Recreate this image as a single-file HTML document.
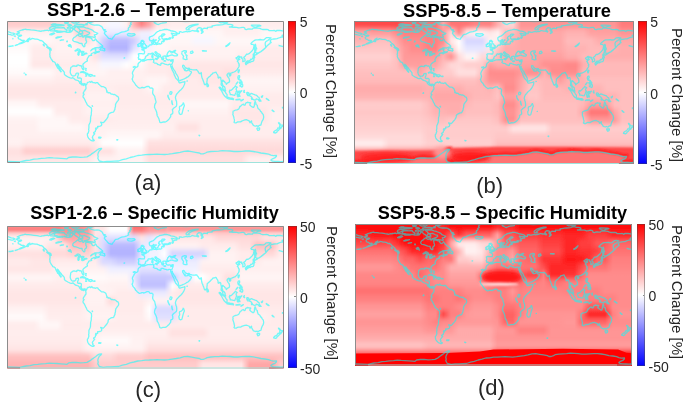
<!DOCTYPE html>
<html><head><meta charset="utf-8"><style>
html,body{margin:0;padding:0;background:#fff;width:685px;height:403px;overflow:hidden;position:relative}
.t{position:absolute;font-family:"Liberation Sans",sans-serif;white-space:nowrap;line-height:1}
.title{font-weight:bold;color:#000}
.lab{font-size:22px;color:#262626}
.tick{font-size:14px;color:#262626}
.ylab{font-size:15px;color:#262626;transform-origin:0 0;transform:rotate(90deg)}
.cb{position:absolute;box-sizing:border-box;border:1px solid rgba(70,70,70,0.45);background:linear-gradient(to bottom,#ff0000,#ffffff 50%,#0000ff);background-origin:border-box;background-repeat:no-repeat}
.cbt{position:absolute;width:1.5px;height:1px;background:rgba(60,60,60,0.6)}
svg.map{position:absolute;overflow:hidden}
</style></head><body>

<svg class="map" style="left:7px;top:21px" width="277" height="142" viewBox="0 0 277 142"><rect x="0" y="0" width="277" height="142" fill="#fde8e8"/><defs><filter id="bla" x="-5%" y="-5%" width="110%" height="110%"><feGaussianBlur stdDeviation="0.6 2.8"/></filter><linearGradient id="ga0" gradientUnits="userSpaceOnUse" x1="0" y1="0" x2="277.0" y2="0"><stop offset="0.014" stop-color="#ffcccc"/><stop offset="0.153" stop-color="#ffcccc"/><stop offset="0.181" stop-color="#ffd9d9"/><stop offset="0.292" stop-color="#ffd9d9"/><stop offset="0.319" stop-color="#fff2f2"/><stop offset="0.347" stop-color="#fff2f2"/><stop offset="0.375" stop-color="#f7f7ff"/><stop offset="0.403" stop-color="#f7f7ff"/><stop offset="0.431" stop-color="#fff2f2"/><stop offset="0.458" stop-color="#ffb2b2"/><stop offset="0.486" stop-color="#ff8080"/><stop offset="0.514" stop-color="#ffa6a6"/><stop offset="0.542" stop-color="#ffe6e6"/><stop offset="0.569" stop-color="#ffe6e6"/><stop offset="0.597" stop-color="#ffeded"/><stop offset="0.986" stop-color="#ffeded"/></linearGradient><linearGradient id="ga1" gradientUnits="userSpaceOnUse" x1="0" y1="0" x2="277.0" y2="0"><stop offset="0.014" stop-color="#fff2f2"/><stop offset="0.153" stop-color="#fff2f2"/><stop offset="0.181" stop-color="#ffebeb"/><stop offset="0.236" stop-color="#ffebeb"/><stop offset="0.264" stop-color="#ffcccc"/><stop offset="0.292" stop-color="#ffcccc"/><stop offset="0.319" stop-color="#fff2f2"/><stop offset="0.347" stop-color="#ebebff"/><stop offset="0.431" stop-color="#ebebff"/><stop offset="0.458" stop-color="#ffe6e6"/><stop offset="0.486" stop-color="#f0f0ff"/><stop offset="0.514" stop-color="#f0f0ff"/><stop offset="0.542" stop-color="#fffafa"/><stop offset="0.569" stop-color="#fffafa"/><stop offset="0.597" stop-color="#fff7f7"/><stop offset="0.764" stop-color="#fff7f7"/><stop offset="0.792" stop-color="#fff0f0"/><stop offset="0.903" stop-color="#fff0f0"/><stop offset="0.931" stop-color="#fff7f7"/><stop offset="0.986" stop-color="#fff7f7"/></linearGradient><linearGradient id="ga2" gradientUnits="userSpaceOnUse" x1="0" y1="0" x2="277.0" y2="0"><stop offset="0.014" stop-color="#fff7f7"/><stop offset="0.153" stop-color="#fff7f7"/><stop offset="0.181" stop-color="#fff2f2"/><stop offset="0.236" stop-color="#fff2f2"/><stop offset="0.264" stop-color="#ffe0e0"/><stop offset="0.292" stop-color="#ffe0e0"/><stop offset="0.319" stop-color="#fff2f2"/><stop offset="0.347" stop-color="#d1d1ff"/><stop offset="0.375" stop-color="#babaff"/><stop offset="0.431" stop-color="#babaff"/><stop offset="0.458" stop-color="#ccccff"/><stop offset="0.486" stop-color="#ebebff"/><stop offset="0.514" stop-color="#ebebff"/><stop offset="0.542" stop-color="#fff7f7"/><stop offset="0.653" stop-color="#fff7f7"/><stop offset="0.681" stop-color="#f7f7ff"/><stop offset="0.736" stop-color="#f7f7ff"/><stop offset="0.764" stop-color="#fff7f7"/><stop offset="0.986" stop-color="#fff7f7"/></linearGradient><linearGradient id="ga3" gradientUnits="userSpaceOnUse" x1="0" y1="0" x2="277.0" y2="0"><stop offset="0.014" stop-color="#fffafa"/><stop offset="0.069" stop-color="#fffafa"/><stop offset="0.097" stop-color="#ffebeb"/><stop offset="0.153" stop-color="#ffebeb"/><stop offset="0.181" stop-color="#fff2f2"/><stop offset="0.319" stop-color="#fff2f2"/><stop offset="0.347" stop-color="#ccccff"/><stop offset="0.375" stop-color="#b2b2ff"/><stop offset="0.431" stop-color="#b2b2ff"/><stop offset="0.458" stop-color="#e0e0ff"/><stop offset="0.486" stop-color="#f5f5ff"/><stop offset="0.514" stop-color="#f5f5ff"/><stop offset="0.542" stop-color="#fff7f7"/><stop offset="0.569" stop-color="#fff7f7"/><stop offset="0.597" stop-color="#fff2f2"/><stop offset="0.903" stop-color="#fff2f2"/><stop offset="0.931" stop-color="#ffebeb"/><stop offset="0.986" stop-color="#ffebeb"/></linearGradient><linearGradient id="ga4" gradientUnits="userSpaceOnUse" x1="0" y1="0" x2="277.0" y2="0"><stop offset="0.014" stop-color="#ffffff"/><stop offset="0.069" stop-color="#ffffff"/><stop offset="0.097" stop-color="#ffebeb"/><stop offset="0.153" stop-color="#ffebeb"/><stop offset="0.181" stop-color="#fff0f0"/><stop offset="0.292" stop-color="#fff0f0"/><stop offset="0.319" stop-color="#ffe0e0"/><stop offset="0.347" stop-color="#e0e0ff"/><stop offset="0.431" stop-color="#e0e0ff"/><stop offset="0.458" stop-color="#ffffff"/><stop offset="0.486" stop-color="#ffffff"/><stop offset="0.514" stop-color="#fff2f2"/><stop offset="0.819" stop-color="#fff2f2"/><stop offset="0.847" stop-color="#ffebeb"/><stop offset="0.986" stop-color="#ffebeb"/></linearGradient><linearGradient id="ga5" gradientUnits="userSpaceOnUse" x1="0" y1="0" x2="277.0" y2="0"><stop offset="0.014" stop-color="#ffffff"/><stop offset="0.069" stop-color="#ffffff"/><stop offset="0.097" stop-color="#ffe6e6"/><stop offset="0.153" stop-color="#ffe6e6"/><stop offset="0.181" stop-color="#ffebeb"/><stop offset="0.264" stop-color="#ffebeb"/><stop offset="0.292" stop-color="#fff2f2"/><stop offset="0.319" stop-color="#fff2f2"/><stop offset="0.347" stop-color="#f7f7ff"/><stop offset="0.403" stop-color="#f7f7ff"/><stop offset="0.431" stop-color="#ffffff"/><stop offset="0.458" stop-color="#fff7f7"/><stop offset="0.486" stop-color="#fff7f7"/><stop offset="0.514" stop-color="#ffebeb"/><stop offset="0.625" stop-color="#ffebeb"/><stop offset="0.653" stop-color="#ffe6e6"/><stop offset="0.986" stop-color="#ffe6e6"/></linearGradient><linearGradient id="ga6" gradientUnits="userSpaceOnUse" x1="0" y1="0" x2="277.0" y2="0"><stop offset="0.014" stop-color="#fffafa"/><stop offset="0.153" stop-color="#fffafa"/><stop offset="0.181" stop-color="#fff0f0"/><stop offset="0.264" stop-color="#fff0f0"/><stop offset="0.292" stop-color="#fff5f5"/><stop offset="0.347" stop-color="#fff5f5"/><stop offset="0.375" stop-color="#fff0f0"/><stop offset="0.486" stop-color="#fff0f0"/><stop offset="0.514" stop-color="#ffebeb"/><stop offset="0.569" stop-color="#ffebeb"/><stop offset="0.597" stop-color="#ffe6e6"/><stop offset="0.764" stop-color="#ffe6e6"/><stop offset="0.792" stop-color="#ffe0e0"/><stop offset="0.819" stop-color="#ffe0e0"/><stop offset="0.847" stop-color="#ffebeb"/><stop offset="0.986" stop-color="#ffebeb"/></linearGradient><linearGradient id="ga7" gradientUnits="userSpaceOnUse" x1="0" y1="0" x2="277.0" y2="0"><stop offset="0.014" stop-color="#fff0f0"/><stop offset="0.153" stop-color="#fff0f0"/><stop offset="0.181" stop-color="#ffebeb"/><stop offset="0.264" stop-color="#ffebeb"/><stop offset="0.292" stop-color="#fff0f0"/><stop offset="0.486" stop-color="#fff0f0"/><stop offset="0.514" stop-color="#fff5f5"/><stop offset="0.569" stop-color="#fff5f5"/><stop offset="0.597" stop-color="#ffebeb"/><stop offset="0.681" stop-color="#ffebeb"/><stop offset="0.708" stop-color="#ffe6e6"/><stop offset="0.819" stop-color="#ffe6e6"/><stop offset="0.847" stop-color="#fff5f5"/><stop offset="0.986" stop-color="#fff5f5"/></linearGradient><linearGradient id="ga8" gradientUnits="userSpaceOnUse" x1="0" y1="0" x2="277.0" y2="0"><stop offset="0.014" stop-color="#ffe6e6"/><stop offset="0.264" stop-color="#ffe6e6"/><stop offset="0.292" stop-color="#ffeded"/><stop offset="0.375" stop-color="#ffeded"/><stop offset="0.403" stop-color="#ffebeb"/><stop offset="0.486" stop-color="#ffebeb"/><stop offset="0.514" stop-color="#fff5f5"/><stop offset="0.542" stop-color="#fff5f5"/><stop offset="0.569" stop-color="#ffebeb"/><stop offset="0.819" stop-color="#ffebeb"/><stop offset="0.847" stop-color="#fff2f2"/><stop offset="0.986" stop-color="#fff2f2"/></linearGradient><linearGradient id="ga9" gradientUnits="userSpaceOnUse" x1="0" y1="0" x2="277.0" y2="0"><stop offset="0.014" stop-color="#ffe6e6"/><stop offset="0.264" stop-color="#ffe6e6"/><stop offset="0.292" stop-color="#fff2f2"/><stop offset="0.375" stop-color="#fff2f2"/><stop offset="0.403" stop-color="#ffebeb"/><stop offset="0.986" stop-color="#ffebeb"/></linearGradient><linearGradient id="ga10" gradientUnits="userSpaceOnUse" x1="0" y1="0" x2="277.0" y2="0"><stop offset="0.014" stop-color="#fff7f7"/><stop offset="0.097" stop-color="#fff7f7"/><stop offset="0.125" stop-color="#ffebeb"/><stop offset="0.264" stop-color="#ffebeb"/><stop offset="0.292" stop-color="#fff0f0"/><stop offset="0.375" stop-color="#fff0f0"/><stop offset="0.403" stop-color="#ffebeb"/><stop offset="0.597" stop-color="#ffebeb"/><stop offset="0.625" stop-color="#fff7f7"/><stop offset="0.792" stop-color="#fff7f7"/><stop offset="0.819" stop-color="#ffebeb"/><stop offset="0.986" stop-color="#ffebeb"/></linearGradient><linearGradient id="ga11" gradientUnits="userSpaceOnUse" x1="0" y1="0" x2="277.0" y2="0"><stop offset="0.014" stop-color="#ffffff"/><stop offset="0.153" stop-color="#ffffff"/><stop offset="0.181" stop-color="#ffebeb"/><stop offset="0.264" stop-color="#ffebeb"/><stop offset="0.292" stop-color="#fff2f2"/><stop offset="0.375" stop-color="#fff2f2"/><stop offset="0.403" stop-color="#ffeded"/><stop offset="0.597" stop-color="#ffeded"/><stop offset="0.625" stop-color="#fff2f2"/><stop offset="0.792" stop-color="#fff2f2"/><stop offset="0.819" stop-color="#ffe6e6"/><stop offset="0.931" stop-color="#ffe6e6"/><stop offset="0.958" stop-color="#fff0f0"/><stop offset="0.986" stop-color="#fff0f0"/></linearGradient><linearGradient id="ga12" gradientUnits="userSpaceOnUse" x1="0" y1="0" x2="277.0" y2="0"><stop offset="0.014" stop-color="#fff2f2"/><stop offset="0.097" stop-color="#fff2f2"/><stop offset="0.125" stop-color="#fff7f7"/><stop offset="0.208" stop-color="#fff7f7"/><stop offset="0.236" stop-color="#ffebeb"/><stop offset="0.375" stop-color="#ffebeb"/><stop offset="0.403" stop-color="#ffeded"/><stop offset="0.819" stop-color="#ffeded"/><stop offset="0.847" stop-color="#ffe6e6"/><stop offset="0.931" stop-color="#ffe6e6"/><stop offset="0.958" stop-color="#fff0f0"/><stop offset="0.986" stop-color="#fff0f0"/></linearGradient><linearGradient id="ga13" gradientUnits="userSpaceOnUse" x1="0" y1="0" x2="277.0" y2="0"><stop offset="0.014" stop-color="#fff0f0"/><stop offset="0.097" stop-color="#fff0f0"/><stop offset="0.125" stop-color="#fff7f7"/><stop offset="0.264" stop-color="#fff7f7"/><stop offset="0.292" stop-color="#fff0f0"/><stop offset="0.597" stop-color="#fff0f0"/><stop offset="0.625" stop-color="#ffe0e0"/><stop offset="0.681" stop-color="#ffe0e0"/><stop offset="0.708" stop-color="#ffeded"/><stop offset="0.986" stop-color="#ffeded"/></linearGradient><linearGradient id="ga14" gradientUnits="userSpaceOnUse" x1="0" y1="0" x2="277.0" y2="0"><stop offset="0.014" stop-color="#fff0f0"/><stop offset="0.264" stop-color="#fff0f0"/><stop offset="0.292" stop-color="#fff2f2"/><stop offset="0.347" stop-color="#fff2f2"/><stop offset="0.375" stop-color="#fff7f7"/><stop offset="0.542" stop-color="#fff7f7"/><stop offset="0.569" stop-color="#ffeded"/><stop offset="0.986" stop-color="#ffeded"/></linearGradient><linearGradient id="ga15" gradientUnits="userSpaceOnUse" x1="0" y1="0" x2="277.0" y2="0"><stop offset="0.014" stop-color="#fff2f2"/><stop offset="0.042" stop-color="#fff2f2"/><stop offset="0.069" stop-color="#ffebeb"/><stop offset="0.319" stop-color="#ffebeb"/><stop offset="0.347" stop-color="#ffffff"/><stop offset="0.486" stop-color="#ffffff"/><stop offset="0.514" stop-color="#ffe0e0"/><stop offset="0.986" stop-color="#ffe0e0"/></linearGradient><linearGradient id="ga16" gradientUnits="userSpaceOnUse" x1="0" y1="0" x2="277.0" y2="0"><stop offset="0.014" stop-color="#ffe0e0"/><stop offset="0.042" stop-color="#ffe0e0"/><stop offset="0.069" stop-color="#ffcccc"/><stop offset="0.292" stop-color="#ffcccc"/><stop offset="0.319" stop-color="#ffe0e0"/><stop offset="0.375" stop-color="#ffe0e0"/><stop offset="0.403" stop-color="#fff2f2"/><stop offset="0.486" stop-color="#fff2f2"/><stop offset="0.514" stop-color="#ffd9d9"/><stop offset="0.986" stop-color="#ffd9d9"/></linearGradient><linearGradient id="ga17" gradientUnits="userSpaceOnUse" x1="0" y1="0" x2="277.0" y2="0"><stop offset="0.014" stop-color="#ffe6e6"/><stop offset="0.292" stop-color="#ffe6e6"/><stop offset="0.319" stop-color="#fff2f2"/><stop offset="0.486" stop-color="#fff2f2"/><stop offset="0.514" stop-color="#ffe0e0"/><stop offset="0.847" stop-color="#ffe0e0"/><stop offset="0.875" stop-color="#fff0f0"/><stop offset="0.986" stop-color="#fff0f0"/></linearGradient></defs><g filter="url(#bla)"><rect x="-4" y="-7.89" width="285.0" height="8.39" fill="url(#ga0)"/><rect x="-4" y="0.00" width="285.0" height="8.39" fill="url(#ga0)"/><rect x="-4" y="7.89" width="285.0" height="8.39" fill="url(#ga1)"/><rect x="-4" y="15.78" width="285.0" height="8.39" fill="url(#ga2)"/><rect x="-4" y="23.67" width="285.0" height="8.39" fill="url(#ga3)"/><rect x="-4" y="31.56" width="285.0" height="8.39" fill="url(#ga4)"/><rect x="-4" y="39.44" width="285.0" height="8.39" fill="url(#ga5)"/><rect x="-4" y="47.33" width="285.0" height="8.39" fill="url(#ga6)"/><rect x="-4" y="55.22" width="285.0" height="8.39" fill="url(#ga7)"/><rect x="-4" y="63.11" width="285.0" height="8.39" fill="url(#ga8)"/><rect x="-4" y="71.00" width="285.0" height="8.39" fill="url(#ga9)"/><rect x="-4" y="78.89" width="285.0" height="8.39" fill="url(#ga10)"/><rect x="-4" y="86.78" width="285.0" height="8.39" fill="url(#ga11)"/><rect x="-4" y="94.67" width="285.0" height="8.39" fill="url(#ga12)"/><rect x="-4" y="102.56" width="285.0" height="8.39" fill="url(#ga13)"/><rect x="-4" y="110.44" width="285.0" height="8.39" fill="url(#ga14)"/><rect x="-4" y="118.33" width="285.0" height="8.39" fill="url(#ga15)"/><rect x="-4" y="126.22" width="285.0" height="8.39" fill="url(#ga16)"/><rect x="-4" y="134.11" width="285.0" height="8.39" fill="url(#ga17)"/><rect x="-4" y="142.00" width="285.0" height="8.39" fill="url(#ga17)"/></g><path d="M17.9,8.2 19.6,8.5 21.5,8.6 23.9,8.9 26.9,9.2 30.0,9.7 32.3,10.0 33.9,10.3 35.0,9.8 36.2,9.9 37.7,9.5 38.9,9.3 40.4,9.1 41.5,9.8 42.6,9.2 43.9,9.8 45.4,9.8 47.3,10.0 49.2,10.3 50.0,11.3 52.3,11.3 54.6,11.1 55.8,10.9 56.9,10.4 60.0,11.3 62.7,11.3 64.2,10.8 65.0,10.0 65.8,8.9 65.6,7.8 67.3,8.5 68.1,9.3 69.6,10.4 70.8,11.1 71.9,11.7 72.9,10.4 73.1,9.5 74.6,9.7 75.4,11.1 75.9,12.2 73.9,12.6 72.1,12.4 71.2,13.5 69.6,14.6 68.5,15.7 66.9,16.6 65.8,18.1 65.7,19.2 66.9,20.4 68.9,20.8 70.8,21.4 72.7,22.3 75.0,22.5 75.3,23.9 75.9,24.8 76.9,25.8 77.7,25.5 77.9,24.8 77.7,23.3 79.3,21.8 79.6,20.3 78.9,19.2 78.9,18.0 78.6,16.8 79.3,16.0 81.2,16.2 83.1,16.8 84.6,17.3 85.0,18.6 85.8,19.5 86.9,19.6 87.7,19.1 88.5,17.9 89.1,18.6 90.0,20.1 91.2,21.1 92.3,22.0 93.9,23.2 94.6,23.9 95.6,24.8 95.0,25.6 93.5,25.9 91.9,26.8 90.0,26.7 88.1,26.7 86.9,27.4 85.8,27.9 84.8,28.5 83.7,29.8 85.0,28.8 86.6,27.8 88.5,27.7 89.0,28.0 88.6,28.7 88.3,29.2 88.6,29.6 88.9,30.2 90.0,30.7 91.2,30.7 92.3,30.3 92.3,30.8 91.4,31.2 89.6,31.7 87.9,32.7 87.6,31.8 88.9,31.1 88.1,31.2 86.9,31.5 85.8,32.0 84.6,32.5 84.0,33.5 84.6,34.0 84.6,34.3 83.9,34.4 82.7,34.7 81.6,35.2 81.5,35.9 80.9,36.7 80.7,37.0 80.3,37.7 80.0,38.4 80.3,39.1 80.4,39.9 79.6,40.4 78.9,40.7 78.1,41.2 77.5,41.8 76.7,42.5 76.0,43.3 75.9,44.3 76.2,45.2 76.6,46.1 76.9,47.2 76.9,48.2 76.6,48.8 76.0,48.7 75.6,47.9 74.9,46.8 74.8,45.9 74.3,44.9 73.7,44.6 72.9,44.8 71.9,44.2 70.8,44.0 69.8,44.3 69.9,45.2 69.1,45.4 68.1,45.0 66.9,44.8 65.8,45.0 65.0,45.7 64.0,46.3 63.6,47.2 63.6,48.3 63.3,49.9 63.2,51.2 63.6,52.5 64.2,53.8 65.0,54.5 65.8,55.0 66.9,54.8 67.9,54.6 68.7,53.9 68.9,52.7 69.6,52.2 71.2,52.1 71.6,52.5 71.3,53.8 70.9,54.9 70.6,55.6 70.6,56.7 71.2,57.1 72.3,57.0 73.5,57.1 74.4,57.8 74.3,59.1 74.2,60.9 74.6,62.2 75.4,63.0 76.6,63.0 77.3,62.6 78.1,62.8 78.9,63.4 79.4,63.9 79.9,62.8 80.3,61.8 80.9,61.3 81.9,61.0 82.9,60.5 83.6,61.4 84.5,60.8 84.8,60.3 85.3,60.9 86.0,61.7 87.3,61.7 88.5,62.1 89.4,61.6 90.8,61.6 90.9,62.2 91.6,63.1 92.2,63.5 93.1,64.4 93.9,65.0 94.6,65.7 96.2,65.7 97.1,66.0 98.1,66.6 98.9,67.3 99.3,68.4 99.6,69.4 100.0,70.1 99.6,71.0 100.8,71.2 101.2,71.9 102.0,71.6 103.1,71.9 104.3,73.2 105.4,73.2 106.6,73.6 107.7,73.5 108.9,74.3 109.9,75.2 111.0,75.6 111.5,76.7 111.7,77.6 111.5,78.9 111.0,79.6 110.2,80.5 109.5,81.6 108.9,82.5 108.5,83.8 108.5,85.5 108.0,86.9 107.9,88.3 107.3,89.3 107.0,90.4 106.2,91.2 105.0,91.3 104.1,91.6 103.1,92.1 102.0,92.8 101.2,93.8 101.1,95.2 100.8,96.2 99.9,97.6 99.3,98.5 98.3,99.5 97.3,100.8 96.3,101.7 95.4,101.7 94.6,101.4 93.6,101.1 94.3,102.1 94.6,103.0 94.8,103.6 94.2,104.7 93.1,105.1 91.6,105.4 90.6,105.4 90.8,106.7 90.0,107.2 88.9,106.9 88.5,108.0 89.3,108.4 88.5,109.3 88.3,110.6 86.9,111.3 86.6,112.0 87.7,112.8 86.6,114.2 85.8,115.2 85.3,116.4 85.9,117.1 85.7,118.0 86.2,118.6 87.3,119.3 86.6,119.9 85.4,119.9 83.9,119.3 82.7,118.4 81.6,117.2 80.8,115.9 80.4,114.2 80.4,112.8 81.2,112.0 81.6,110.6 81.9,109.6 81.6,108.4 81.9,107.1 81.9,105.8 81.9,104.0 82.5,102.7 83.1,101.4 83.5,100.1 83.5,98.7 83.6,97.4 83.6,96.1 84.0,94.8 84.3,93.5 84.3,91.7 84.6,89.9 84.5,88.2 84.4,87.1 83.6,86.5 82.7,85.8 81.6,84.9 80.4,84.0 79.8,82.9 79.4,81.8 78.9,81.1 78.3,79.8 77.7,78.5 77.1,77.3 76.3,76.5 76.0,75.4 76.2,74.5 76.7,74.0 77.1,73.2 76.3,72.9 76.3,71.9 76.9,70.7 77.1,70.1 77.9,69.6 78.1,68.8 78.9,67.9 79.0,67.0 78.9,65.7 78.6,64.7 78.1,63.7 77.3,63.2 76.6,63.7 76.8,64.5 76.2,64.2 75.6,63.9 74.7,63.8 74.2,63.2 73.5,62.6 72.9,62.3 72.5,61.7 72.6,61.1 71.9,60.5 71.2,59.6 70.4,59.4 69.4,59.1 68.3,58.8 67.5,58.1 66.6,57.2 65.8,56.7 65.0,57.1 64.2,57.2 63.2,56.9 61.9,56.3 60.8,55.8 59.6,55.1 58.5,54.4 57.5,53.6 57.3,52.7 57.5,51.8 57.1,51.0 56.3,50.0 55.4,49.0 54.5,48.3 54.2,47.4 53.4,46.5 52.6,45.8 52.1,45.0 51.6,44.1 50.8,43.4 50.2,43.0 50.3,43.9 51.2,45.0 51.7,45.9 52.3,47.0 52.7,47.8 53.2,49.2 53.7,49.9 54.2,50.6 53.9,50.8 53.5,50.3 52.6,49.4 52.2,48.5 51.6,47.7 50.6,47.0 50.4,46.3 49.6,45.0 48.9,43.7 48.4,42.4 48.2,41.7 47.4,41.0 46.6,40.7 45.7,40.5 45.5,39.7 44.7,38.8 44.2,38.0 43.9,37.3 43.2,36.2 42.9,35.5 43.0,34.4 42.7,33.3 43.0,31.8 43.1,30.3 42.9,29.6 42.6,28.4 43.9,28.6 44.2,29.3 44.0,27.9 43.5,27.3 42.3,26.7 41.2,26.1 40.2,25.4 39.8,24.3 38.7,23.2 38.2,22.7 37.3,22.1 36.5,21.2 35.8,20.3 34.2,19.5 33.2,19.6 32.3,19.0 30.9,18.4 29.6,18.1 28.1,18.1 26.5,17.7 25.0,17.4 24.2,18.1 23.1,18.6 21.7,18.9 21.9,17.7 22.9,17.1 21.2,17.9 20.4,18.8 19.9,19.6 18.5,20.5 17.3,21.2 15.8,21.8 14.6,22.3 13.5,22.7 11.7,23.1 12.7,22.4 14.0,21.8 15.4,21.2 16.5,20.3 17.3,19.6 16.9,19.3 15.8,19.4 14.2,19.4 13.7,18.4 12.5,18.1 11.4,17.6 11.1,16.6 11.5,15.9 12.2,15.3 13.9,15.1 14.6,14.4 13.9,14.1 12.3,14.2 10.6,14.1 10.3,13.6 9.2,13.2 10.4,12.7 11.9,12.3 12.5,11.9 11.2,11.2 10.2,10.8 11.5,10.3 13.1,9.6 15.0,9.0 16.9,8.5 17.9,8.2M104.7,18.3 103.5,17.7 101.6,17.3 100.4,15.9 99.6,14.9 98.9,14.2 98.1,13.3 97.3,12.2 97.7,11.1 99.3,10.4 97.3,9.8 96.9,9.3 98.5,8.9 96.6,8.5 95.8,7.6 95.4,6.3 94.3,5.4 92.3,4.2 90.0,3.9 87.3,4.1 85.4,3.6 83.5,2.8 82.3,1.9 84.3,1.4 86.9,0.5 90.0,-0.4 93.9,-1.2 100.0,-1.7 104.6,-2.1 111.6,-2.6 117.7,-2.4 122.3,-1.8 125.4,-1.1 128.9,-0.8 126.2,0.1 124.3,1.0 123.5,2.3 124.3,3.3 122.7,4.5 123.1,5.4 121.6,6.7 121.2,8.0 121.7,8.9 120.0,9.8 117.7,10.7 114.6,11.1 112.7,12.0 110.8,13.0 108.9,13.3 107.7,14.2 107.0,15.5 105.8,16.8 105.4,17.7 104.7,18.3M88.6,16.4 87.3,13.9 89.6,13.3 90.8,12.3 88.9,11.5 86.9,10.7 85.8,9.3 84.3,8.6 82.7,8.0 81.2,7.4 78.9,6.9 76.9,6.2 73.9,6.2 70.4,6.4 71.6,7.1 72.7,8.5 73.5,9.3 75.8,9.8 77.7,9.4 78.9,10.0 80.4,10.8 82.3,11.3 82.7,12.2 81.9,13.0 80.8,13.7 78.9,14.3 80.0,15.1 81.6,15.3 83.5,15.7 85.4,15.9 87.7,16.5 88.6,16.4M71.9,15.0 73.1,15.5 75.4,14.8 75.8,14.2 74.3,13.6 72.3,12.9 71.2,14.2 71.9,15.0M60.4,10.0 58.1,10.3 55.4,10.4 51.2,10.0 48.1,9.5 47.3,8.5 48.1,7.1 50.8,6.5 53.9,6.9 56.9,6.5 58.1,8.0 59.6,8.9 60.4,10.0M41.9,7.7 43.1,6.3 45.4,5.4 48.1,5.6 49.6,6.3 47.3,7.1 44.6,8.3 41.9,7.7M60.4,7.8 63.5,8.0 64.2,6.9 62.7,6.0 60.4,6.7 60.4,7.8M65.4,7.6 66.9,7.6 68.9,6.3 65.8,5.7 65.0,6.7 65.4,7.6M76.9,5.3 73.9,5.4 69.2,5.3 67.3,4.9 67.7,3.9 70.8,3.7 75.0,3.6 76.9,4.2 76.9,5.3M80.8,3.6 77.3,3.9 74.6,3.3 69.6,3.5 70.0,2.1 72.3,1.0 70.4,0.1 68.5,-0.4 73.1,-1.2 78.5,-2.0 84.6,-2.1 90.8,-1.7 88.9,-1.0 85.4,0.0 83.5,0.7 80.8,1.4 80.4,2.3 78.5,3.2 80.8,3.6M69.2,1.8 66.2,2.0 64.6,1.0 65.4,0.0 68.1,0.1 69.2,1.0 69.2,1.8M57.7,4.2 53.9,4.8 50.4,4.9 48.1,4.2 50.0,3.5 53.9,3.7 56.9,4.1 57.7,4.2M63.9,4.9 61.2,4.8 60.8,3.8 63.1,3.5 64.6,4.4 63.9,4.9M49.6,3.6 46.9,4.2 44.2,3.8 46.2,2.9 48.9,3.0 49.6,3.6M61.6,2.3 58.1,2.6 57.7,1.4 61.2,1.4 61.6,2.3M64.2,10.4 62.7,10.6 61.9,9.7 63.5,9.4 64.2,10.4M92.9,29.1 95.4,29.1 96.2,29.5 97.3,29.9 98.0,29.1 97.3,28.3 97.7,27.6 95.8,27.1 95.4,26.1 95.8,25.5 94.6,26.1 93.9,27.4 92.9,28.3 92.9,29.1M43.6,28.4 42.3,28.0 40.8,27.0 39.7,26.3 40.4,26.2 41.9,26.7 43.1,27.6 43.6,28.4M73.1,51.7 73.9,51.0 75.4,50.6 76.9,50.7 78.9,51.8 80.3,52.4 81.4,53.2 80.3,53.5 78.7,53.5 79.1,52.8 78.1,52.0 76.2,51.6 74.8,51.1 73.9,51.7 73.1,51.7M81.3,54.8 82.5,53.5 84.6,53.6 85.9,54.6 84.6,55.0 83.5,55.5 82.7,55.0 81.3,54.8M78.3,54.8 79.8,55.0 79.4,55.2 78.6,55.2 78.3,54.8M86.8,54.7 88.0,54.8 88.0,55.1 86.8,55.1 86.8,54.7M120.0,13.3 121.6,12.5 124.3,12.8 127.0,12.6 128.1,13.6 127.0,14.4 124.7,15.2 122.3,14.8 121.2,14.6 120.0,13.3M20.4,20.8 21.4,20.3 21.1,19.9 19.9,20.3 20.4,20.8M36.2,24.3 37.3,25.0 36.9,23.4 36.2,23.4 36.2,24.3M134.2,39.3 133.9,38.9 133.6,38.6 133.1,38.2 132.4,38.4 131.7,38.4 131.7,37.2 131.2,36.9 131.6,36.1 131.8,35.2 131.7,34.1 131.3,33.1 132.2,32.6 133.1,32.6 134.7,32.7 135.8,32.8 137.1,32.8 137.5,31.8 137.6,30.5 136.8,29.4 135.8,29.0 135.0,28.8 134.9,28.4 135.8,28.0 137.0,28.2 137.3,28.1 137.0,27.2 137.7,27.5 138.7,27.4 139.6,26.9 139.7,26.2 140.4,26.0 141.3,25.7 141.8,25.2 142.2,24.4 142.8,24.0 143.9,23.8 144.7,23.8 145.2,23.5 145.1,22.6 144.7,22.0 144.8,21.0 145.8,20.7 146.7,20.2 146.5,20.8 146.4,21.3 146.9,21.4 146.2,22.1 146.0,22.6 146.2,22.9 146.9,23.1 147.0,23.4 147.7,23.3 148.5,23.0 149.4,23.5 151.2,23.0 152.6,22.7 152.8,23.1 153.6,23.0 154.8,22.4 154.7,21.7 154.7,21.0 155.1,20.4 155.8,20.2 156.4,20.8 157.0,20.7 157.3,19.6 156.6,19.4 156.6,18.9 157.6,18.6 158.9,18.6 160.0,18.6 161.7,18.2 160.8,18.0 159.3,17.7 157.7,17.9 156.1,18.2 155.4,17.8 155.0,17.3 155.0,16.4 154.7,15.7 155.6,15.1 156.6,14.5 157.4,13.8 158.0,13.5 157.4,13.0 156.6,13.0 155.7,13.0 155.0,13.4 154.9,13.9 154.4,14.6 153.4,15.0 152.7,15.6 152.0,16.0 151.8,16.8 151.7,17.5 152.5,17.9 153.0,18.3 152.7,18.8 151.8,19.3 151.3,20.0 151.1,21.1 150.5,21.6 149.5,22.0 148.5,22.2 148.4,21.8 148.2,21.3 148.0,20.9 147.7,20.3 147.2,19.4 146.7,18.3 146.3,18.9 145.8,19.1 144.8,19.7 143.9,19.9 143.1,19.6 142.8,19.2 142.5,18.6 142.3,17.7 142.3,17.1 142.4,16.4 143.1,15.9 143.9,15.5 145.0,15.1 145.8,14.8 146.6,14.2 147.3,13.7 148.1,12.9 148.9,12.0 149.7,11.3 150.3,10.7 151.2,10.4 152.0,10.0 152.7,9.5 153.9,9.3 155.0,9.1 156.2,8.8 157.4,8.5 158.4,8.4 159.3,8.5 160.4,8.5 161.6,9.0 162.4,9.1 163.9,9.9 165.4,10.0 167.0,10.3 168.1,10.7 169.3,11.3 170.1,11.8 170.0,12.4 168.5,12.8 167.0,12.7 165.4,12.3 164.3,12.2 165.0,13.0 165.3,14.1 166.0,14.4 167.0,14.7 167.6,14.3 168.9,14.1 169.7,14.1 169.3,13.3 170.4,12.8 172.0,12.5 172.4,12.4 172.3,10.9 173.9,10.7 175.0,11.3 176.2,11.2 177.4,10.8 179.3,10.4 180.4,10.8 181.4,10.7 182.7,10.6 183.9,10.2 185.1,9.5 185.8,9.6 187.7,10.0 189.3,10.0 190.1,10.4 191.2,10.9 191.6,10.4 190.8,9.5 189.9,8.9 190.2,8.0 191.2,7.0 192.0,6.6 193.5,6.8 194.5,7.3 194.3,8.2 193.9,8.9 194.4,9.8 195.1,10.7 194.8,12.0 194.3,12.4 195.8,11.5 196.2,10.8 195.8,10.2 195.3,9.3 195.4,8.5 196.6,7.3 197.7,7.1 198.9,7.3 200.4,7.6 200.4,6.3 202.4,6.2 204.3,6.0 205.4,5.8 205.1,4.9 207.0,4.6 209.3,4.2 211.6,4.0 213.9,3.8 215.8,3.6 217.0,3.0 218.8,2.6 220.1,2.8 221.2,3.3 223.1,3.4 224.7,3.7 225.8,4.1 225.8,4.9 223.9,5.8 222.4,6.0 224.3,6.1 225.8,6.3 227.4,6.1 229.7,6.3 231.6,6.8 233.5,6.6 235.4,6.3 236.6,6.3 237.8,7.1 238.1,8.3 239.7,8.6 240.8,8.0 242.4,7.9 243.9,8.1 245.5,8.0 246.1,7.1 247.0,7.0 248.9,7.0 250.8,7.2 252.8,7.4 253.9,7.9 255.5,8.5 257.4,8.5 259.7,8.5 261.2,8.7 262.0,9.5 263.5,9.7 265.5,9.6 267.4,9.5 268.9,10.4 269.7,9.5 271.2,9.4 273.2,9.5 275.5,9.9 277.0,10.3M277.0,13.7 275.8,14.1 275.1,14.4 276.1,15.2 276.5,16.1 274.7,15.9 272.8,16.6 271.6,17.0 270.1,17.7 268.9,17.8 267.0,18.0 265.5,18.2 264.3,18.3 263.8,19.0 263.1,19.9 264.2,21.5 263.1,21.8 262.8,22.7 261.6,23.4 260.5,24.4 259.7,25.4 259.1,26.2 258.7,25.6 258.3,23.9 258.2,22.1 258.8,20.8 259.7,20.1 260.8,19.5 262.0,18.6 262.8,17.8 263.9,16.8 261.6,16.6 259.3,16.7 257.8,18.1 257.0,18.8 255.1,18.9 253.1,18.5 250.8,18.8 248.9,18.8 247.4,19.4 246.6,20.1 245.1,21.2 243.9,22.6 244.3,23.3 245.8,23.3 247.1,24.4 247.1,25.0 246.7,26.1 246.5,27.7 245.8,28.9 244.9,30.0 243.5,31.4 242.5,32.4 240.8,33.3 239.9,33.0 239.1,33.7 238.3,35.1 237.4,35.8 236.7,36.2 237.3,37.0 237.9,38.0 238.1,39.3 238.0,39.9 237.4,40.2 236.6,40.4 235.8,40.7 235.8,40.0 235.9,39.3 235.8,38.4 235.9,37.8 235.1,37.7 234.5,37.1 234.9,36.3 234.2,35.9 232.8,36.2 232.1,36.7 231.8,36.2 232.5,35.3 231.6,35.1 230.8,35.6 230.3,36.3 229.3,36.6 229.0,37.0 229.7,37.8 230.1,38.2 230.8,38.0 231.4,37.7 232.8,38.1 232.0,38.6 231.1,39.2 230.3,40.2 231.1,40.9 231.5,42.3 232.3,43.1 231.8,44.0 232.3,44.6 232.0,45.5 231.4,46.6 230.6,47.7 230.2,48.7 229.3,49.4 228.4,50.4 227.0,51.0 225.9,51.4 224.7,51.9 223.5,52.3 223.3,53.1 222.9,52.5 222.0,52.0 221.1,52.4 220.4,53.1 220.0,54.1 220.5,55.1 221.2,56.4 222.0,57.3 222.5,59.1 222.5,60.8 221.8,61.4 220.7,61.9 219.3,63.3 219.1,62.4 218.9,61.8 218.1,61.7 217.7,60.8 217.2,60.3 216.2,59.8 216.1,59.2 215.5,59.2 215.4,60.3 214.8,61.9 215.4,62.9 215.8,64.4 216.2,64.9 217.1,65.5 217.8,66.3 218.1,67.5 218.1,68.5 218.7,69.7 218.1,69.9 217.4,69.3 216.4,68.4 215.9,67.5 215.7,66.3 215.6,65.3 215.1,64.8 214.2,64.0 214.1,62.9 214.4,61.8 214.3,60.2 213.9,58.2 213.7,56.7 213.1,56.2 212.5,56.2 211.8,57.1 211.1,56.7 211.1,55.5 210.7,54.0 210.0,53.0 209.4,52.1 209.1,51.2 208.2,51.4 207.4,51.7 206.7,51.8 205.7,52.1 205.3,52.9 204.1,53.8 203.3,54.9 201.9,56.0 201.0,56.9 200.2,57.6 200.2,59.0 199.9,60.6 199.9,61.9 199.3,62.8 198.7,63.2 198.1,63.9 197.4,63.2 197.1,62.2 196.7,60.9 196.1,59.6 195.7,58.2 195.1,57.0 194.7,55.6 194.5,54.3 194.4,52.9 194.4,52.1 194.1,51.4 193.9,52.3 193.0,52.8 192.0,52.1 191.6,51.3 191.4,51.2 191.1,50.3 190.4,49.7 189.9,49.1 189.7,48.6 188.1,48.8 186.2,48.9 185.1,48.7 183.7,48.4 182.7,48.3 182.4,47.4 181.8,47.1 180.8,47.5 179.7,47.4 178.9,46.9 178.0,46.2 177.4,45.3 177.0,44.5 176.1,44.2 175.6,44.7 175.7,45.9 176.2,46.8 176.7,47.4 177.0,47.9 177.6,49.2 178.0,48.0 178.2,49.0 178.2,49.7 179.3,49.8 180.4,49.5 181.2,48.6 181.7,47.9 181.9,48.1 181.8,49.1 182.2,49.6 182.9,50.0 183.7,50.3 184.5,51.2 184.1,52.1 183.6,52.9 183.0,53.4 182.9,54.3 182.2,54.6 181.6,55.2 181.0,55.8 180.1,56.1 178.7,57.1 177.4,57.8 176.2,58.2 175.4,58.7 173.9,59.2 173.1,59.6 172.0,59.8 171.8,59.1 171.4,57.8 171.3,56.5 170.7,55.3 169.9,53.8 169.0,52.7 168.6,51.6 168.1,50.3 167.4,49.4 166.6,48.3 165.9,47.0 165.2,46.2 165.4,45.0 165.1,45.6 164.9,46.3 164.4,45.8 163.8,44.9 163.6,44.7 163.7,45.3 164.3,46.8 164.8,47.9 165.4,49.4 165.9,50.3 166.6,51.6 167.1,52.5 167.2,53.8 167.9,55.1 168.5,56.5 169.0,57.4 169.8,58.1 170.6,59.1 171.4,59.9 171.8,60.5 171.7,60.9 172.4,61.8 173.1,61.8 174.3,61.5 175.4,61.1 176.6,61.0 177.9,60.5 177.8,61.8 177.7,62.6 177.4,63.5 176.8,64.8 176.2,66.0 175.3,67.3 174.3,68.4 173.3,69.3 172.4,70.1 171.6,71.0 170.8,71.9 170.0,72.8 169.4,73.5 168.9,74.7 168.6,75.7 168.4,76.7 168.7,77.9 169.0,79.4 169.5,80.2 169.7,82.0 169.7,83.8 169.3,85.3 168.0,86.3 167.0,86.9 166.0,88.0 165.3,88.8 165.7,89.9 165.8,90.8 165.8,92.1 165.2,92.9 164.3,93.4 163.7,93.8 163.8,94.6 163.6,95.9 163.0,96.7 162.2,97.9 161.4,98.7 160.3,99.7 159.3,100.5 158.3,101.0 157.4,101.0 156.2,101.0 155.0,101.3 153.9,101.7 153.1,101.4 152.7,101.1 152.7,100.5 152.4,99.6 152.0,98.1 151.4,96.8 151.1,96.2 150.3,95.0 150.0,93.5 149.7,91.3 149.3,90.2 148.7,88.8 147.9,87.3 147.5,86.2 147.6,84.9 147.9,83.5 148.3,82.5 149.0,81.6 149.0,80.4 148.6,79.2 148.3,78.0 147.9,76.4 147.7,75.4 147.0,74.4 146.2,73.4 145.6,72.1 145.7,70.7 145.9,69.7 146.0,68.8 146.0,67.8 145.4,67.5 145.0,66.9 144.0,67.1 143.1,67.2 142.6,66.4 142.0,65.5 141.2,65.4 140.0,65.5 139.4,65.6 138.5,66.1 137.3,66.6 136.9,66.9 136.0,66.5 135.0,66.4 133.9,66.8 132.7,67.1 132.0,66.9 131.0,66.2 130.2,65.5 129.4,64.6 128.6,64.0 128.3,63.1 127.7,62.3 127.2,61.5 126.6,60.9 125.9,60.1 125.6,59.1 125.3,58.2 125.0,58.0 125.6,57.1 125.9,56.0 126.1,54.7 125.9,53.7 125.4,52.6 125.5,51.6 126.0,50.3 126.6,49.4 127.2,48.3 127.7,47.6 128.6,46.4 129.7,46.2 130.7,45.5 131.0,44.6 131.0,43.7 131.3,42.5 132.0,41.7 133.1,41.0 133.6,40.2 134.0,39.5 134.4,39.4 135.0,40.0 136.2,39.9 137.0,40.1 137.7,39.6 138.5,39.4 139.7,38.8 140.8,38.6 142.3,38.6 143.5,38.4 144.7,38.5 145.8,38.1 146.3,38.2 147.0,38.4 146.6,38.9 146.7,39.6 147.0,40.0 146.6,40.6 146.3,41.1 146.8,41.5 147.3,41.8 148.1,42.1 148.9,42.1 150.2,42.5 150.4,43.3 151.2,43.5 152.4,43.9 153.1,44.3 153.7,44.0 154.0,43.3 153.9,42.6 154.7,42.1 155.8,42.1 156.4,42.5 157.4,42.8 157.9,43.2 158.9,43.3 160.0,43.6 161.0,43.8 162.0,43.3 162.7,43.2 163.4,43.5 164.3,43.6 164.9,43.3 165.2,42.6 165.4,41.9 165.8,41.0 166.1,40.2 166.0,39.5 166.4,38.8 165.9,38.8 165.1,38.6 164.5,39.1 163.5,39.2 162.7,38.7 162.0,38.8 161.2,39.1 160.3,38.7 159.5,38.4 159.4,37.7 158.8,37.3 159.1,36.8 159.0,36.2 158.7,35.8 159.0,35.4 159.7,35.4 160.8,35.4 161.5,35.1 160.9,34.8 162.0,34.7 162.7,34.6 163.9,34.1 165.0,34.0 165.6,34.0 166.2,34.4 167.4,34.8 168.5,34.9 169.7,34.9 170.4,34.4 170.5,33.6 169.3,32.8 168.1,31.9 167.2,31.4 167.4,31.1 168.1,30.0 168.7,29.4 167.7,29.5 166.6,30.0 165.4,30.7 165.7,31.2 166.6,31.0 165.6,31.5 164.7,31.9 164.2,31.7 163.9,31.0 163.5,30.8 164.4,30.5 163.1,30.1 162.4,30.0 162.0,30.3 161.4,31.1 160.7,31.7 160.5,32.7 160.0,33.3 160.0,34.0 160.7,34.6 160.4,34.9 159.7,34.9 158.8,35.2 158.7,35.6 158.5,35.1 157.7,35.0 157.0,35.1 155.9,35.3 155.9,36.2 156.2,36.7 156.9,37.3 156.2,37.7 156.4,38.4 155.9,38.8 155.4,38.5 155.0,38.4 154.7,37.7 155.0,37.3 154.5,36.8 154.0,36.1 153.5,35.3 153.4,34.2 152.7,33.6 151.9,32.9 150.8,32.6 150.2,32.0 149.5,31.2 149.0,30.8 148.6,30.7 148.0,31.1 148.0,31.8 149.0,32.7 149.5,33.7 150.5,34.1 151.0,34.2 152.0,35.1 152.7,35.7 152.2,35.5 151.7,35.3 151.2,35.9 151.7,36.6 151.2,37.2 150.6,37.6 150.7,36.9 150.8,36.2 150.4,35.7 150.0,35.5 149.3,35.0 148.5,34.6 147.7,34.1 147.0,33.5 146.6,32.9 146.3,32.3 145.6,32.0 144.8,32.3 144.3,32.4 143.5,33.0 142.3,32.8 141.6,32.7 141.0,33.1 140.9,33.8 141.0,34.2 140.0,34.7 139.1,35.1 138.3,36.2 138.7,36.8 138.1,37.3 137.9,37.9 137.1,38.4 136.8,38.7 135.8,38.7 135.0,38.8 134.7,38.9 134.2,39.3M0.0,10.3 2.3,11.1 4.2,11.9 6.2,12.1 7.9,12.8 6.9,13.3 5.8,14.2 4.6,14.1 3.5,13.7 1.9,13.4 1.2,13.2 0.0,13.7M174.7,31.8 175.0,30.8 176.2,30.0 177.7,29.6 179.3,29.8 179.4,31.1 178.0,31.4 177.7,31.9 179.0,33.4 179.1,34.4 180.1,34.4 179.5,35.9 179.9,37.5 180.0,38.4 178.5,38.6 177.2,38.1 176.2,37.9 176.1,36.8 176.6,35.6 176.0,34.4 175.1,33.3 174.8,32.4 174.7,31.8M148.0,37.7 148.7,37.3 150.5,37.3 150.1,38.1 150.0,38.7 149.5,38.4 148.3,37.9 148.0,37.7M145.0,36.6 144.8,35.0 145.6,34.7 146.0,35.0 145.9,36.5 145.4,36.6 145.0,36.6M145.1,34.5 145.1,33.7 145.7,33.1 145.8,33.7 145.6,34.5 145.1,34.5M156.6,39.9 157.4,39.7 158.7,39.9 158.4,40.2 157.0,40.2 156.6,39.9M163.4,40.2 163.9,39.8 165.1,39.6 164.7,40.2 163.6,40.4 163.4,40.2M134.1,26.9 135.3,26.6 136.2,26.3 137.3,26.3 138.7,26.3 139.6,25.9 139.3,25.4 139.8,24.7 138.7,24.3 138.6,23.9 138.1,23.1 137.5,22.7 137.3,22.0 136.6,21.7 136.5,21.4 137.1,20.3 136.0,20.2 135.4,20.3 136.1,19.4 134.7,19.4 134.1,20.1 134.2,21.2 133.7,21.4 134.3,21.9 134.8,22.7 135.9,22.6 136.0,23.3 136.3,23.7 136.1,24.0 135.0,24.0 134.9,24.5 135.4,24.9 134.6,25.4 135.4,25.5 136.0,25.7 135.3,25.9 134.3,26.7 134.1,26.9M133.9,25.0 133.6,25.0 132.7,25.2 131.2,25.5 130.8,25.1 131.2,24.3 130.7,23.9 131.0,23.3 132.0,23.2 132.1,22.4 133.1,22.3 134.0,22.7 134.3,23.1 133.8,23.6 133.9,24.4 133.9,25.0M146.8,1.0 147.7,2.0 148.9,2.6 150.4,3.3 151.6,3.5 153.1,2.7 155.4,2.0 159.3,1.6 159.3,0.5 155.4,0.1 152.4,0.4 149.3,0.6 146.8,1.0M174.7,0.4 178.5,0.5 183.1,0.3 187.0,-0.4 183.1,-1.0 178.5,-0.6 174.7,0.4M178.9,8.2 179.3,7.1 180.4,6.3 181.6,5.4 183.1,4.6 185.4,3.9 188.5,3.3 191.2,3.2 190.8,3.7 187.7,4.4 185.4,5.1 183.5,6.2 182.4,7.0 181.2,8.3 182.7,8.8 180.8,8.8 179.3,8.6 178.9,8.2M211.6,1.0 213.9,1.8 217.8,1.4 219.7,1.8 220.8,1.0 218.5,0.1 215.4,-0.4 212.4,-0.2 211.6,1.0M243.9,4.5 246.2,5.5 248.5,6.4 250.8,5.4 253.9,4.8 252.4,4.2 247.8,4.1 244.7,4.1 243.9,4.5M247.8,30.5 248.9,30.1 248.8,27.6 249.7,27.8 248.7,25.6 248.7,24.0 248.2,23.2 247.9,23.9 247.5,25.2 247.8,27.0 247.7,28.3 247.8,30.5M246.2,34.4 247.1,34.2 247.5,33.5 248.7,34.0 249.7,33.2 250.5,32.9 250.3,32.0 249.5,32.2 248.1,31.0 247.5,31.2 247.3,32.7 246.5,32.9 246.1,33.7 246.2,34.4M239.2,41.0 240.5,39.8 242.0,39.6 243.1,39.4 243.8,38.1 244.1,38.6 245.1,38.0 245.9,37.0 246.2,35.8 246.5,34.7 247.3,34.5 247.4,35.8 247.8,36.2 247.0,37.3 246.9,38.4 246.8,39.3 246.2,40.2 245.5,40.4 244.7,40.5 243.8,40.8 243.0,41.5 242.5,40.7 241.2,40.7 240.1,41.1 239.2,41.0M238.4,41.5 239.2,41.1 240.0,41.7 239.6,43.3 239.0,43.7 238.7,43.3 238.4,42.2 238.4,41.5M240.5,41.9 240.8,42.2 242.1,41.2 242.0,40.9 240.8,41.0 240.5,41.9M230.9,50.7 231.5,51.6 232.0,50.7 232.4,49.0 231.6,48.9 230.9,50.7M222.1,54.1 222.8,55.0 223.5,54.7 223.9,53.6 223.1,53.3 222.1,53.6 222.1,54.1M231.3,54.7 232.5,54.7 232.7,56.0 232.1,57.1 232.1,58.5 233.9,59.1 234.0,59.9 233.3,59.5 232.4,58.8 231.3,58.4 230.8,56.6 231.3,54.7M232.4,64.8 233.5,64.1 234.1,63.8 235.1,62.5 235.8,64.0 235.6,65.5 234.9,66.1 233.9,65.4 232.4,64.8M234.1,60.0 235.2,61.1 234.7,62.2 234.1,61.3 234.1,60.0M232.4,60.6 233.1,61.3 233.3,62.6 232.7,62.4 232.4,61.5 232.4,60.6M228.7,63.6 230.4,61.8 230.7,61.0 229.9,61.9 228.7,63.6M222.4,69.7 222.8,69.2 223.9,69.6 225.4,68.3 226.4,67.0 227.4,66.3 228.4,64.8 229.1,65.7 230.2,66.2 229.3,67.1 229.1,68.4 230.0,70.1 229.1,70.6 228.9,71.7 228.1,73.2 227.8,74.3 226.7,74.2 225.4,73.8 224.4,73.6 223.3,73.6 223.1,72.3 222.4,71.0 222.4,69.7M211.8,66.1 213.5,66.4 214.4,67.7 215.8,69.1 216.6,69.5 218.4,71.0 218.9,72.3 220.1,73.6 219.9,76.1 218.9,76.2 217.2,74.5 216.1,72.8 215.4,71.4 214.4,69.5 213.5,68.4 212.4,67.0 211.8,66.1M219.4,77.0 220.4,76.3 221.8,76.5 223.4,77.1 225.1,77.1 226.5,77.9 226.5,78.7 225.1,78.4 223.1,78.1 221.6,77.9 220.4,77.5 219.4,77.0M233.5,80.1 234.7,79.1 236.4,78.4 235.4,79.1 234.2,79.9 233.5,80.1M228.4,78.9 230.1,78.3 233.0,78.2 233.1,78.7 230.4,78.8 228.4,78.9M230.4,75.8 231.1,75.8 231.1,73.5 231.8,73.3 231.8,75.1 233.0,75.4 232.4,73.8 231.9,72.7 233.4,71.8 232.0,71.8 231.2,70.6 231.7,70.1 233.1,70.2 234.3,70.1 234.8,69.6 234.1,70.6 232.8,70.6 231.4,70.6 230.8,71.0 230.5,71.7 229.9,73.4 230.4,74.1 230.4,75.8M236.6,69.7 237.4,69.4 237.0,70.6 237.6,71.4 236.9,71.3 236.6,69.7M239.3,72.1 240.5,71.4 241.7,71.8 242.4,73.9 244.3,72.3 246.2,73.1 248.1,73.8 249.7,74.3 250.7,75.7 252.0,76.4 252.4,78.0 254.1,80.1 252.4,80.0 251.2,78.5 249.3,77.8 248.8,78.9 247.0,79.0 245.8,78.1 244.7,78.4 244.4,77.5 245.2,77.0 243.9,75.4 242.0,74.5 240.7,74.5 240.0,73.5 240.8,73.0 240.1,72.8 239.3,72.1M253.9,75.8 255.1,75.2 255.7,74.7 255.1,76.3 253.9,75.8M225.8,90.4 226.3,90.2 228.1,89.2 229.9,88.9 231.6,88.2 232.6,86.4 232.8,85.5 233.6,85.3 234.3,84.4 235.4,83.5 236.4,83.2 237.0,84.2 238.1,84.1 238.5,82.5 239.3,81.7 240.5,81.6 240.5,81.1 241.6,81.6 243.1,81.6 243.8,81.8 243.1,82.7 242.8,83.9 243.9,84.9 245.5,86.2 246.6,86.4 247.4,84.7 247.5,82.5 248.1,80.4 248.9,82.0 249.0,83.5 250.3,84.2 250.4,85.5 251.1,87.6 252.9,89.0 253.7,90.7 254.5,90.9 254.9,92.0 256.3,93.7 256.7,96.2 256.2,98.3 255.1,100.1 254.5,101.7 253.9,104.0 252.4,104.3 251.1,105.4 249.9,104.7 248.9,105.2 247.4,104.8 246.2,104.2 245.9,103.5 245.1,102.4 244.7,101.4 244.5,99.9 243.1,101.7 242.8,101.4 242.4,100.1 241.6,99.6 240.5,99.2 239.3,98.7 237.8,98.9 236.2,99.5 234.7,100.1 233.5,100.9 231.6,100.8 230.4,101.0 229.3,101.8 227.8,101.8 227.0,101.2 227.4,100.3 227.5,99.2 227.0,97.4 226.9,96.5 226.2,94.3 225.8,93.5 226.1,92.1 225.8,90.4M249.8,106.9 251.2,107.2 252.6,107.0 252.6,108.2 252.0,109.1 250.8,109.4 250.2,108.2 249.8,106.9M271.4,101.3 272.8,102.5 273.5,103.6 273.9,104.1 275.8,104.2 275.4,105.5 274.7,105.6 273.9,107.3 273.3,107.6 272.8,107.3 273.2,106.2 272.4,105.8 272.8,105.2 272.8,103.6 271.6,102.1 271.4,101.3M271.4,106.7 272.5,107.6 272.2,108.4 271.5,109.4 270.2,110.2 269.7,111.4 268.5,112.0 266.6,111.5 266.8,110.8 268.0,109.8 269.7,108.9 270.5,107.8 271.0,106.9 271.4,106.7M176.4,81.6 177.4,84.7 176.8,86.0 176.0,88.6 175.0,92.6 174.7,93.1 173.3,93.5 172.4,92.8 172.0,91.5 171.8,90.2 172.7,88.6 172.4,86.4 172.7,85.3 174.3,84.8 175.3,83.8 176.0,82.5 176.4,81.6M200.0,65.3 199.9,64.0 200.2,62.4 201.0,63.5 201.5,64.8 201.0,65.5 200.2,65.7 200.0,65.3M91.3,116.2 92.7,116.2 94.0,116.5 93.5,117.0 91.9,117.0 91.3,116.2M67.6,29.9 68.9,30.0 70.5,29.2 71.9,30.0 73.4,30.0 73.3,29.2 71.9,28.1 70.4,28.0 69.6,28.7 67.6,29.9M70.9,34.3 71.7,34.2 72.2,33.1 72.0,31.8 72.7,30.9 73.3,30.6 71.9,30.6 71.2,31.1 71.1,31.8 70.9,33.1 70.9,34.3M73.4,30.5 74.3,31.1 75.0,33.1 75.6,32.9 75.6,31.8 76.6,31.6 76.9,30.6 75.8,30.4 73.4,30.5M74.3,34.3 75.8,34.4 77.7,33.5 77.3,33.2 75.8,33.4 74.6,33.9 74.3,34.3M77.1,32.9 78.5,32.9 79.9,32.7 79.7,32.2 78.9,32.2 77.5,32.5 77.1,32.9M63.9,26.5 64.4,26.1 63.5,24.8 62.5,23.6 63.2,23.6 64.0,24.8 63.9,26.5M48.5,17.3 50.4,16.8 52.3,16.4 54.6,15.7 53.1,15.9 50.8,15.9 49.2,16.6 48.5,17.3M42.3,13.7 43.9,12.9 46.2,12.0 47.7,12.4 45.8,13.3 44.6,13.9 42.3,13.7M52.7,19.5 54.6,18.9 56.6,18.8 54.6,19.2 52.7,19.5M59.6,21.2 60.0,19.9 60.4,20.3 59.6,21.2M61.9,25.6 62.7,25.2 61.7,24.1 61.2,24.5 61.9,25.6M72.6,61.2 73.1,60.6 73.3,60.9 72.7,61.4 72.6,61.2M84.8,84.4 85.4,84.9 85.6,85.4 85.3,85.1 84.8,84.4M162.9,71.4 163.5,70.7 164.7,70.9 165.0,71.4 164.3,73.2 163.1,73.3 162.8,72.3 162.9,71.4M161.0,73.9 161.2,75.8 162.0,77.6 162.5,78.7 162.1,78.0 161.3,76.5 160.8,75.0 161.0,73.9M164.7,79.4 165.0,80.7 165.3,82.5 165.7,83.6 165.1,82.9 164.9,81.6 164.7,79.4M218.4,25.5 219.7,25.3 221.2,24.3 222.4,23.0 223.0,21.8 222.2,22.6 220.4,24.1 218.9,25.0 218.4,25.5M195.1,30.0 196.6,30.0 198.1,30.2 199.4,30.0 198.5,29.8 196.6,29.7 195.4,29.7 195.1,30.0M183.4,31.4 183.9,30.5 185.4,30.0 186.1,31.4 184.7,32.4 183.5,32.2 183.4,31.4M161.6,17.9 162.7,18.1 163.7,17.4 163.1,16.6 162.0,17.0 161.6,17.9M165.0,17.3 166.0,17.0 166.4,16.1 165.4,15.7 165.0,16.4 165.0,17.3M148.1,19.2 149.1,19.4 149.3,18.8 148.5,18.9 148.1,19.2M78.6,49.9 78.9,48.5 79.1,49.6 78.6,49.9M78.1,47.6 79.3,47.6 78.6,47.3 78.1,47.6M18.5,54.3 19.2,53.8 18.6,53.2 18.5,54.3M16.8,52.2 17.2,52.0 17.0,52.3 16.8,52.2M68.1,71.3 68.6,71.1 68.9,71.7 68.2,71.9 68.1,71.3M264.7,88.8 265.8,89.5 267.0,90.6 266.2,90.4 264.7,88.8M191.6,114.2 192.7,114.3 192.4,114.8 191.6,114.2M109.3,118.6 110.8,118.7 110.4,119.1 109.3,118.6M274.9,86.4 275.9,86.3 275.8,87.0 274.9,86.4M258.9,77.2 260.8,78.3 262.0,79.4 261.2,79.1 259.3,77.7 258.9,77.2M116.6,37.1 117.7,36.9 117.0,37.2 116.6,37.1M125.8,46.1 126.6,46.3 128.1,45.5 125.8,46.1M181.1,89.5 181.4,89.8 181.1,89.9 181.1,89.5M179.5,59.9 180.4,59.9 180.1,60.2 179.5,59.9M7.7,24.6 9.2,24.0 10.8,23.6 8.8,24.3 7.7,24.6M1.5,25.5 3.8,25.2 6.2,24.9 3.5,25.4 1.5,25.5M271.6,24.5 273.2,24.8 275.1,25.3 276.6,25.7 274.7,25.2 272.4,24.6 271.6,24.5M250.8,32.4 252.4,31.4 253.9,30.5 255.5,29.2 257.0,28.0 258.5,26.8 257.8,27.4 255.8,29.2 253.9,30.7 252.0,31.8 250.8,32.4M275.9,8.3 276.9,7.9 276.9,8.5 275.9,8.3M76.9,15.1 78.5,15.2 79.3,14.8 77.7,14.6 76.9,15.1M75.0,15.8 76.6,16.2 76.9,15.9 75.4,15.5 75.0,15.8M8.8,15.5 7.3,15.2 8.1,15.0 8.8,15.5M5.4,17.7 6.0,17.9 5.8,17.5 5.4,17.7M0.0,140.4 7.7,140.7 13.1,140.9 16.9,140.0 19.2,139.5 23.1,139.1 26.9,138.2 30.8,137.8 34.6,137.3 38.5,137.2 42.3,136.6 46.2,136.9 50.0,137.1 53.9,137.3 57.7,137.6 60.0,137.8 61.6,136.5 65.4,136.0 69.2,135.8 73.1,136.3 76.9,136.2 80.0,135.8 83.1,134.2 84.6,132.9 86.6,131.6 88.5,130.3 90.0,129.0 92.3,127.6 94.6,127.5 93.9,128.5 92.3,129.8 91.2,132.0 90.8,133.8 91.2,135.6 90.8,137.3 91.6,138.7 92.3,140.0 96.2,140.9 100.0,140.4 103.9,140.4 107.7,140.2 111.6,140.0 115.4,138.7 119.3,137.8 123.1,136.5 127.0,135.6 130.8,134.5 134.7,134.2 138.5,133.6 142.3,133.5 146.2,133.4 150.0,133.2 153.9,133.4 157.7,133.5 161.6,133.2 165.4,132.7 169.3,132.0 173.1,131.3 177.0,130.3 180.8,130.0 184.7,130.7 188.5,131.3 192.4,132.0 193.9,132.9 196.2,132.9 198.5,132.0 200.1,131.2 203.9,130.5 207.8,130.3 211.6,130.1 215.4,129.7 219.3,129.8 223.1,130.0 227.0,130.5 230.8,130.5 234.7,130.3 238.5,130.0 242.4,130.0 246.2,130.5 250.1,131.2 253.9,132.0 257.8,132.5 261.6,133.2 263.9,134.1 266.2,134.7 269.5,134.5 269.3,135.6 267.8,136.9 265.5,137.8 263.9,139.1 265.5,140.2 267.8,140.4 270.8,140.5 273.9,140.7 277.0,140.4" fill="none" stroke="#00ffff" stroke-opacity="0.55" stroke-width="1.3" stroke-linejoin="round"/><path d="M13.1,141.5 L0.5,141.5 L0.5,0.5 L276.5,0.5 L276.5,141.5 L262.0,141.5" fill="none" stroke="#8c8c8c" stroke-width="1"/><rect x="13.1" y="141" width="248.9" height="1" fill="#9fe3dc"/></svg>
<div class="cb" style="left:288px;top:21px;width:8.300000000000011px;height:142px"></div>
<div class="cbt" style="left:293.8px;top:91.5px"></div>
<div class="t title" style="font-size:18.3px;left:151px;top:16px;transform:translate(-50%,-0.8465em)">SSP1-2.6 – Temperature</div>
<div class="t lab" style="left:148px;top:191px;transform:translate(-50%,-0.8465em)">(a)</div>
<div class="t tick" style="left:299.8px;top:21px;transform:translateY(-0.45em)">5</div>
<div class="t tick" style="left:299.8px;top:92.0px;transform:translateY(-0.45em)">0</div>
<div class="t tick" style="left:299.8px;top:163px;transform:translateY(-0.45em)">-5</div>
<div class="t ylab" style="left:338.7px;top:23.5px;">Percent Change [%]</div>
<svg class="map" style="left:354px;top:21px" width="280" height="143" viewBox="0 0 280 143"><rect x="0" y="0" width="280" height="143" fill="#f7b0b0"/><defs><filter id="blb" x="-5%" y="-5%" width="110%" height="110%"><feGaussianBlur stdDeviation="0.6 2.8"/></filter><linearGradient id="gb0" gradientUnits="userSpaceOnUse" x1="0" y1="0" x2="280.0" y2="0"><stop offset="0.014" stop-color="#ff4747"/><stop offset="0.153" stop-color="#ff4747"/><stop offset="0.181" stop-color="#ff6666"/><stop offset="0.236" stop-color="#ff6666"/><stop offset="0.264" stop-color="#ff7373"/><stop offset="0.292" stop-color="#ff7373"/><stop offset="0.319" stop-color="#ffa6a6"/><stop offset="0.347" stop-color="#ff7373"/><stop offset="0.403" stop-color="#ff7373"/><stop offset="0.431" stop-color="#ff8080"/><stop offset="0.486" stop-color="#ff8080"/><stop offset="0.514" stop-color="#ffadad"/><stop offset="0.542" stop-color="#ffd4d4"/><stop offset="0.569" stop-color="#ffd4d4"/><stop offset="0.597" stop-color="#ff9494"/><stop offset="0.931" stop-color="#ff9494"/><stop offset="0.958" stop-color="#ff7a7a"/><stop offset="0.986" stop-color="#ff7a7a"/></linearGradient><linearGradient id="gb1" gradientUnits="userSpaceOnUse" x1="0" y1="0" x2="280.0" y2="0"><stop offset="0.014" stop-color="#ffa6a6"/><stop offset="0.042" stop-color="#ffa6a6"/><stop offset="0.069" stop-color="#ff9e9e"/><stop offset="0.125" stop-color="#ff9e9e"/><stop offset="0.153" stop-color="#ff8c8c"/><stop offset="0.181" stop-color="#ff8080"/><stop offset="0.292" stop-color="#ff8080"/><stop offset="0.319" stop-color="#ff9999"/><stop offset="0.347" stop-color="#ffd9d9"/><stop offset="0.375" stop-color="#ff8c8c"/><stop offset="0.403" stop-color="#ffe6e6"/><stop offset="0.431" stop-color="#fff2f2"/><stop offset="0.458" stop-color="#fff2f2"/><stop offset="0.486" stop-color="#ffe6e6"/><stop offset="0.514" stop-color="#fff2f2"/><stop offset="0.542" stop-color="#ffbaba"/><stop offset="0.569" stop-color="#ffbaba"/><stop offset="0.597" stop-color="#ffa8a8"/><stop offset="0.736" stop-color="#ffa8a8"/><stop offset="0.764" stop-color="#ffb2b2"/><stop offset="0.819" stop-color="#ffb2b2"/><stop offset="0.847" stop-color="#ffa1a1"/><stop offset="0.931" stop-color="#ffa1a1"/><stop offset="0.958" stop-color="#ff9494"/><stop offset="0.986" stop-color="#ff9494"/></linearGradient><linearGradient id="gb2" gradientUnits="userSpaceOnUse" x1="0" y1="0" x2="280.0" y2="0"><stop offset="0.014" stop-color="#ffb2b2"/><stop offset="0.042" stop-color="#ffb2b2"/><stop offset="0.069" stop-color="#ffbfbf"/><stop offset="0.125" stop-color="#ffbfbf"/><stop offset="0.153" stop-color="#ffa6a6"/><stop offset="0.181" stop-color="#ff8c8c"/><stop offset="0.236" stop-color="#ff8c8c"/><stop offset="0.264" stop-color="#ff8080"/><stop offset="0.292" stop-color="#ff8080"/><stop offset="0.319" stop-color="#ff8c8c"/><stop offset="0.347" stop-color="#ffe6e6"/><stop offset="0.375" stop-color="#ffffff"/><stop offset="0.403" stop-color="#d6d6ff"/><stop offset="0.458" stop-color="#d6d6ff"/><stop offset="0.486" stop-color="#fff2f2"/><stop offset="0.514" stop-color="#ffeded"/><stop offset="0.542" stop-color="#ffb2b2"/><stop offset="0.569" stop-color="#ffb2b2"/><stop offset="0.597" stop-color="#ffa8a8"/><stop offset="0.736" stop-color="#ffa8a8"/><stop offset="0.764" stop-color="#ffbaba"/><stop offset="0.847" stop-color="#ffbaba"/><stop offset="0.875" stop-color="#ffadad"/><stop offset="0.931" stop-color="#ffadad"/><stop offset="0.958" stop-color="#ffa8a8"/><stop offset="0.986" stop-color="#ffa8a8"/></linearGradient><linearGradient id="gb3" gradientUnits="userSpaceOnUse" x1="0" y1="0" x2="280.0" y2="0"><stop offset="0.014" stop-color="#ffc7c7"/><stop offset="0.125" stop-color="#ffc7c7"/><stop offset="0.153" stop-color="#ffb2b2"/><stop offset="0.181" stop-color="#ff9999"/><stop offset="0.208" stop-color="#ff8c8c"/><stop offset="0.236" stop-color="#ff8c8c"/><stop offset="0.264" stop-color="#ff8080"/><stop offset="0.292" stop-color="#ff8080"/><stop offset="0.319" stop-color="#ffa6a6"/><stop offset="0.347" stop-color="#ffcccc"/><stop offset="0.375" stop-color="#fff7f7"/><stop offset="0.403" stop-color="#e6e6ff"/><stop offset="0.458" stop-color="#e6e6ff"/><stop offset="0.486" stop-color="#ffe6e6"/><stop offset="0.514" stop-color="#ffc7c7"/><stop offset="0.542" stop-color="#ffadad"/><stop offset="0.569" stop-color="#ffadad"/><stop offset="0.597" stop-color="#ffa8a8"/><stop offset="0.736" stop-color="#ffa8a8"/><stop offset="0.764" stop-color="#ffb2b2"/><stop offset="0.819" stop-color="#ffb2b2"/><stop offset="0.847" stop-color="#ffbaba"/><stop offset="0.875" stop-color="#ffbaba"/><stop offset="0.903" stop-color="#ffb2b2"/><stop offset="0.931" stop-color="#ffb2b2"/><stop offset="0.958" stop-color="#ffadad"/><stop offset="0.986" stop-color="#ffadad"/></linearGradient><linearGradient id="gb4" gradientUnits="userSpaceOnUse" x1="0" y1="0" x2="280.0" y2="0"><stop offset="0.014" stop-color="#ffd1d1"/><stop offset="0.125" stop-color="#ffd1d1"/><stop offset="0.153" stop-color="#ffbfbf"/><stop offset="0.181" stop-color="#ff9999"/><stop offset="0.292" stop-color="#ff9999"/><stop offset="0.319" stop-color="#ffb2b2"/><stop offset="0.347" stop-color="#ff8c8c"/><stop offset="0.375" stop-color="#ffd9d9"/><stop offset="0.403" stop-color="#fff5f5"/><stop offset="0.431" stop-color="#fff5f5"/><stop offset="0.458" stop-color="#ffd9d9"/><stop offset="0.486" stop-color="#ffd9d9"/><stop offset="0.514" stop-color="#ffbaba"/><stop offset="0.542" stop-color="#ffadad"/><stop offset="0.569" stop-color="#ffadad"/><stop offset="0.597" stop-color="#ffa8a8"/><stop offset="0.625" stop-color="#ffa8a8"/><stop offset="0.653" stop-color="#ffa1a1"/><stop offset="0.736" stop-color="#ffa1a1"/><stop offset="0.764" stop-color="#ffadad"/><stop offset="0.792" stop-color="#ffadad"/><stop offset="0.819" stop-color="#ffbaba"/><stop offset="0.875" stop-color="#ffbaba"/><stop offset="0.903" stop-color="#ffadad"/><stop offset="0.986" stop-color="#ffadad"/></linearGradient><linearGradient id="gb5" gradientUnits="userSpaceOnUse" x1="0" y1="0" x2="280.0" y2="0"><stop offset="0.014" stop-color="#ffc7c7"/><stop offset="0.125" stop-color="#ffc7c7"/><stop offset="0.153" stop-color="#ffbfbf"/><stop offset="0.181" stop-color="#ff9e9e"/><stop offset="0.236" stop-color="#ff9e9e"/><stop offset="0.264" stop-color="#ffa6a6"/><stop offset="0.292" stop-color="#ffa6a6"/><stop offset="0.319" stop-color="#ffbfbf"/><stop offset="0.347" stop-color="#ffd9d9"/><stop offset="0.375" stop-color="#ffd9d9"/><stop offset="0.403" stop-color="#ffcccc"/><stop offset="0.458" stop-color="#ffcccc"/><stop offset="0.486" stop-color="#ff9e9e"/><stop offset="0.514" stop-color="#ffadad"/><stop offset="0.569" stop-color="#ffadad"/><stop offset="0.597" stop-color="#ffa1a1"/><stop offset="0.653" stop-color="#ffa1a1"/><stop offset="0.681" stop-color="#ff8f8f"/><stop offset="0.736" stop-color="#ff8f8f"/><stop offset="0.764" stop-color="#ff8787"/><stop offset="0.792" stop-color="#ff8787"/><stop offset="0.819" stop-color="#ffadad"/><stop offset="0.847" stop-color="#ffbaba"/><stop offset="0.986" stop-color="#ffbaba"/></linearGradient><linearGradient id="gb6" gradientUnits="userSpaceOnUse" x1="0" y1="0" x2="280.0" y2="0"><stop offset="0.014" stop-color="#ffbfbf"/><stop offset="0.208" stop-color="#ffbfbf"/><stop offset="0.236" stop-color="#ffa6a6"/><stop offset="0.264" stop-color="#ffbfbf"/><stop offset="0.292" stop-color="#ffbfbf"/><stop offset="0.319" stop-color="#ffcccc"/><stop offset="0.347" stop-color="#ffcccc"/><stop offset="0.375" stop-color="#ffe0e0"/><stop offset="0.431" stop-color="#ffe0e0"/><stop offset="0.458" stop-color="#ffbfbf"/><stop offset="0.486" stop-color="#ff8c8c"/><stop offset="0.569" stop-color="#ff8c8c"/><stop offset="0.597" stop-color="#ff9999"/><stop offset="0.625" stop-color="#ff8c8c"/><stop offset="0.653" stop-color="#ff8c8c"/><stop offset="0.681" stop-color="#ffb2b2"/><stop offset="0.708" stop-color="#ff8c8c"/><stop offset="0.792" stop-color="#ff8c8c"/><stop offset="0.819" stop-color="#ffb8b8"/><stop offset="0.986" stop-color="#ffb8b8"/></linearGradient><linearGradient id="gb7" gradientUnits="userSpaceOnUse" x1="0" y1="0" x2="280.0" y2="0"><stop offset="0.014" stop-color="#ffbaba"/><stop offset="0.236" stop-color="#ffbaba"/><stop offset="0.264" stop-color="#ffb8b8"/><stop offset="0.292" stop-color="#ffbfbf"/><stop offset="0.431" stop-color="#ffbfbf"/><stop offset="0.458" stop-color="#ffb2b2"/><stop offset="0.486" stop-color="#ff9494"/><stop offset="0.514" stop-color="#ff9191"/><stop offset="0.569" stop-color="#ff9191"/><stop offset="0.597" stop-color="#ffa6a6"/><stop offset="0.625" stop-color="#ffbfbf"/><stop offset="0.653" stop-color="#ffbfbf"/><stop offset="0.681" stop-color="#ffb8b8"/><stop offset="0.708" stop-color="#ffb8b8"/><stop offset="0.736" stop-color="#ff9e9e"/><stop offset="0.764" stop-color="#ffb2b2"/><stop offset="0.819" stop-color="#ffb2b2"/><stop offset="0.847" stop-color="#ffbfbf"/><stop offset="0.986" stop-color="#ffbfbf"/></linearGradient><linearGradient id="gb8" gradientUnits="userSpaceOnUse" x1="0" y1="0" x2="280.0" y2="0"><stop offset="0.014" stop-color="#ffabab"/><stop offset="0.236" stop-color="#ffabab"/><stop offset="0.264" stop-color="#ffb2b2"/><stop offset="0.292" stop-color="#ffadad"/><stop offset="0.375" stop-color="#ffadad"/><stop offset="0.403" stop-color="#ffb8b8"/><stop offset="0.458" stop-color="#ffb8b8"/><stop offset="0.486" stop-color="#ffb2b2"/><stop offset="0.514" stop-color="#ffbfbf"/><stop offset="0.542" stop-color="#ff8c8c"/><stop offset="0.569" stop-color="#ff8c8c"/><stop offset="0.597" stop-color="#ffabab"/><stop offset="0.625" stop-color="#ffc4c4"/><stop offset="0.653" stop-color="#ffc4c4"/><stop offset="0.681" stop-color="#ffb8b8"/><stop offset="0.736" stop-color="#ffb8b8"/><stop offset="0.764" stop-color="#ffb2b2"/><stop offset="0.875" stop-color="#ffb2b2"/><stop offset="0.903" stop-color="#ffbfbf"/><stop offset="0.986" stop-color="#ffbfbf"/></linearGradient><linearGradient id="gb9" gradientUnits="userSpaceOnUse" x1="0" y1="0" x2="280.0" y2="0"><stop offset="0.014" stop-color="#ffb2b2"/><stop offset="0.264" stop-color="#ffb2b2"/><stop offset="0.292" stop-color="#ffa6a6"/><stop offset="0.375" stop-color="#ffa6a6"/><stop offset="0.403" stop-color="#ffadad"/><stop offset="0.431" stop-color="#ffb8b8"/><stop offset="0.486" stop-color="#ffb8b8"/><stop offset="0.514" stop-color="#ffc4c4"/><stop offset="0.542" stop-color="#ffa1a1"/><stop offset="0.569" stop-color="#ffa1a1"/><stop offset="0.597" stop-color="#ffb2b2"/><stop offset="0.625" stop-color="#ffc7c7"/><stop offset="0.653" stop-color="#ffc7c7"/><stop offset="0.681" stop-color="#ffbaba"/><stop offset="0.819" stop-color="#ffbaba"/><stop offset="0.847" stop-color="#ffb2b2"/><stop offset="0.931" stop-color="#ffb2b2"/><stop offset="0.958" stop-color="#ffbfbf"/><stop offset="0.986" stop-color="#ffbfbf"/></linearGradient><linearGradient id="gb10" gradientUnits="userSpaceOnUse" x1="0" y1="0" x2="280.0" y2="0"><stop offset="0.014" stop-color="#ffcccc"/><stop offset="0.236" stop-color="#ffcccc"/><stop offset="0.264" stop-color="#ffbfbf"/><stop offset="0.292" stop-color="#ffadad"/><stop offset="0.375" stop-color="#ffadad"/><stop offset="0.403" stop-color="#ffb8b8"/><stop offset="0.431" stop-color="#ffbfbf"/><stop offset="0.486" stop-color="#ffbfbf"/><stop offset="0.514" stop-color="#ffb8b8"/><stop offset="0.542" stop-color="#ff8c8c"/><stop offset="0.569" stop-color="#ff8c8c"/><stop offset="0.597" stop-color="#ffadad"/><stop offset="0.625" stop-color="#ffb8b8"/><stop offset="0.653" stop-color="#ffbfbf"/><stop offset="0.792" stop-color="#ffbfbf"/><stop offset="0.819" stop-color="#ffb8b8"/><stop offset="0.847" stop-color="#ff9e9e"/><stop offset="0.903" stop-color="#ff9e9e"/><stop offset="0.931" stop-color="#ffbfbf"/><stop offset="0.986" stop-color="#ffbfbf"/></linearGradient><linearGradient id="gb11" gradientUnits="userSpaceOnUse" x1="0" y1="0" x2="280.0" y2="0"><stop offset="0.014" stop-color="#ffc7c7"/><stop offset="0.236" stop-color="#ffc7c7"/><stop offset="0.264" stop-color="#ffbfbf"/><stop offset="0.292" stop-color="#ffb2b2"/><stop offset="0.319" stop-color="#ffb2b2"/><stop offset="0.347" stop-color="#ffadad"/><stop offset="0.375" stop-color="#ffadad"/><stop offset="0.403" stop-color="#ffbfbf"/><stop offset="0.486" stop-color="#ffbfbf"/><stop offset="0.514" stop-color="#ffb8b8"/><stop offset="0.542" stop-color="#ff9494"/><stop offset="0.569" stop-color="#ff9494"/><stop offset="0.597" stop-color="#ffb2b2"/><stop offset="0.625" stop-color="#ffbfbf"/><stop offset="0.792" stop-color="#ffbfbf"/><stop offset="0.819" stop-color="#ffa6a6"/><stop offset="0.847" stop-color="#ff7373"/><stop offset="0.903" stop-color="#ff7373"/><stop offset="0.931" stop-color="#ffa6a6"/><stop offset="0.958" stop-color="#ffbfbf"/><stop offset="0.986" stop-color="#ffbfbf"/></linearGradient><linearGradient id="gb12" gradientUnits="userSpaceOnUse" x1="0" y1="0" x2="280.0" y2="0"><stop offset="0.014" stop-color="#ffcccc"/><stop offset="0.236" stop-color="#ffcccc"/><stop offset="0.264" stop-color="#ffc7c7"/><stop offset="0.292" stop-color="#ffbfbf"/><stop offset="0.319" stop-color="#ffbfbf"/><stop offset="0.347" stop-color="#ffc7c7"/><stop offset="0.486" stop-color="#ffc7c7"/><stop offset="0.514" stop-color="#ffbfbf"/><stop offset="0.542" stop-color="#ff8c8c"/><stop offset="0.569" stop-color="#ff8c8c"/><stop offset="0.597" stop-color="#ffbfbf"/><stop offset="0.819" stop-color="#ffbfbf"/><stop offset="0.847" stop-color="#ff9999"/><stop offset="0.931" stop-color="#ff9999"/><stop offset="0.958" stop-color="#ffbfbf"/><stop offset="0.986" stop-color="#ffbfbf"/></linearGradient><linearGradient id="gb13" gradientUnits="userSpaceOnUse" x1="0" y1="0" x2="280.0" y2="0"><stop offset="0.014" stop-color="#ffd1d1"/><stop offset="0.236" stop-color="#ffd1d1"/><stop offset="0.264" stop-color="#ffcccc"/><stop offset="0.542" stop-color="#ffcccc"/><stop offset="0.569" stop-color="#ffe6e6"/><stop offset="0.681" stop-color="#ffe6e6"/><stop offset="0.708" stop-color="#ffcccc"/><stop offset="0.986" stop-color="#ffcccc"/></linearGradient><linearGradient id="gb14" gradientUnits="userSpaceOnUse" x1="0" y1="0" x2="280.0" y2="0"><stop offset="0.014" stop-color="#ffd9d9"/><stop offset="0.236" stop-color="#ffd9d9"/><stop offset="0.264" stop-color="#ffcccc"/><stop offset="0.486" stop-color="#ffcccc"/><stop offset="0.514" stop-color="#ffc7c7"/><stop offset="0.986" stop-color="#ffc7c7"/></linearGradient><linearGradient id="gb15" gradientUnits="userSpaceOnUse" x1="0" y1="0" x2="280.0" y2="0"><stop offset="0.014" stop-color="#fff0f0"/><stop offset="0.097" stop-color="#fff0f0"/><stop offset="0.125" stop-color="#ffdbdb"/><stop offset="0.236" stop-color="#ffdbdb"/><stop offset="0.264" stop-color="#ffd1d1"/><stop offset="0.486" stop-color="#ffd1d1"/><stop offset="0.514" stop-color="#ffbfbf"/><stop offset="0.986" stop-color="#ffbfbf"/></linearGradient><linearGradient id="gb16" gradientUnits="userSpaceOnUse" x1="0" y1="0" x2="280.0" y2="0"><stop offset="0.014" stop-color="#ff8c8c"/><stop offset="0.486" stop-color="#ff8c8c"/><stop offset="0.514" stop-color="#ff4040"/><stop offset="0.986" stop-color="#ff4040"/></linearGradient><linearGradient id="gb17" gradientUnits="userSpaceOnUse" x1="0" y1="0" x2="280.0" y2="0"><stop offset="0.014" stop-color="#ff4d4d"/><stop offset="0.486" stop-color="#ff4d4d"/><stop offset="0.514" stop-color="#ff7373"/><stop offset="0.986" stop-color="#ff7373"/></linearGradient></defs><g filter="url(#blb)"><rect x="-4" y="-7.94" width="288.0" height="8.44" fill="url(#gb0)"/><rect x="-4" y="0.00" width="288.0" height="8.44" fill="url(#gb0)"/><rect x="-4" y="7.94" width="288.0" height="8.44" fill="url(#gb1)"/><rect x="-4" y="15.89" width="288.0" height="8.44" fill="url(#gb2)"/><rect x="-4" y="23.83" width="288.0" height="8.44" fill="url(#gb3)"/><rect x="-4" y="31.78" width="288.0" height="8.44" fill="url(#gb4)"/><rect x="-4" y="39.72" width="288.0" height="8.44" fill="url(#gb5)"/><rect x="-4" y="47.67" width="288.0" height="8.44" fill="url(#gb6)"/><rect x="-4" y="55.61" width="288.0" height="8.44" fill="url(#gb7)"/><rect x="-4" y="63.56" width="288.0" height="8.44" fill="url(#gb8)"/><rect x="-4" y="71.50" width="288.0" height="8.44" fill="url(#gb9)"/><rect x="-4" y="79.44" width="288.0" height="8.44" fill="url(#gb10)"/><rect x="-4" y="87.39" width="288.0" height="8.44" fill="url(#gb11)"/><rect x="-4" y="95.33" width="288.0" height="8.44" fill="url(#gb12)"/><rect x="-4" y="103.28" width="288.0" height="8.44" fill="url(#gb13)"/><rect x="-4" y="111.22" width="288.0" height="8.44" fill="url(#gb14)"/><rect x="-4" y="119.17" width="288.0" height="8.44" fill="url(#gb15)"/><rect x="-4" y="127.11" width="288.0" height="8.44" fill="url(#gb16)"/><rect x="-4" y="135.06" width="288.0" height="8.44" fill="url(#gb17)"/><rect x="-4" y="143.00" width="288.0" height="8.44" fill="url(#gb17)"/></g><filter id="bb1"><feGaussianBlur stdDeviation="0.9"/></filter><filter id="bb2" x="-30%" y="-60%" width="160%" height="220%"><feGaussianBlur stdDeviation="2"/></filter><path d="M-2.0,130.0 91.0,129.6 94.9,127.3 140.0,126.1 210.0,126.1 282.0,126.8 282.0,145.0 -2.0,145.0Z" fill="#ff4747" filter="url(#bb1)"/><path d="M0.0,141.4 7.8,141.7 13.2,141.8 17.1,141.0 19.4,140.5 23.3,140.1 27.2,139.2 31.1,138.7 35.0,138.3 38.9,138.1 42.8,137.6 46.7,137.9 50.6,138.0 54.4,138.3 58.3,138.6 60.7,138.7 62.2,137.4 66.1,137.0 70.0,136.8 73.9,137.2 77.8,137.1 80.9,136.8 84.0,135.2 85.6,133.9 87.5,132.5 89.4,131.2 91.0,129.9 93.3,128.5 95.7,128.4 94.9,129.4 93.3,130.8 92.2,133.0 91.8,134.7 92.2,136.5 91.8,138.3 92.6,139.6 93.3,141.0 97.2,141.8 101.1,141.4 105.0,141.4 108.9,141.2 112.8,141.0 116.7,139.6 120.6,138.7 124.4,137.4 128.3,136.5 132.2,135.5 136.1,135.2 140.0,134.6 143.9,134.5 147.8,134.3 151.7,134.1 155.6,134.3 159.4,134.5 163.3,134.1 167.2,133.6 171.1,133.0 175.0,132.3 178.9,131.2 182.8,130.9 186.7,131.6 190.6,132.3 194.4,133.0 196.0,133.9 198.3,133.9 200.7,133.0 202.2,132.1 206.1,131.5 210.0,131.2 213.9,131.0 217.8,130.6 221.7,130.8 225.6,130.9 229.4,131.5 233.3,131.5 237.2,131.2 241.1,130.9 245.0,130.9 248.9,131.4 252.8,132.1 256.7,133.0 260.6,133.4 264.4,134.1 266.8,135.0 269.1,135.6 272.5,135.5 272.2,136.5 270.7,137.9 268.3,138.7 266.8,140.1 268.3,141.2 270.7,141.4 273.8,141.5 276.9,141.7 280.0,141.4 280.0,151.3 0.0,151.3 0.0,141.4Z" fill="none" stroke="#ff1414" stroke-width="2.6" filter="url(#bb1)" transform="translate(0,-1.2)"/><path d="M0.0,141.4 7.8,141.7 13.2,141.8 17.1,141.0 19.4,140.5 23.3,140.1 27.2,139.2 31.1,138.7 35.0,138.3 38.9,138.1 42.8,137.6 46.7,137.9 50.6,138.0 54.4,138.3 58.3,138.6 60.7,138.7 62.2,137.4 66.1,137.0 70.0,136.8 73.9,137.2 77.8,137.1 80.9,136.8 84.0,135.2 85.6,133.9 87.5,132.5 89.4,131.2 91.0,129.9 93.3,128.5 95.7,128.4 94.9,129.4 93.3,130.8 92.2,133.0 91.8,134.7 92.2,136.5 91.8,138.3 92.6,139.6 93.3,141.0 97.2,141.8 101.1,141.4 105.0,141.4 108.9,141.2 112.8,141.0 116.7,139.6 120.6,138.7 124.4,137.4 128.3,136.5 132.2,135.5 136.1,135.2 140.0,134.6 143.9,134.5 147.8,134.3 151.7,134.1 155.6,134.3 159.4,134.5 163.3,134.1 167.2,133.6 171.1,133.0 175.0,132.3 178.9,131.2 182.8,130.9 186.7,131.6 190.6,132.3 194.4,133.0 196.0,133.9 198.3,133.9 200.7,133.0 202.2,132.1 206.1,131.5 210.0,131.2 213.9,131.0 217.8,130.6 221.7,130.8 225.6,130.9 229.4,131.5 233.3,131.5 237.2,131.2 241.1,130.9 245.0,130.9 248.9,131.4 252.8,132.1 256.7,133.0 260.6,133.4 264.4,134.1 266.8,135.0 269.1,135.6 272.5,135.5 272.2,136.5 270.7,137.9 268.3,138.7 266.8,140.1 268.3,141.2 270.7,141.4 273.8,141.5 276.9,141.7 280.0,141.4 280.0,151.3 0.0,151.3 0.0,141.4Z" fill="#ff7373" filter="url(#bb1)"/><ellipse cx="116.7" cy="136.3" rx="19.4" ry="5.3" fill="#ff1919" filter="url(#bb2)" opacity="0.9"/><ellipse cx="32.3" cy="137.1" rx="26.1" ry="5.3" fill="#ff1f1f" filter="url(#bb2)" opacity="0.85"/><ellipse cx="87.9" cy="131.8" rx="8.6" ry="6.2" fill="#ff9e9e" filter="url(#bb2)" opacity="0.9"/><path d="M18.0,8.2 19.8,8.6 21.8,8.7 24.1,9.0 27.2,9.3 30.3,9.8 32.7,10.1 34.2,10.4 35.4,9.8 36.6,9.9 38.1,9.6 39.3,9.4 40.8,9.1 42.0,9.8 43.1,9.2 44.3,9.8 45.9,9.8 47.8,10.1 49.8,10.4 50.6,11.4 52.9,11.4 55.2,11.2 56.4,11.0 57.6,10.5 60.7,11.4 63.4,11.4 64.9,10.9 65.7,10.0 66.5,9.0 66.3,7.8 68.1,8.5 68.8,9.4 70.4,10.5 71.6,11.2 72.7,11.8 73.7,10.5 73.9,9.6 75.4,9.8 76.2,11.2 76.8,12.2 74.7,12.7 72.9,12.5 71.9,13.6 70.4,14.7 69.2,15.8 67.7,16.8 66.5,18.3 66.4,19.3 67.7,20.6 69.6,20.9 71.6,21.6 73.5,22.4 75.8,22.6 76.1,24.0 76.8,25.0 77.8,26.0 78.6,25.7 78.8,24.9 78.6,23.4 80.1,22.0 80.4,20.5 79.7,19.3 79.7,18.1 79.5,16.9 80.1,16.1 82.1,16.3 84.0,16.9 85.6,17.4 85.9,18.7 86.7,19.6 87.9,19.7 88.7,19.2 89.4,18.0 90.1,18.7 91.0,20.2 92.2,21.2 93.3,22.2 94.9,23.3 95.7,24.0 96.6,24.9 96.1,25.8 94.5,26.1 92.9,27.0 91.0,26.9 89.1,26.9 87.9,27.6 86.7,28.1 85.7,28.7 84.6,30.0 85.9,29.0 87.5,28.0 89.4,27.9 90.0,28.2 89.6,28.9 89.3,29.5 89.6,29.8 89.8,30.4 91.0,30.9 92.2,31.0 93.3,30.5 93.3,31.0 92.4,31.4 90.6,31.9 88.9,32.9 88.5,32.0 89.8,31.3 89.1,31.4 87.9,31.8 86.7,32.2 85.6,32.7 84.9,33.7 85.6,34.2 85.6,34.5 84.8,34.7 83.6,35.0 82.4,35.5 82.4,36.2 81.7,37.0 81.6,37.3 81.2,38.0 80.9,38.7 81.1,39.4 81.3,40.2 80.5,40.7 79.7,41.0 78.9,41.5 78.3,42.0 77.5,42.8 76.8,43.6 76.7,44.6 77.0,45.5 77.4,46.4 77.7,47.5 77.7,48.5 77.4,49.1 76.8,49.1 76.4,48.3 75.8,47.1 75.6,46.2 75.1,45.2 74.5,44.9 73.7,45.2 72.7,44.5 71.6,44.4 70.5,44.6 70.6,45.5 69.8,45.7 68.8,45.3 67.7,45.2 66.5,45.3 65.7,46.0 64.7,46.7 64.3,47.5 64.2,48.6 64.0,50.2 63.9,51.5 64.3,52.9 64.9,54.2 65.7,54.9 66.5,55.4 67.7,55.2 68.6,55.0 69.5,54.3 69.7,53.0 70.4,52.6 71.9,52.4 72.3,52.9 72.0,54.2 71.7,55.3 71.3,56.0 71.3,57.1 71.9,57.5 73.1,57.4 74.3,57.5 75.2,58.2 75.1,59.5 75.0,61.3 75.4,62.6 76.2,63.4 77.4,63.4 78.2,63.1 78.9,63.3 79.8,63.9 80.3,64.3 80.7,63.3 81.2,62.3 81.8,61.7 82.8,61.5 83.8,60.9 84.5,61.8 85.4,61.2 85.7,60.7 86.2,61.3 87.0,62.1 88.3,62.1 89.4,62.5 90.4,62.0 91.8,62.0 91.9,62.6 92.6,63.5 93.2,64.0 94.1,64.8 94.9,65.5 95.7,66.2 97.2,66.2 98.2,66.4 99.2,67.1 99.9,67.8 100.3,68.8 100.7,69.9 101.1,70.6 100.7,71.5 101.9,71.7 102.3,72.4 103.1,72.1 104.2,72.4 105.4,73.7 106.6,73.7 107.7,74.1 108.9,74.0 110.1,74.8 111.1,75.8 112.2,76.1 112.7,77.3 112.9,78.2 112.7,79.5 112.2,80.2 111.4,81.1 110.7,82.1 110.1,83.0 109.7,84.4 109.7,86.1 109.2,87.5 109.0,88.9 108.5,90.0 108.1,91.0 107.3,91.8 106.2,91.9 105.2,92.3 104.2,92.8 103.1,93.5 102.3,94.5 102.2,95.9 101.9,96.9 101.0,98.3 100.3,99.2 99.4,100.2 98.4,101.5 97.3,102.5 96.4,102.5 95.6,102.1 94.6,101.8 95.3,102.8 95.7,103.7 95.8,104.3 95.2,105.4 94.1,105.8 92.6,106.1 91.6,106.1 91.8,107.4 91.0,108.0 89.8,107.7 89.4,108.8 90.2,109.2 89.4,110.1 89.2,111.4 87.9,112.1 87.5,112.8 88.7,113.6 87.5,115.0 86.7,116.0 86.2,117.2 86.8,117.9 86.6,118.8 87.1,119.4 88.3,120.1 87.5,120.7 86.3,120.7 84.8,120.1 83.6,119.2 82.4,118.1 81.7,116.7 81.3,115.0 81.3,113.6 82.1,112.8 82.4,111.4 82.8,110.4 82.4,109.2 82.8,107.9 82.8,106.5 82.8,104.8 83.4,103.4 84.0,102.1 84.4,100.8 84.4,99.4 84.5,98.1 84.5,96.8 84.9,95.5 85.2,94.1 85.2,92.3 85.5,90.6 85.4,88.8 85.3,87.7 84.5,87.1 83.6,86.4 82.4,85.5 81.3,84.6 80.7,83.5 80.3,82.4 79.7,81.7 79.2,80.4 78.6,79.0 77.9,77.9 77.2,77.0 76.8,75.9 77.0,75.0 77.5,74.5 77.9,73.7 77.2,73.5 77.1,72.4 77.7,71.2 77.9,70.6 78.7,70.1 78.9,69.3 79.7,68.4 79.9,67.5 79.8,66.2 79.5,65.1 78.9,64.1 78.2,63.6 77.5,64.1 77.6,64.9 77.0,64.7 76.5,64.3 75.5,64.2 75.0,63.7 74.3,63.1 73.7,62.7 73.3,62.1 73.3,61.6 72.7,60.9 71.9,60.1 71.2,59.8 70.2,59.5 69.1,59.2 68.2,58.5 67.3,57.6 66.5,57.1 65.7,57.5 64.9,57.6 63.9,57.3 62.6,56.7 61.4,56.2 60.3,55.5 59.1,54.8 58.1,53.9 57.9,53.0 58.1,52.2 57.7,51.4 56.9,50.4 56.0,49.3 55.1,48.6 54.8,47.7 54.0,46.8 53.2,46.1 52.7,45.3 52.1,44.4 51.3,43.7 50.7,43.3 50.9,44.2 51.7,45.3 52.3,46.2 52.9,47.3 53.3,48.2 53.8,49.5 54.3,50.2 54.8,50.9 54.4,51.2 54.1,50.7 53.2,49.8 52.7,48.9 52.1,48.0 51.2,47.4 50.9,46.7 50.2,45.3 49.4,44.0 48.9,42.7 48.7,42.0 47.9,41.3 47.1,41.0 46.2,40.8 46.0,40.0 45.2,39.0 44.7,38.2 44.3,37.6 43.7,36.5 43.3,35.8 43.5,34.7 43.2,33.5 43.5,32.0 43.6,30.5 43.4,29.8 43.0,28.6 44.3,28.8 44.7,29.5 44.5,28.1 43.9,27.5 42.8,26.9 41.6,26.3 40.6,25.5 40.2,24.5 39.1,23.3 38.6,22.9 37.7,22.3 36.9,21.4 36.2,20.5 34.6,19.6 33.6,19.8 32.7,19.2 31.3,18.5 29.9,18.3 28.4,18.3 26.8,17.8 25.3,17.6 24.5,18.3 23.3,18.7 21.9,19.0 22.2,17.8 23.1,17.2 21.4,18.0 20.6,18.9 20.1,19.8 18.7,20.7 17.5,21.4 15.9,22.0 14.8,22.4 13.6,22.9 11.8,23.2 12.8,22.5 14.2,21.9 15.6,21.4 16.7,20.5 17.5,19.8 17.1,19.4 15.9,19.5 14.4,19.5 13.8,18.5 12.6,18.3 11.5,17.7 11.2,16.8 11.7,16.0 12.3,15.4 14.0,15.2 14.8,14.5 14.0,14.2 12.4,14.3 10.7,14.2 10.4,13.7 9.3,13.3 10.5,12.8 12.1,12.4 12.7,12.0 11.3,11.3 10.3,10.9 11.7,10.4 13.2,9.7 15.2,9.0 17.1,8.6 18.0,8.2M105.9,18.5 104.6,17.8 102.7,17.4 101.5,16.1 100.7,15.0 99.9,14.3 99.2,13.4 98.4,12.2 98.8,11.2 100.3,10.5 98.4,9.8 98.0,9.4 99.6,9.0 97.6,8.5 96.8,7.6 96.4,6.3 95.3,5.4 93.3,4.3 91.0,3.9 88.3,4.1 86.3,3.6 84.4,2.8 83.2,2.0 85.2,1.4 87.9,0.5 91.0,-0.4 94.9,-1.2 101.1,-1.7 105.8,-2.1 112.8,-2.7 119.0,-2.4 123.7,-1.8 126.8,-1.1 130.3,-0.8 127.6,0.1 125.6,1.0 124.8,2.3 125.6,3.4 124.1,4.5 124.4,5.4 122.9,6.7 122.5,8.1 123.0,9.0 121.3,9.8 119.0,10.7 115.9,11.2 113.9,12.1 112.0,13.1 110.1,13.4 108.9,14.3 108.1,15.6 106.9,16.9 106.6,17.8 105.9,18.5M89.6,16.5 88.3,14.0 90.6,13.4 91.8,12.4 89.8,11.6 87.9,10.7 86.7,9.4 85.2,8.7 83.6,8.1 82.1,7.5 79.7,6.9 77.8,6.2 74.7,6.2 71.2,6.5 72.3,7.2 73.5,8.5 74.3,9.4 76.6,9.8 78.6,9.5 79.7,10.1 81.3,10.9 83.2,11.4 83.6,12.3 82.8,13.1 81.7,13.8 79.7,14.4 80.9,15.2 82.4,15.4 84.4,15.8 86.3,16.1 88.7,16.6 89.6,16.5M72.7,15.1 73.9,15.6 76.2,14.9 76.6,14.3 75.1,13.7 73.1,13.0 71.9,14.3 72.7,15.1M61.1,10.1 58.7,10.4 56.0,10.5 51.7,10.1 48.6,9.6 47.8,8.5 48.6,7.2 51.3,6.6 54.4,6.9 57.6,6.6 58.7,8.1 60.3,9.0 61.1,10.1M42.4,7.7 43.6,6.3 45.9,5.4 48.6,5.7 50.2,6.3 47.8,7.2 45.1,8.3 42.4,7.7M61.1,7.8 64.2,8.1 64.9,6.9 63.4,6.0 61.1,6.7 61.1,7.8M66.1,7.6 67.7,7.6 69.6,6.3 66.5,5.8 65.7,6.7 66.1,7.6M77.8,5.3 74.7,5.4 70.0,5.3 68.1,5.0 68.4,3.9 71.6,3.7 75.8,3.6 77.8,4.3 77.8,5.3M81.7,3.6 78.2,3.9 75.4,3.4 70.4,3.5 70.8,2.1 73.1,1.0 71.2,0.1 69.2,-0.4 73.9,-1.2 79.3,-2.0 85.6,-2.1 91.8,-1.7 89.8,-1.0 86.3,0.0 84.4,0.7 81.7,1.4 81.3,2.3 79.3,3.2 81.7,3.6M70.0,1.9 66.9,2.0 65.3,1.0 66.1,0.0 68.8,0.1 70.0,1.0 70.0,1.9M58.3,4.3 54.4,4.9 50.9,5.0 48.6,4.3 50.6,3.5 54.4,3.7 57.6,4.1 58.3,4.3M64.6,5.0 61.8,4.8 61.4,3.8 63.8,3.5 65.3,4.4 64.6,5.0M50.2,3.6 47.4,4.3 44.7,3.8 46.7,2.9 49.4,3.0 50.2,3.6M62.2,2.3 58.7,2.7 58.3,1.4 61.8,1.4 62.2,2.3M64.9,10.5 63.4,10.6 62.6,9.8 64.2,9.5 64.9,10.5M93.9,29.3 96.4,29.3 97.2,29.7 98.4,30.1 99.0,29.3 98.4,28.5 98.8,27.8 96.8,27.3 96.4,26.3 96.8,25.7 95.7,26.3 94.9,27.6 93.9,28.5 93.9,29.3M44.0,28.6 42.8,28.2 41.2,27.1 40.1,26.4 40.8,26.3 42.4,26.9 43.6,27.8 44.0,28.6M73.9,52.1 74.7,51.4 76.2,50.9 77.8,51.0 79.7,52.2 81.1,52.8 82.3,53.6 81.1,53.8 79.6,53.8 80.0,53.1 78.9,52.3 77.0,52.0 75.6,51.5 74.7,52.1 73.9,52.1M82.1,55.2 83.4,53.8 85.6,53.9 86.8,55.0 85.6,55.4 84.4,55.9 83.6,55.4 82.1,55.2M79.1,55.2 80.7,55.4 80.3,55.6 79.5,55.6 79.1,55.2M87.7,55.1 89.0,55.2 89.0,55.5 87.7,55.5 87.7,55.1M121.3,13.4 122.9,12.6 125.6,12.9 128.3,12.7 129.5,13.7 128.3,14.5 126.0,15.3 123.7,14.9 122.5,14.7 121.3,13.4M20.6,20.9 21.6,20.4 21.3,20.0 20.1,20.4 20.6,20.9M36.6,24.5 37.7,25.2 37.3,23.6 36.6,23.6 36.6,24.5M135.6,39.6 135.3,39.2 135.0,38.9 134.6,38.5 133.9,38.7 133.1,38.7 133.2,37.4 132.6,37.2 133.0,36.4 133.2,35.5 133.2,34.3 132.8,33.4 133.6,32.8 134.6,32.8 136.1,32.9 137.3,33.0 138.6,33.0 139.0,32.0 139.1,30.7 138.3,29.6 137.3,29.2 136.5,29.0 136.3,28.6 137.3,28.2 138.4,28.4 138.8,28.3 138.5,27.4 139.2,27.7 140.2,27.6 141.1,27.1 141.2,26.3 141.9,26.2 142.8,25.9 143.3,25.4 143.7,24.6 144.4,24.1 145.4,24.0 146.2,24.0 146.8,23.7 146.7,22.7 146.3,22.2 146.4,21.1 147.4,20.8 148.2,20.3 148.1,20.9 148.0,21.5 148.5,21.6 147.8,22.3 147.6,22.8 147.8,23.1 148.5,23.2 148.6,23.6 149.3,23.4 150.1,23.2 151.0,23.7 152.8,23.2 154.2,22.9 154.5,23.2 155.2,23.2 156.5,22.5 156.3,21.8 156.3,21.1 156.8,20.6 157.5,20.3 158.1,20.9 158.7,20.8 159.0,19.8 158.3,19.5 158.3,19.0 159.3,18.7 160.6,18.7 161.8,18.7 163.5,18.4 162.6,18.1 161.0,17.8 159.4,18.0 157.8,18.4 157.1,17.9 156.6,17.4 156.7,16.5 156.4,15.8 157.3,15.2 158.3,14.6 159.1,13.9 159.8,13.6 159.1,13.1 158.3,13.1 157.4,13.1 156.7,13.5 156.6,14.0 156.0,14.7 155.1,15.1 154.3,15.7 153.6,16.1 153.5,16.9 153.4,17.7 154.2,18.0 154.7,18.5 154.3,18.9 153.5,19.4 152.9,20.1 152.8,21.3 152.1,21.7 151.1,22.2 150.1,22.4 150.0,21.9 149.8,21.5 149.6,21.0 149.3,20.4 148.8,19.5 148.2,18.5 147.9,19.1 147.4,19.2 146.4,19.9 145.4,20.0 144.7,19.8 144.4,19.3 144.0,18.7 143.9,17.8 143.8,17.2 144.0,16.5 144.7,16.1 145.4,15.6 146.6,15.2 147.4,14.9 148.2,14.3 148.9,13.8 149.7,13.0 150.5,12.1 151.3,11.4 152.0,10.8 152.8,10.5 153.6,10.0 154.4,9.6 155.6,9.4 156.7,9.1 157.9,8.9 159.1,8.5 160.1,8.4 161.0,8.5 162.2,8.6 163.3,9.0 164.1,9.1 165.7,9.9 167.2,10.1 168.8,10.4 169.9,10.8 171.1,11.4 172.0,11.9 171.9,12.5 170.3,12.9 168.8,12.8 167.2,12.4 166.1,12.3 166.8,13.1 167.1,14.2 167.8,14.5 168.8,14.8 169.4,14.4 170.7,14.2 171.5,14.2 171.1,13.4 172.3,12.9 173.8,12.6 174.2,12.5 174.1,11.0 175.8,10.8 176.9,11.4 178.1,11.3 179.3,10.9 181.2,10.5 182.4,10.9 183.4,10.7 184.7,10.6 185.9,10.3 187.1,9.6 187.8,9.7 189.8,10.1 191.3,10.1 192.1,10.5 193.3,11.0 193.7,10.5 192.9,9.6 192.0,9.0 192.3,8.1 193.3,7.1 194.1,6.7 195.6,6.8 196.6,7.4 196.4,8.2 196.0,9.0 196.5,9.8 197.2,10.7 196.9,12.1 196.4,12.5 197.9,11.6 198.3,10.9 197.9,10.3 197.4,9.4 197.6,8.5 198.7,7.4 199.9,7.2 201.1,7.4 202.6,7.6 202.6,6.3 204.6,6.2 206.5,6.0 207.7,5.9 207.3,5.0 209.2,4.6 211.6,4.3 213.9,4.0 216.2,3.8 218.2,3.6 219.3,3.0 221.1,2.6 222.4,2.8 223.6,3.4 225.6,3.5 227.1,3.7 228.3,4.2 228.3,5.0 226.3,5.9 224.8,6.0 226.7,6.1 228.3,6.3 229.8,6.1 232.2,6.3 234.1,6.8 236.1,6.7 238.0,6.3 239.2,6.4 240.3,7.2 240.7,8.3 242.3,8.7 243.4,8.1 245.0,8.0 246.6,8.2 248.1,8.1 248.7,7.2 249.7,7.0 251.6,7.1 253.6,7.3 255.5,7.5 256.7,8.0 258.2,8.6 260.2,8.6 262.5,8.5 264.1,8.8 264.8,9.6 266.4,9.8 268.3,9.7 270.3,9.6 271.8,10.5 272.6,9.6 274.2,9.5 276.1,9.6 278.4,9.9 280.0,10.4M280.0,13.8 278.8,14.2 278.1,14.5 279.1,15.3 279.5,16.2 277.7,16.1 275.7,16.7 274.6,17.1 273.0,17.8 271.8,17.9 269.9,18.1 268.3,18.4 267.2,18.5 266.6,19.2 266.0,20.0 267.0,21.6 266.0,22.0 265.6,22.9 264.4,23.6 263.4,24.6 262.5,25.5 261.9,26.3 261.5,25.8 261.1,24.0 261.0,22.3 261.6,20.9 262.5,20.2 263.7,19.6 264.8,18.7 265.6,17.9 266.8,16.9 264.4,16.7 262.1,16.9 260.6,18.3 259.8,18.9 257.8,19.0 255.9,18.6 253.6,18.9 251.6,18.9 250.1,19.5 249.3,20.2 247.7,21.4 246.6,22.7 246.9,23.4 248.5,23.4 249.8,24.6 249.8,25.2 249.4,26.3 249.1,27.9 248.5,29.1 247.6,30.2 246.2,31.6 245.2,32.6 243.4,33.5 242.5,33.3 241.7,34.0 240.9,35.3 239.9,36.0 239.2,36.5 239.9,37.3 240.5,38.2 240.7,39.6 240.6,40.2 239.9,40.5 239.2,40.7 238.4,41.0 238.3,40.3 238.5,39.6 238.4,38.7 238.5,38.1 237.6,38.0 237.1,37.3 237.5,36.5 236.8,36.1 235.3,36.5 234.6,37.0 234.3,36.5 235.0,35.6 234.1,35.3 233.3,35.8 232.8,36.5 231.8,36.8 231.5,37.3 232.2,38.1 232.6,38.5 233.3,38.2 234.0,38.0 235.3,38.3 234.5,38.9 233.6,39.5 232.8,40.5 233.6,41.2 234.0,42.6 234.8,43.4 234.3,44.3 234.8,44.9 234.5,45.8 233.9,46.9 233.1,48.0 232.7,49.1 231.8,49.8 230.8,50.7 229.4,51.4 228.4,51.8 227.1,52.2 225.9,52.7 225.7,53.5 225.3,52.9 224.4,52.3 223.5,52.8 222.8,53.5 222.4,54.5 222.9,55.5 223.6,56.8 224.4,57.8 224.9,59.5 224.9,61.2 224.2,61.8 223.1,62.4 221.7,63.8 221.5,62.8 221.3,62.2 220.5,62.1 220.0,61.2 219.6,60.7 218.6,60.2 218.5,59.6 217.9,59.6 217.7,60.7 217.2,62.4 217.7,63.3 218.1,64.8 218.6,65.4 219.4,66.0 220.2,66.8 220.4,68.0 220.4,69.0 221.0,70.2 220.5,70.3 219.7,69.8 218.8,68.9 218.2,68.0 218.0,66.8 217.9,65.7 217.5,65.3 216.5,64.4 216.5,63.3 216.7,62.2 216.6,60.6 216.2,58.6 216.0,57.1 215.4,56.6 214.8,56.6 214.1,57.5 213.4,57.1 213.3,55.9 213.0,54.4 212.3,53.4 211.6,52.4 211.4,51.5 210.5,51.7 209.6,52.1 208.9,52.2 207.9,52.4 207.5,53.3 206.3,54.2 205.5,55.3 204.1,56.4 203.2,57.3 202.4,58.0 202.4,59.4 202.1,61.0 202.1,62.4 201.4,63.3 200.8,63.6 200.3,64.3 199.6,63.6 199.3,62.6 198.8,61.3 198.2,60.1 197.9,58.6 197.2,57.4 196.9,56.0 196.6,54.6 196.5,53.3 196.5,52.4 196.2,51.8 196.0,52.7 195.1,53.1 194.1,52.4 193.7,51.6 193.5,51.5 193.2,50.7 192.5,50.0 192.0,49.4 191.7,49.0 190.2,49.1 188.2,49.2 187.1,49.1 185.7,48.8 184.7,48.6 184.3,47.7 183.8,47.5 182.8,47.8 181.7,47.7 180.8,47.2 179.9,46.5 179.3,45.6 178.9,44.8 178.0,44.5 177.5,45.0 177.6,46.2 178.1,47.1 178.6,47.7 179.0,48.3 179.5,49.5 179.9,48.3 180.1,49.3 180.1,50.0 181.2,50.1 182.4,49.9 183.2,49.0 183.6,48.3 183.9,48.4 183.8,49.4 184.2,49.9 184.9,50.4 185.7,50.7 186.5,51.5 186.1,52.4 185.6,53.3 185.0,53.8 184.9,54.6 184.2,55.0 183.6,55.6 182.9,56.2 182.0,56.5 180.6,57.5 179.3,58.2 178.1,58.6 177.3,59.1 175.8,59.6 175.0,60.1 173.8,60.2 173.7,59.5 173.3,58.2 173.1,56.9 172.5,55.7 171.7,54.2 170.8,53.0 170.4,52.0 169.9,50.7 169.2,49.8 168.4,48.6 167.7,47.4 167.0,46.5 167.2,45.3 166.9,46.0 166.7,46.7 166.1,46.1 165.6,45.2 165.4,45.0 165.4,45.6 166.1,47.1 166.6,48.3 167.2,49.8 167.7,50.7 168.4,52.0 168.9,52.9 169.0,54.2 169.7,55.5 170.3,56.9 170.9,57.8 171.7,58.5 172.4,59.5 173.2,60.3 173.7,60.9 173.6,61.3 174.2,62.2 175.0,62.2 176.2,61.9 177.3,61.6 178.5,61.4 179.8,60.9 179.7,62.2 179.7,63.1 179.3,64.0 178.7,65.3 178.1,66.4 177.2,67.8 176.2,68.9 175.2,69.8 174.2,70.6 173.4,71.5 172.7,72.4 171.9,73.3 171.3,74.0 170.7,75.2 170.4,76.2 170.2,77.3 170.6,78.4 170.8,79.9 171.3,80.8 171.5,82.6 171.6,84.4 171.1,85.9 169.8,86.9 168.8,87.5 167.8,88.6 167.1,89.4 167.5,90.6 167.6,91.5 167.6,92.8 167.0,93.6 166.1,94.0 165.5,94.5 165.6,95.3 165.4,96.6 164.7,97.4 164.0,98.6 163.2,99.4 162.0,100.4 161.0,101.2 160.0,101.7 159.1,101.8 157.9,101.7 156.7,102.0 155.6,102.4 154.8,102.1 154.3,101.8 154.3,101.2 154.0,100.3 153.6,98.8 153.1,97.5 152.8,96.9 152.0,95.6 151.6,94.1 151.3,91.9 150.9,90.8 150.3,89.4 149.5,87.9 149.1,86.8 149.2,85.5 149.5,84.1 150.0,83.0 150.6,82.1 150.7,81.0 150.2,79.8 150.0,78.6 149.5,76.9 149.3,75.9 148.6,75.0 147.8,73.9 147.2,72.6 147.3,71.2 147.5,70.2 147.6,69.3 147.5,68.3 147.0,68.0 146.6,67.4 145.5,67.6 144.7,67.7 144.1,66.9 143.6,66.0 142.7,65.8 141.6,65.9 140.9,66.1 140.0,66.5 138.8,67.1 138.4,67.3 137.5,67.0 136.5,66.9 135.3,67.2 134.2,67.6 133.4,67.3 132.5,66.6 131.6,65.9 130.8,65.0 130.0,64.5 129.7,63.5 129.1,62.7 128.6,61.9 127.9,61.3 127.2,60.5 126.9,59.5 126.7,58.6 126.4,58.4 126.9,57.5 127.2,56.4 127.5,55.1 127.2,54.1 126.8,53.0 126.9,52.0 127.4,50.7 127.9,49.8 128.6,48.6 129.1,47.9 130.0,46.8 131.1,46.5 132.1,45.8 132.4,44.9 132.5,44.0 132.8,42.8 133.4,42.0 134.6,41.2 135.0,40.5 135.4,39.7 135.9,39.7 136.5,40.3 137.7,40.2 138.4,40.4 139.2,39.8 140.0,39.7 141.2,39.1 142.3,38.9 143.9,38.9 145.1,38.7 146.2,38.8 147.4,38.4 147.9,38.5 148.6,38.7 148.2,39.2 148.2,39.8 148.6,40.3 148.2,40.9 147.9,41.4 148.4,41.8 148.9,42.1 149.7,42.4 150.5,42.4 151.8,42.8 152.1,43.6 152.8,43.8 154.0,44.2 154.8,44.6 155.3,44.4 155.6,43.6 155.6,42.9 156.3,42.4 157.5,42.4 158.1,42.8 159.1,43.1 159.6,43.5 160.6,43.6 161.8,43.9 162.8,44.1 163.7,43.6 164.5,43.5 165.1,43.8 166.1,43.9 166.7,43.6 167.0,42.9 167.2,42.2 167.6,41.3 167.9,40.5 167.8,39.7 168.2,39.0 167.7,39.0 166.9,38.9 166.3,39.4 165.3,39.5 164.5,38.9 163.7,39.1 162.9,39.4 162.0,38.9 161.2,38.7 161.2,38.0 160.5,37.5 160.8,37.1 160.7,36.5 160.4,36.0 160.8,35.7 161.4,35.7 162.6,35.7 163.3,35.4 162.6,35.0 163.7,35.0 164.5,34.9 165.7,34.3 166.8,34.2 167.4,34.2 168.0,34.6 169.2,35.0 170.3,35.1 171.5,35.1 172.3,34.7 172.4,33.8 171.1,33.0 169.9,32.1 169.0,31.6 169.2,31.3 169.9,30.2 170.5,29.6 169.6,29.7 168.4,30.2 167.2,31.0 167.5,31.4 168.4,31.2 167.4,31.8 166.4,32.1 166.0,31.9 165.7,31.2 165.3,31.0 166.1,30.7 164.9,30.3 164.1,30.2 163.7,30.5 163.1,31.3 162.4,31.9 162.2,32.9 161.7,33.5 161.8,34.2 162.5,34.9 162.2,35.1 161.4,35.1 160.5,35.5 160.4,35.8 160.2,35.3 159.4,35.2 158.7,35.3 157.6,35.6 157.6,36.5 157.9,37.0 158.6,37.6 157.9,38.0 158.0,38.7 157.6,39.1 157.1,38.8 156.7,38.7 156.4,38.0 156.7,37.5 156.2,37.1 155.7,36.4 155.2,35.6 155.1,34.4 154.4,33.8 153.5,33.2 152.4,32.8 151.8,32.2 151.1,31.4 150.7,31.0 150.2,31.0 149.6,31.3 149.6,32.0 150.6,32.9 151.1,33.9 152.1,34.3 152.6,34.4 153.6,35.3 154.4,35.9 153.8,35.8 153.3,35.6 152.8,36.2 153.3,36.9 152.8,37.4 152.2,37.9 152.3,37.2 152.4,36.5 152.1,35.9 151.6,35.8 150.9,35.2 150.1,34.9 149.3,34.3 148.6,33.7 148.2,33.2 147.9,32.6 147.2,32.2 146.4,32.6 145.8,32.6 145.1,33.3 143.9,33.0 143.1,32.9 142.5,33.4 142.4,34.1 142.5,34.4 141.6,35.0 140.6,35.3 139.8,36.5 140.2,37.1 139.6,37.6 139.4,38.1 138.6,38.7 138.3,38.9 137.3,38.9 136.5,39.0 136.1,39.2 135.6,39.6M0.0,10.4 2.3,11.2 4.3,12.0 6.2,12.2 8.0,12.9 7.0,13.4 5.8,14.3 4.7,14.2 3.5,13.8 1.9,13.5 1.2,13.3 0.0,13.8M176.6,32.0 176.9,31.0 178.1,30.2 179.7,29.8 181.2,30.0 181.4,31.3 179.9,31.6 179.7,32.1 180.9,33.6 181.1,34.7 182.0,34.7 181.5,36.2 181.8,37.8 181.9,38.7 180.4,38.9 179.1,38.4 178.1,38.1 178.0,37.1 178.5,35.8 177.9,34.7 177.0,33.5 176.7,32.6 176.6,32.0M149.6,38.0 150.3,37.6 152.1,37.5 151.7,38.4 151.7,38.9 151.1,38.7 149.9,38.1 149.6,38.0M146.5,36.9 146.4,35.2 147.2,35.0 147.6,35.2 147.5,36.7 147.0,36.9 146.5,36.9M146.7,34.8 146.7,33.9 147.2,33.4 147.4,34.0 147.2,34.8 146.7,34.8M158.3,40.2 159.1,40.0 160.5,40.2 160.1,40.5 158.7,40.5 158.3,40.2M165.1,40.5 165.7,40.1 166.9,39.8 166.4,40.5 165.4,40.7 165.1,40.5M135.6,27.1 136.7,26.8 137.7,26.5 138.8,26.5 140.2,26.4 141.1,26.1 140.8,25.5 141.3,24.8 140.2,24.5 140.1,24.0 139.6,23.2 139.0,22.9 138.8,22.2 138.1,21.8 138.0,21.6 138.6,20.5 137.5,20.3 136.9,20.4 137.6,19.5 136.1,19.5 135.6,20.2 135.6,21.4 135.2,21.6 135.7,22.1 136.3,22.9 137.4,22.8 137.5,23.5 137.7,23.9 137.6,24.2 136.5,24.1 136.3,24.7 136.9,25.1 136.0,25.5 136.9,25.7 137.5,25.9 136.7,26.1 135.7,26.9 135.6,27.1M135.3,25.2 135.0,25.2 134.2,25.4 132.6,25.7 132.2,25.3 132.6,24.5 132.1,24.0 132.4,23.4 133.4,23.3 133.5,22.5 134.6,22.4 135.4,22.9 135.7,23.2 135.3,23.8 135.3,24.6 135.3,25.2M148.4,1.0 149.3,2.0 150.5,2.6 152.1,3.4 153.2,3.5 154.8,2.7 157.1,2.0 161.0,1.6 161.0,0.5 157.1,0.1 154.0,0.4 150.9,0.6 148.4,1.0M176.6,0.4 180.4,0.5 185.1,0.3 189.0,-0.4 185.1,-1.0 180.4,-0.6 176.6,0.4M180.8,8.2 181.2,7.2 182.4,6.3 183.6,5.4 185.1,4.6 187.4,3.9 190.6,3.3 193.3,3.2 192.9,3.7 189.8,4.4 187.4,5.1 185.5,6.2 184.3,7.1 183.2,8.3 184.7,8.9 182.8,8.9 181.2,8.7 180.8,8.2M213.9,1.0 216.2,1.9 220.1,1.4 222.1,1.9 223.2,1.0 220.9,0.1 217.8,-0.4 214.7,-0.2 213.9,1.0M246.6,4.5 248.9,5.6 251.2,6.5 253.6,5.4 256.7,4.8 255.1,4.3 250.4,4.1 247.3,4.1 246.6,4.5M250.4,30.7 251.6,30.3 251.5,27.8 252.4,28.0 251.4,25.8 251.4,24.2 250.9,23.3 250.6,24.0 250.2,25.4 250.5,27.1 250.4,28.5 250.4,30.7M248.9,34.7 249.8,34.4 250.2,33.7 251.4,34.2 252.4,33.4 253.2,33.1 253.0,32.2 252.2,32.4 250.8,31.2 250.1,31.4 250.0,32.9 249.1,33.2 248.8,34.0 248.9,34.7M241.8,41.3 243.1,40.1 244.6,39.9 245.8,39.7 246.4,38.4 246.8,38.9 247.8,38.2 248.6,37.3 248.9,36.0 249.1,35.0 250.0,34.8 250.1,36.0 250.4,36.5 249.7,37.5 249.6,38.7 249.4,39.6 248.9,40.5 248.1,40.7 247.3,40.8 246.4,41.1 245.6,41.8 245.1,41.0 243.8,41.0 242.7,41.4 241.8,41.3M241.0,41.8 241.8,41.4 242.6,42.0 242.2,43.6 241.6,44.0 241.3,43.6 241.0,42.5 241.0,41.8M243.1,42.2 243.4,42.5 244.8,41.5 244.6,41.2 243.4,41.2 243.1,42.2M233.4,51.1 234.0,52.0 234.5,51.1 234.9,49.3 234.1,49.2 233.4,51.1M224.5,54.5 225.2,55.4 225.9,55.1 226.3,54.0 225.6,53.7 224.5,53.9 224.5,54.5M233.8,55.1 235.0,55.1 235.2,56.4 234.6,57.5 234.6,58.9 236.4,59.5 236.5,60.3 235.8,60.0 234.9,59.3 233.8,58.8 233.3,57.0 233.8,55.1M234.9,65.3 236.1,64.6 236.6,64.2 237.6,62.9 238.4,64.4 238.2,65.9 237.5,66.5 236.4,65.8 234.9,65.3M236.7,60.4 237.8,61.6 237.2,62.6 236.7,61.7 236.7,60.4M234.9,61.0 235.7,61.7 235.8,63.1 235.2,62.8 234.9,61.9 234.9,61.0M231.2,64.0 232.9,62.2 233.2,61.5 232.4,62.4 231.2,64.0M224.8,70.2 225.2,69.7 226.3,70.1 227.9,68.8 228.8,67.5 229.8,66.8 230.8,65.3 231.5,66.2 232.7,66.7 231.8,67.6 231.5,68.8 232.5,70.6 231.6,71.1 231.4,72.2 230.6,73.7 230.2,74.9 229.1,74.7 227.9,74.3 226.9,74.2 225.7,74.1 225.6,72.8 224.8,71.5 224.8,70.2M214.1,66.5 215.8,66.9 216.8,68.2 218.1,69.5 218.9,70.0 220.7,71.5 221.3,72.8 222.4,74.2 222.3,76.6 221.3,76.7 219.6,75.0 218.5,73.3 217.8,71.9 216.7,70.0 215.8,68.9 214.7,67.5 214.1,66.5M221.8,77.5 222.8,76.8 224.2,77.1 225.9,77.6 227.6,77.6 229.0,78.4 229.0,79.2 227.5,79.0 225.6,78.7 224.0,78.4 222.8,78.1 221.8,77.5M236.1,80.6 237.2,79.7 238.9,79.0 238.0,79.7 236.8,80.5 236.1,80.6M230.8,79.5 232.6,78.9 235.5,78.8 235.6,79.2 232.9,79.3 230.8,79.5M232.9,76.4 233.6,76.4 233.6,74.0 234.3,73.8 234.3,75.7 235.5,75.9 234.9,74.3 234.4,73.2 236.0,72.3 234.5,72.3 233.7,71.1 234.2,70.6 235.7,70.7 236.8,70.6 237.4,70.1 236.7,71.1 235.3,71.1 234.0,71.1 233.3,71.5 233.0,72.2 232.4,73.9 232.9,74.6 232.9,76.4M239.2,70.2 239.9,69.9 239.6,71.1 240.2,71.9 239.5,71.8 239.2,70.2M241.9,72.7 243.1,71.9 244.3,72.3 245.0,74.4 246.9,72.8 248.9,73.6 250.8,74.3 252.4,74.9 253.4,76.2 254.7,76.9 255.1,78.6 256.8,80.6 255.1,80.5 253.9,79.0 252.0,78.3 251.5,79.5 249.7,79.6 248.5,78.7 247.3,79.0 247.0,78.1 247.9,77.5 246.6,75.9 244.6,75.0 243.3,75.0 242.6,74.0 243.4,73.5 242.7,73.3 241.9,72.7M256.7,76.4 257.8,75.8 258.5,75.2 257.8,76.8 256.7,76.4M228.3,91.0 228.7,90.8 230.6,89.9 232.4,89.5 234.1,88.8 235.1,87.0 235.3,86.1 236.1,85.9 236.8,85.0 238.0,84.1 238.9,83.8 239.6,84.8 240.7,84.7 241.1,83.0 241.9,82.3 243.1,82.1 243.1,81.7 244.2,82.1 245.8,82.1 246.4,82.4 245.8,83.3 245.4,84.5 246.6,85.5 248.1,86.8 249.3,87.0 250.1,85.2 250.1,83.0 250.8,81.0 251.6,82.6 251.7,84.1 253.0,84.8 253.1,86.1 253.8,88.3 255.7,89.6 256.4,91.4 257.3,91.5 257.7,92.6 259.1,94.4 259.5,96.9 259.0,99.0 257.8,100.8 257.3,102.4 256.7,104.8 255.1,105.0 253.8,106.2 252.6,105.5 251.6,105.9 250.1,105.6 248.9,104.9 248.6,104.2 247.7,103.1 247.3,102.1 247.2,100.6 245.8,102.4 245.4,102.1 245.0,100.8 244.2,100.3 243.1,99.9 241.9,99.4 240.3,99.6 238.8,100.2 237.2,100.8 236.1,101.6 234.1,101.5 232.9,101.7 231.8,102.5 230.2,102.5 229.4,101.9 229.9,101.0 230.0,99.9 229.4,98.1 229.4,97.2 228.7,95.0 228.3,94.1 228.5,92.8 228.3,91.0M252.5,107.6 253.9,108.0 255.3,107.8 255.3,108.9 254.7,109.8 253.6,110.2 252.9,108.9 252.5,107.6M274.3,102.0 275.7,103.3 276.5,104.3 276.9,104.9 278.8,104.9 278.4,106.3 277.7,106.4 276.9,108.0 276.3,108.4 275.8,108.0 276.1,107.0 275.3,106.5 275.8,105.9 275.7,104.3 274.6,102.8 274.3,102.0M274.3,107.4 275.5,108.3 275.2,109.2 274.4,110.2 273.2,111.0 272.6,112.2 271.4,112.8 269.5,112.3 269.7,111.6 270.9,110.5 272.6,109.6 273.4,108.6 273.9,107.7 274.3,107.4M178.3,82.1 179.3,85.2 178.7,86.6 178.0,89.2 176.9,93.2 176.6,93.8 175.2,94.1 174.2,93.5 173.9,92.2 173.7,90.8 174.5,89.2 174.2,87.0 174.6,85.9 176.2,85.4 177.2,84.4 178.0,83.0 178.3,82.1M202.1,65.7 202.1,64.4 202.4,62.8 203.2,64.0 203.7,65.3 203.2,66.0 202.4,66.2 202.1,65.7M92.3,117.0 93.7,117.0 95.0,117.3 94.5,117.8 92.9,117.8 92.3,117.0M68.4,30.1 69.6,30.2 71.2,29.5 72.7,30.2 74.2,30.2 74.0,29.4 72.7,28.3 71.2,28.2 70.3,28.9 68.4,30.1M71.7,34.5 72.5,34.4 73.0,33.4 72.8,32.0 73.5,31.1 74.0,30.8 72.7,30.8 71.9,31.3 71.9,32.0 71.6,33.4 71.7,34.5M74.2,30.7 75.1,31.3 75.8,33.4 76.5,33.1 76.5,32.0 77.4,31.8 77.8,30.8 76.6,30.6 74.2,30.7M75.1,34.5 76.6,34.7 78.6,33.7 78.2,33.4 76.6,33.6 75.4,34.2 75.1,34.5M77.9,33.1 79.3,33.1 80.7,32.9 80.6,32.4 79.7,32.5 78.3,32.7 77.9,33.1M64.6,26.7 65.1,26.3 64.2,24.9 63.2,23.8 63.9,23.8 64.7,24.9 64.6,26.7M49.0,17.4 50.9,16.9 52.9,16.5 55.2,15.8 53.7,16.1 51.3,16.1 49.8,16.7 49.0,17.4M42.8,13.8 44.3,13.0 46.7,12.1 48.2,12.5 46.3,13.4 45.1,14.0 42.8,13.8M53.3,19.6 55.2,19.0 57.2,18.9 55.2,19.3 53.3,19.6M60.3,21.4 60.7,20.0 61.1,20.5 60.3,21.4M62.6,25.8 63.4,25.4 62.4,24.3 61.8,24.7 62.6,25.8M73.3,61.7 73.9,61.0 74.0,61.3 73.5,61.8 73.3,61.7M85.7,85.0 86.3,85.5 86.6,86.0 86.2,85.7 85.7,85.0M164.7,71.9 165.3,71.2 166.4,71.4 166.8,71.9 166.1,73.7 164.9,73.8 164.6,72.8 164.7,71.9M162.7,74.4 162.9,76.4 163.7,78.2 164.3,79.2 163.9,78.6 163.0,77.1 162.6,75.5 162.7,74.4M166.4,79.9 166.8,81.3 167.1,83.0 167.5,84.2 166.9,83.5 166.7,82.1 166.4,79.9M220.7,25.7 222.1,25.5 223.6,24.5 224.8,23.2 225.4,22.0 224.6,22.7 222.8,24.3 221.3,25.2 220.7,25.7M197.2,30.2 198.7,30.2 200.3,30.4 201.6,30.2 200.7,30.0 198.7,29.9 197.6,29.9 197.2,30.2M185.3,31.6 185.9,30.7 187.4,30.2 188.1,31.6 186.7,32.6 185.5,32.5 185.3,31.6M163.3,18.0 164.5,18.3 165.5,17.6 164.9,16.8 163.7,17.1 163.3,18.0M166.8,17.4 167.8,17.1 168.2,16.2 167.2,15.8 166.8,16.5 166.8,17.4M149.7,19.3 150.7,19.5 150.9,18.9 150.1,19.0 149.7,19.3M79.5,50.2 79.7,48.9 80.0,49.9 79.5,50.2M78.9,47.9 80.1,47.9 79.5,47.6 78.9,47.9M18.7,54.6 19.4,54.2 18.8,53.6 18.7,54.6M17.0,52.6 17.3,52.3 17.2,52.7 17.0,52.6M68.8,71.8 69.4,71.6 69.6,72.2 69.0,72.4 68.8,71.8M267.6,89.4 268.7,90.1 269.9,91.3 269.1,91.0 267.6,89.4M193.7,115.0 194.8,115.1 194.4,115.6 193.7,115.0M110.4,119.4 112.0,119.6 111.6,119.9 110.4,119.4M277.9,87.0 278.9,86.9 278.8,87.6 277.9,87.0M261.7,77.7 263.7,78.9 264.8,79.9 264.1,79.7 262.1,78.2 261.7,77.7M117.8,37.3 119.0,37.2 118.2,37.4 117.8,37.3M127.2,46.4 127.9,46.7 129.5,45.8 127.2,46.4M183.0,90.1 183.4,90.4 183.1,90.5 183.0,90.1M181.5,60.3 182.4,60.3 182.0,60.6 181.5,60.3M7.8,24.7 9.3,24.2 10.9,23.8 8.9,24.5 7.8,24.7M1.6,25.6 3.9,25.4 6.2,25.1 3.5,25.5 1.6,25.6M274.6,24.7 276.1,25.0 278.1,25.5 279.6,25.9 277.7,25.4 275.3,24.7 274.6,24.7M253.6,32.6 255.1,31.6 256.7,30.7 258.2,29.4 259.8,28.2 261.3,27.0 260.6,27.6 258.6,29.4 256.7,30.9 254.7,32.0 253.6,32.6M278.9,8.3 279.9,8.0 279.9,8.6 278.9,8.3M77.8,15.2 79.3,15.3 80.1,14.9 78.6,14.7 77.8,15.2M75.8,15.9 77.4,16.3 77.8,16.1 76.2,15.6 75.8,15.9M8.9,15.6 7.4,15.3 8.2,15.1 8.9,15.6M5.4,17.8 6.1,18.0 5.8,17.7 5.4,17.8M0.0,141.4 7.8,141.7 13.2,141.8 17.1,141.0 19.4,140.5 23.3,140.1 27.2,139.2 31.1,138.7 35.0,138.3 38.9,138.1 42.8,137.6 46.7,137.9 50.6,138.0 54.4,138.3 58.3,138.6 60.7,138.7 62.2,137.4 66.1,137.0 70.0,136.8 73.9,137.2 77.8,137.1 80.9,136.8 84.0,135.2 85.6,133.9 87.5,132.5 89.4,131.2 91.0,129.9 93.3,128.5 95.7,128.4 94.9,129.4 93.3,130.8 92.2,133.0 91.8,134.7 92.2,136.5 91.8,138.3 92.6,139.6 93.3,141.0 97.2,141.8 101.1,141.4 105.0,141.4 108.9,141.2 112.8,141.0 116.7,139.6 120.6,138.7 124.4,137.4 128.3,136.5 132.2,135.5 136.1,135.2 140.0,134.6 143.9,134.5 147.8,134.3 151.7,134.1 155.6,134.3 159.4,134.5 163.3,134.1 167.2,133.6 171.1,133.0 175.0,132.3 178.9,131.2 182.8,130.9 186.7,131.6 190.6,132.3 194.4,133.0 196.0,133.9 198.3,133.9 200.7,133.0 202.2,132.1 206.1,131.5 210.0,131.2 213.9,131.0 217.8,130.6 221.7,130.8 225.6,130.9 229.4,131.5 233.3,131.5 237.2,131.2 241.1,130.9 245.0,130.9 248.9,131.4 252.8,132.1 256.7,133.0 260.6,133.4 264.4,134.1 266.8,135.0 269.1,135.6 272.5,135.5 272.2,136.5 270.7,137.9 268.3,138.7 266.8,140.1 268.3,141.2 270.7,141.4 273.8,141.5 276.9,141.7 280.0,141.4" fill="none" stroke="#00ffff" stroke-opacity="0.55" stroke-width="1.3" stroke-linejoin="round"/><path d="M13.2,142.5 L0.5,142.5 L0.5,0.5 L279.5,0.5 L279.5,142.5 L264.8,142.5" fill="none" stroke="#8c8c8c" stroke-width="1"/><rect x="13.2" y="142" width="251.6" height="1" fill="#9fe3dc"/></svg>
<div class="cb" style="left:638px;top:21px;width:8.700000000000045px;height:143px"></div>
<div class="cbt" style="left:644.2px;top:92.0px"></div>
<div class="t title" style="font-size:18.3px;left:507px;top:16.5px;transform:translate(-50%,-0.8465em)">SSP5-8.5 – Temperature</div>
<div class="t lab" style="left:489.7px;top:193.5px;transform:translate(-50%,-0.8465em)">(b)</div>
<div class="t tick" style="left:650.2px;top:21px;transform:translateY(-0.45em)">5</div>
<div class="t tick" style="left:650.2px;top:92.5px;transform:translateY(-0.45em)">0</div>
<div class="t tick" style="left:650.2px;top:164px;transform:translateY(-0.45em)">-5</div>
<div class="t ylab" style="left:684.7px;top:28px;">Percent Change [%]</div>
<svg class="map" style="left:7px;top:226px" width="277" height="142.5" viewBox="0 0 277 142.5"><rect x="0" y="0" width="277" height="142.5" fill="#fde4e4"/><defs><filter id="blc" x="-5%" y="-5%" width="110%" height="110%"><feGaussianBlur stdDeviation="0.6 2.8"/></filter><linearGradient id="gc0" gradientUnits="userSpaceOnUse" x1="0" y1="0" x2="277.0" y2="0"><stop offset="0.014" stop-color="#ffa6a6"/><stop offset="0.153" stop-color="#ffa6a6"/><stop offset="0.181" stop-color="#ff8c8c"/><stop offset="0.264" stop-color="#ff8c8c"/><stop offset="0.292" stop-color="#ff9999"/><stop offset="0.319" stop-color="#ffe6e6"/><stop offset="0.347" stop-color="#ffe6e6"/><stop offset="0.375" stop-color="#ffffff"/><stop offset="0.431" stop-color="#ffffff"/><stop offset="0.458" stop-color="#ff7373"/><stop offset="0.486" stop-color="#ff7373"/><stop offset="0.514" stop-color="#ff9494"/><stop offset="0.569" stop-color="#ff9494"/><stop offset="0.597" stop-color="#ffb8b8"/><stop offset="0.986" stop-color="#ffb8b8"/></linearGradient><linearGradient id="gc1" gradientUnits="userSpaceOnUse" x1="0" y1="0" x2="277.0" y2="0"><stop offset="0.014" stop-color="#fff2f2"/><stop offset="0.153" stop-color="#fff2f2"/><stop offset="0.181" stop-color="#ffd9d9"/><stop offset="0.208" stop-color="#ffa6a6"/><stop offset="0.292" stop-color="#ffa6a6"/><stop offset="0.319" stop-color="#ffe6e6"/><stop offset="0.347" stop-color="#e0e0ff"/><stop offset="0.458" stop-color="#e0e0ff"/><stop offset="0.486" stop-color="#ffe6e6"/><stop offset="0.514" stop-color="#e6e6ff"/><stop offset="0.542" stop-color="#f2f2ff"/><stop offset="0.569" stop-color="#f2f2ff"/><stop offset="0.597" stop-color="#ffe6e6"/><stop offset="0.736" stop-color="#ffe6e6"/><stop offset="0.764" stop-color="#ffd9d9"/><stop offset="0.903" stop-color="#ffd9d9"/><stop offset="0.931" stop-color="#ffe6e6"/><stop offset="0.986" stop-color="#ffe6e6"/></linearGradient><linearGradient id="gc2" gradientUnits="userSpaceOnUse" x1="0" y1="0" x2="277.0" y2="0"><stop offset="0.014" stop-color="#fff2f2"/><stop offset="0.125" stop-color="#fff2f2"/><stop offset="0.153" stop-color="#ffe6e6"/><stop offset="0.208" stop-color="#ffe6e6"/><stop offset="0.236" stop-color="#ffbfbf"/><stop offset="0.292" stop-color="#ffbfbf"/><stop offset="0.319" stop-color="#ffe6e6"/><stop offset="0.347" stop-color="#d9d9ff"/><stop offset="0.375" stop-color="#b8b8ff"/><stop offset="0.458" stop-color="#b8b8ff"/><stop offset="0.486" stop-color="#e6e6ff"/><stop offset="0.514" stop-color="#ebebff"/><stop offset="0.542" stop-color="#f2f2ff"/><stop offset="0.569" stop-color="#f2f2ff"/><stop offset="0.597" stop-color="#fff2f2"/><stop offset="0.681" stop-color="#fff2f2"/><stop offset="0.708" stop-color="#ffebeb"/><stop offset="0.819" stop-color="#ffebeb"/><stop offset="0.847" stop-color="#ffe0e0"/><stop offset="0.875" stop-color="#ffe0e0"/><stop offset="0.903" stop-color="#ffbfbf"/><stop offset="0.958" stop-color="#ffbfbf"/><stop offset="0.986" stop-color="#ffe6e6"/></linearGradient><linearGradient id="gc3" gradientUnits="userSpaceOnUse" x1="0" y1="0" x2="277.0" y2="0"><stop offset="0.014" stop-color="#ffe0e0"/><stop offset="0.125" stop-color="#ffe0e0"/><stop offset="0.153" stop-color="#ffd9d9"/><stop offset="0.208" stop-color="#ffd9d9"/><stop offset="0.236" stop-color="#ffd1d1"/><stop offset="0.292" stop-color="#ffd1d1"/><stop offset="0.319" stop-color="#ffe0e0"/><stop offset="0.347" stop-color="#d9d9ff"/><stop offset="0.375" stop-color="#b2b2ff"/><stop offset="0.458" stop-color="#b2b2ff"/><stop offset="0.486" stop-color="#e6e6ff"/><stop offset="0.514" stop-color="#f2f2ff"/><stop offset="0.542" stop-color="#f2f2ff"/><stop offset="0.569" stop-color="#ffffff"/><stop offset="0.597" stop-color="#d4d4ff"/><stop offset="0.708" stop-color="#d4d4ff"/><stop offset="0.736" stop-color="#fff2f2"/><stop offset="0.819" stop-color="#fff2f2"/><stop offset="0.847" stop-color="#ffebeb"/><stop offset="0.875" stop-color="#ffebeb"/><stop offset="0.903" stop-color="#ffd9d9"/><stop offset="0.958" stop-color="#ffd9d9"/><stop offset="0.986" stop-color="#ffebeb"/></linearGradient><linearGradient id="gc4" gradientUnits="userSpaceOnUse" x1="0" y1="0" x2="277.0" y2="0"><stop offset="0.014" stop-color="#ffebeb"/><stop offset="0.069" stop-color="#ffebeb"/><stop offset="0.097" stop-color="#ffe6e6"/><stop offset="0.153" stop-color="#ffe6e6"/><stop offset="0.181" stop-color="#ffebeb"/><stop offset="0.319" stop-color="#ffebeb"/><stop offset="0.347" stop-color="#d9d9ff"/><stop offset="0.375" stop-color="#d9d9ff"/><stop offset="0.403" stop-color="#ccccff"/><stop offset="0.458" stop-color="#ccccff"/><stop offset="0.486" stop-color="#ebebff"/><stop offset="0.514" stop-color="#f2f2ff"/><stop offset="0.569" stop-color="#f2f2ff"/><stop offset="0.597" stop-color="#ebebff"/><stop offset="0.681" stop-color="#ebebff"/><stop offset="0.708" stop-color="#fff2f2"/><stop offset="0.819" stop-color="#fff2f2"/><stop offset="0.847" stop-color="#ffebeb"/><stop offset="0.903" stop-color="#ffebeb"/><stop offset="0.931" stop-color="#fff2f2"/><stop offset="0.986" stop-color="#fff2f2"/></linearGradient><linearGradient id="gc5" gradientUnits="userSpaceOnUse" x1="0" y1="0" x2="277.0" y2="0"><stop offset="0.014" stop-color="#ffe6e6"/><stop offset="0.153" stop-color="#ffe6e6"/><stop offset="0.181" stop-color="#fff2f2"/><stop offset="0.347" stop-color="#fff2f2"/><stop offset="0.375" stop-color="#f0f0ff"/><stop offset="0.458" stop-color="#f0f0ff"/><stop offset="0.486" stop-color="#e0e0ff"/><stop offset="0.569" stop-color="#e0e0ff"/><stop offset="0.597" stop-color="#f2f2ff"/><stop offset="0.681" stop-color="#f2f2ff"/><stop offset="0.708" stop-color="#ffebeb"/><stop offset="0.819" stop-color="#ffebeb"/><stop offset="0.847" stop-color="#fff0f0"/><stop offset="0.986" stop-color="#fff0f0"/></linearGradient><linearGradient id="gc6" gradientUnits="userSpaceOnUse" x1="0" y1="0" x2="277.0" y2="0"><stop offset="0.014" stop-color="#fff5f5"/><stop offset="0.153" stop-color="#fff5f5"/><stop offset="0.181" stop-color="#fff0f0"/><stop offset="0.264" stop-color="#fff0f0"/><stop offset="0.292" stop-color="#fffafa"/><stop offset="0.347" stop-color="#fffafa"/><stop offset="0.375" stop-color="#fff7f7"/><stop offset="0.431" stop-color="#fff7f7"/><stop offset="0.458" stop-color="#e6e6ff"/><stop offset="0.486" stop-color="#c7c7ff"/><stop offset="0.597" stop-color="#c7c7ff"/><stop offset="0.625" stop-color="#e6e6ff"/><stop offset="0.653" stop-color="#e6e6ff"/><stop offset="0.681" stop-color="#ffffff"/><stop offset="0.708" stop-color="#ffffff"/><stop offset="0.736" stop-color="#fff2f2"/><stop offset="0.764" stop-color="#fff2f2"/><stop offset="0.792" stop-color="#ffe0e0"/><stop offset="0.819" stop-color="#ffe0e0"/><stop offset="0.847" stop-color="#fff5f5"/><stop offset="0.986" stop-color="#fff5f5"/></linearGradient><linearGradient id="gc7" gradientUnits="userSpaceOnUse" x1="0" y1="0" x2="277.0" y2="0"><stop offset="0.014" stop-color="#ffebeb"/><stop offset="0.264" stop-color="#ffebeb"/><stop offset="0.292" stop-color="#fff2f2"/><stop offset="0.347" stop-color="#fff2f2"/><stop offset="0.375" stop-color="#fff0f0"/><stop offset="0.431" stop-color="#fff0f0"/><stop offset="0.458" stop-color="#f2f2ff"/><stop offset="0.486" stop-color="#bfbfff"/><stop offset="0.569" stop-color="#bfbfff"/><stop offset="0.597" stop-color="#ffffff"/><stop offset="0.625" stop-color="#ffebeb"/><stop offset="0.986" stop-color="#ffebeb"/></linearGradient><linearGradient id="gc8" gradientUnits="userSpaceOnUse" x1="0" y1="0" x2="277.0" y2="0"><stop offset="0.014" stop-color="#ffe6e6"/><stop offset="0.264" stop-color="#ffe6e6"/><stop offset="0.292" stop-color="#fff2f2"/><stop offset="0.375" stop-color="#fff2f2"/><stop offset="0.403" stop-color="#ffebeb"/><stop offset="0.458" stop-color="#ffebeb"/><stop offset="0.486" stop-color="#ebebff"/><stop offset="0.569" stop-color="#ebebff"/><stop offset="0.597" stop-color="#ffebeb"/><stop offset="0.625" stop-color="#ffe6e6"/><stop offset="0.986" stop-color="#ffe6e6"/></linearGradient><linearGradient id="gc9" gradientUnits="userSpaceOnUse" x1="0" y1="0" x2="277.0" y2="0"><stop offset="0.014" stop-color="#ffe6e6"/><stop offset="0.264" stop-color="#ffe6e6"/><stop offset="0.292" stop-color="#fff2f2"/><stop offset="0.347" stop-color="#fff2f2"/><stop offset="0.375" stop-color="#ffd9d9"/><stop offset="0.403" stop-color="#ffebeb"/><stop offset="0.486" stop-color="#ffebeb"/><stop offset="0.514" stop-color="#fff2f2"/><stop offset="0.597" stop-color="#fff2f2"/><stop offset="0.625" stop-color="#ffe6e6"/><stop offset="0.986" stop-color="#ffe6e6"/></linearGradient><linearGradient id="gc10" gradientUnits="userSpaceOnUse" x1="0" y1="0" x2="277.0" y2="0"><stop offset="0.014" stop-color="#fff2f2"/><stop offset="0.125" stop-color="#fff2f2"/><stop offset="0.153" stop-color="#ffebeb"/><stop offset="0.264" stop-color="#ffebeb"/><stop offset="0.292" stop-color="#fff0f0"/><stop offset="0.375" stop-color="#fff0f0"/><stop offset="0.403" stop-color="#ffebeb"/><stop offset="0.486" stop-color="#ffebeb"/><stop offset="0.514" stop-color="#ffffff"/><stop offset="0.542" stop-color="#d9d9ff"/><stop offset="0.597" stop-color="#d9d9ff"/><stop offset="0.625" stop-color="#ffebeb"/><stop offset="0.986" stop-color="#ffebeb"/></linearGradient><linearGradient id="gc11" gradientUnits="userSpaceOnUse" x1="0" y1="0" x2="277.0" y2="0"><stop offset="0.014" stop-color="#fffafa"/><stop offset="0.125" stop-color="#fffafa"/><stop offset="0.153" stop-color="#ffeded"/><stop offset="0.264" stop-color="#ffeded"/><stop offset="0.292" stop-color="#fff2f2"/><stop offset="0.375" stop-color="#fff2f2"/><stop offset="0.403" stop-color="#ffeded"/><stop offset="0.486" stop-color="#ffeded"/><stop offset="0.514" stop-color="#fffafa"/><stop offset="0.542" stop-color="#e0e0ff"/><stop offset="0.597" stop-color="#e0e0ff"/><stop offset="0.625" stop-color="#ffebeb"/><stop offset="0.819" stop-color="#ffebeb"/><stop offset="0.847" stop-color="#fff0f0"/><stop offset="0.931" stop-color="#fff0f0"/><stop offset="0.958" stop-color="#ffebeb"/><stop offset="0.986" stop-color="#ffebeb"/></linearGradient><linearGradient id="gc12" gradientUnits="userSpaceOnUse" x1="0" y1="0" x2="277.0" y2="0"><stop offset="0.014" stop-color="#ffebeb"/><stop offset="0.097" stop-color="#ffebeb"/><stop offset="0.125" stop-color="#fff7f7"/><stop offset="0.181" stop-color="#fff7f7"/><stop offset="0.208" stop-color="#ffebeb"/><stop offset="0.986" stop-color="#ffebeb"/></linearGradient><linearGradient id="gc13" gradientUnits="userSpaceOnUse" x1="0" y1="0" x2="277.0" y2="0"><stop offset="0.014" stop-color="#ffeded"/><stop offset="0.264" stop-color="#ffeded"/><stop offset="0.292" stop-color="#fff0f0"/><stop offset="0.569" stop-color="#fff0f0"/><stop offset="0.597" stop-color="#ffe0e0"/><stop offset="0.708" stop-color="#ffe0e0"/><stop offset="0.736" stop-color="#ffeded"/><stop offset="0.986" stop-color="#ffeded"/></linearGradient><linearGradient id="gc14" gradientUnits="userSpaceOnUse" x1="0" y1="0" x2="277.0" y2="0"><stop offset="0.014" stop-color="#ffebeb"/><stop offset="0.264" stop-color="#ffebeb"/><stop offset="0.292" stop-color="#fff2f2"/><stop offset="0.319" stop-color="#fff2f2"/><stop offset="0.347" stop-color="#fffafa"/><stop offset="0.431" stop-color="#fffafa"/><stop offset="0.458" stop-color="#fff2f2"/><stop offset="0.486" stop-color="#fff2f2"/><stop offset="0.514" stop-color="#ffebeb"/><stop offset="0.986" stop-color="#ffebeb"/></linearGradient><linearGradient id="gc15" gradientUnits="userSpaceOnUse" x1="0" y1="0" x2="277.0" y2="0"><stop offset="0.014" stop-color="#ffe6e6"/><stop offset="0.264" stop-color="#ffe6e6"/><stop offset="0.292" stop-color="#fff2f2"/><stop offset="0.486" stop-color="#fff2f2"/><stop offset="0.514" stop-color="#ffe0e0"/><stop offset="0.986" stop-color="#ffe0e0"/></linearGradient><linearGradient id="gc16" gradientUnits="userSpaceOnUse" x1="0" y1="0" x2="277.0" y2="0"><stop offset="0.014" stop-color="#ffbfbf"/><stop offset="0.292" stop-color="#ffbfbf"/><stop offset="0.319" stop-color="#ffd9d9"/><stop offset="0.375" stop-color="#ffd9d9"/><stop offset="0.403" stop-color="#ffcccc"/><stop offset="0.486" stop-color="#ffcccc"/><stop offset="0.514" stop-color="#ffbfbf"/><stop offset="0.986" stop-color="#ffbfbf"/></linearGradient><linearGradient id="gc17" gradientUnits="userSpaceOnUse" x1="0" y1="0" x2="277.0" y2="0"><stop offset="0.014" stop-color="#ffb2b2"/><stop offset="0.292" stop-color="#ffb2b2"/><stop offset="0.319" stop-color="#ffcccc"/><stop offset="0.681" stop-color="#ffcccc"/><stop offset="0.708" stop-color="#ffe6e6"/><stop offset="0.847" stop-color="#ffe6e6"/><stop offset="0.875" stop-color="#ffa6a6"/><stop offset="0.958" stop-color="#ffa6a6"/><stop offset="0.986" stop-color="#ffcccc"/></linearGradient></defs><g filter="url(#blc)"><rect x="-4" y="-7.92" width="285.0" height="8.42" fill="url(#gc0)"/><rect x="-4" y="0.00" width="285.0" height="8.42" fill="url(#gc0)"/><rect x="-4" y="7.92" width="285.0" height="8.42" fill="url(#gc1)"/><rect x="-4" y="15.83" width="285.0" height="8.42" fill="url(#gc2)"/><rect x="-4" y="23.75" width="285.0" height="8.42" fill="url(#gc3)"/><rect x="-4" y="31.67" width="285.0" height="8.42" fill="url(#gc4)"/><rect x="-4" y="39.58" width="285.0" height="8.42" fill="url(#gc5)"/><rect x="-4" y="47.50" width="285.0" height="8.42" fill="url(#gc6)"/><rect x="-4" y="55.42" width="285.0" height="8.42" fill="url(#gc7)"/><rect x="-4" y="63.33" width="285.0" height="8.42" fill="url(#gc8)"/><rect x="-4" y="71.25" width="285.0" height="8.42" fill="url(#gc9)"/><rect x="-4" y="79.17" width="285.0" height="8.42" fill="url(#gc10)"/><rect x="-4" y="87.08" width="285.0" height="8.42" fill="url(#gc11)"/><rect x="-4" y="95.00" width="285.0" height="8.42" fill="url(#gc12)"/><rect x="-4" y="102.92" width="285.0" height="8.42" fill="url(#gc13)"/><rect x="-4" y="110.83" width="285.0" height="8.42" fill="url(#gc14)"/><rect x="-4" y="118.75" width="285.0" height="8.42" fill="url(#gc15)"/><rect x="-4" y="126.67" width="285.0" height="8.42" fill="url(#gc16)"/><rect x="-4" y="134.58" width="285.0" height="8.42" fill="url(#gc17)"/><rect x="-4" y="142.50" width="285.0" height="8.42" fill="url(#gc17)"/></g><filter id="bc1" x="-10%" y="-100%" width="120%" height="300%"><feGaussianBlur stdDeviation="0.9"/></filter><rect x="-3.8" y="0.5" width="57.7" height="4.5" fill="#ff8080" filter="url(#bc1)"/><rect x="161.6" y="0.5" width="119.3" height="4.5" fill="#ff9494" filter="url(#bc1)"/><path d="M17.9,8.2 19.6,8.6 21.5,8.7 23.9,8.9 26.9,9.3 30.0,9.7 32.3,10.1 33.9,10.3 35.0,9.8 36.2,9.9 37.7,9.5 38.9,9.4 40.4,9.1 41.5,9.8 42.6,9.2 43.9,9.8 45.4,9.8 47.3,10.1 49.2,10.3 50.0,11.3 52.3,11.3 54.6,11.1 55.8,11.0 56.9,10.4 60.0,11.3 62.7,11.3 64.2,10.9 65.0,10.0 65.8,8.9 65.6,7.8 67.3,8.5 68.1,9.4 69.6,10.4 70.8,11.1 71.9,11.8 72.9,10.4 73.1,9.5 74.6,9.7 75.4,11.1 75.9,12.2 73.9,12.6 72.1,12.5 71.2,13.5 69.6,14.7 68.5,15.7 66.9,16.7 65.8,18.2 65.7,19.3 66.9,20.5 68.9,20.9 70.8,21.5 72.7,22.4 75.0,22.5 75.3,24.0 75.9,24.9 76.9,25.9 77.7,25.6 77.9,24.8 77.7,23.3 79.3,21.9 79.6,20.4 78.9,19.3 78.9,18.0 78.6,16.9 79.3,16.1 81.2,16.3 83.1,16.9 84.6,17.3 85.0,18.7 85.8,19.5 86.9,19.6 87.7,19.2 88.5,17.9 89.1,18.7 90.0,20.2 91.2,21.1 92.3,22.1 93.9,23.2 94.6,24.0 95.6,24.8 95.0,25.7 93.5,26.0 91.9,26.9 90.0,26.8 88.1,26.8 86.9,27.5 85.8,28.0 84.8,28.6 83.7,29.9 85.0,28.9 86.6,27.9 88.5,27.8 89.0,28.1 88.6,28.8 88.3,29.3 88.6,29.7 88.9,30.3 90.0,30.8 91.2,30.9 92.3,30.4 92.3,30.9 91.4,31.3 89.6,31.8 87.9,32.8 87.6,31.9 88.9,31.2 88.1,31.3 86.9,31.6 85.8,32.1 84.6,32.6 84.0,33.6 84.6,34.1 84.6,34.4 83.9,34.6 82.7,34.8 81.6,35.4 81.5,36.1 80.9,36.9 80.7,37.1 80.3,37.8 80.0,38.5 80.3,39.2 80.4,40.0 79.6,40.6 78.9,40.8 78.1,41.4 77.5,41.9 76.7,42.6 76.0,43.4 75.9,44.5 76.2,45.3 76.6,46.2 76.9,47.4 76.9,48.4 76.6,49.0 76.0,48.9 75.6,48.1 74.9,46.9 74.8,46.1 74.3,45.1 73.7,44.7 72.9,45.0 71.9,44.4 70.8,44.2 69.8,44.5 69.9,45.3 69.1,45.5 68.1,45.2 66.9,45.0 65.8,45.2 65.0,45.9 64.0,46.5 63.6,47.4 63.6,48.4 63.3,50.0 63.2,51.4 63.6,52.7 64.2,54.0 65.0,54.7 65.8,55.2 66.9,55.0 67.9,54.8 68.7,54.1 68.9,52.9 69.6,52.4 71.2,52.2 71.6,52.7 71.3,54.0 70.9,55.1 70.6,55.8 70.6,56.9 71.2,57.3 72.3,57.2 73.5,57.3 74.4,58.0 74.3,59.3 74.2,61.1 74.6,62.4 75.4,63.2 76.6,63.2 77.3,62.9 78.1,63.0 78.9,63.6 79.4,64.1 79.9,63.0 80.3,62.1 80.9,61.5 81.9,61.3 82.9,60.7 83.6,61.6 84.5,61.0 84.8,60.5 85.3,61.1 86.0,61.9 87.3,61.9 88.5,62.3 89.4,61.8 90.8,61.8 90.9,62.4 91.6,63.3 92.2,63.7 93.1,64.6 93.9,65.2 94.6,65.9 96.2,65.9 97.1,66.2 98.1,66.8 98.9,67.5 99.3,68.6 99.6,69.7 100.0,70.4 99.6,71.2 100.8,71.4 101.2,72.1 102.0,71.9 103.1,72.1 104.3,73.5 105.4,73.5 106.6,73.8 107.7,73.7 108.9,74.5 109.9,75.5 111.0,75.8 111.5,77.0 111.7,77.9 111.5,79.2 111.0,79.9 110.2,80.8 109.5,81.9 108.9,82.7 108.5,84.1 108.5,85.8 108.0,87.2 107.9,88.6 107.3,89.6 107.0,90.7 106.2,91.5 105.0,91.6 104.1,91.9 103.1,92.5 102.0,93.2 101.2,94.1 101.1,95.6 100.8,96.5 99.9,97.9 99.3,98.8 98.3,99.8 97.3,101.1 96.3,102.1 95.4,102.1 94.6,101.7 93.6,101.5 94.3,102.5 94.6,103.3 94.8,104.0 94.2,105.0 93.1,105.5 91.6,105.7 90.6,105.7 90.8,107.1 90.0,107.6 88.9,107.3 88.5,108.4 89.3,108.8 88.5,109.7 88.3,111.0 86.9,111.7 86.6,112.4 87.7,113.2 86.6,114.6 85.8,115.6 85.3,116.8 85.9,117.5 85.7,118.4 86.2,119.0 87.3,119.7 86.6,120.3 85.4,120.3 83.9,119.7 82.7,118.8 81.6,117.7 80.8,116.3 80.4,114.6 80.4,113.2 81.2,112.4 81.6,111.0 81.9,110.0 81.6,108.8 81.9,107.5 81.9,106.2 81.9,104.4 82.5,103.1 83.1,101.7 83.5,100.4 83.5,99.1 83.6,97.8 83.6,96.4 84.0,95.1 84.3,93.8 84.3,92.0 84.6,90.3 84.5,88.5 84.4,87.4 83.6,86.8 82.7,86.1 81.6,85.2 80.4,84.3 79.8,83.2 79.4,82.1 78.9,81.4 78.3,80.1 77.7,78.8 77.1,77.6 76.3,76.7 76.0,75.7 76.2,74.8 76.7,74.3 77.1,73.5 76.3,73.2 76.3,72.1 76.9,71.0 77.1,70.4 77.9,69.8 78.1,69.0 78.9,68.2 79.0,67.3 78.9,65.9 78.6,64.9 78.1,63.9 77.3,63.4 76.6,63.9 76.8,64.7 76.2,64.4 75.6,64.1 74.7,64.0 74.2,63.5 73.5,62.9 72.9,62.5 72.5,61.9 72.6,61.3 71.9,60.7 71.2,59.8 70.4,59.6 69.4,59.3 68.3,59.0 67.5,58.3 66.6,57.4 65.8,56.9 65.0,57.3 64.2,57.4 63.2,57.1 61.9,56.5 60.8,56.0 59.6,55.3 58.5,54.6 57.5,53.7 57.3,52.9 57.5,52.0 57.1,51.2 56.3,50.2 55.4,49.2 54.5,48.4 54.2,47.6 53.4,46.7 52.6,46.0 52.1,45.2 51.6,44.3 50.8,43.6 50.2,43.1 50.3,44.0 51.2,45.2 51.7,46.1 52.3,47.1 52.7,48.0 53.2,49.3 53.7,50.0 54.2,50.7 53.9,51.0 53.5,50.5 52.6,49.6 52.2,48.7 51.6,47.8 50.6,47.2 50.4,46.5 49.6,45.2 48.9,43.8 48.4,42.5 48.2,41.8 47.4,41.2 46.6,40.8 45.7,40.7 45.5,39.9 44.7,38.9 44.2,38.1 43.9,37.5 43.2,36.3 42.9,35.6 43.0,34.6 42.7,33.4 43.0,31.9 43.1,30.4 42.9,29.7 42.6,28.5 43.9,28.7 44.2,29.4 44.0,28.0 43.5,27.4 42.3,26.8 41.2,26.2 40.2,25.5 39.8,24.4 38.7,23.2 38.2,22.8 37.3,22.2 36.5,21.3 35.8,20.4 34.2,19.5 33.2,19.7 32.3,19.1 30.9,18.5 29.6,18.2 28.1,18.2 26.5,17.8 25.0,17.5 24.2,18.2 23.1,18.7 21.7,18.9 21.9,17.8 22.9,17.1 21.2,17.9 20.4,18.8 19.9,19.7 18.5,20.6 17.3,21.3 15.8,21.9 14.6,22.4 13.5,22.8 11.7,23.2 12.7,22.5 14.0,21.8 15.4,21.3 16.5,20.4 17.3,19.7 16.9,19.4 15.8,19.4 14.2,19.4 13.7,18.5 12.5,18.2 11.4,17.7 11.1,16.7 11.5,15.9 12.2,15.4 13.9,15.1 14.6,14.4 13.9,14.1 12.3,14.2 10.6,14.1 10.3,13.6 9.2,13.3 10.4,12.7 11.9,12.4 12.5,11.9 11.2,11.2 10.2,10.9 11.5,10.3 13.1,9.6 15.0,9.0 16.9,8.6 17.9,8.2M104.7,18.4 103.5,17.8 101.6,17.3 100.4,16.0 99.6,14.9 98.9,14.2 98.1,13.3 97.3,12.2 97.7,11.1 99.3,10.4 97.3,9.8 96.9,9.4 98.5,8.9 96.6,8.5 95.8,7.6 95.4,6.3 94.3,5.4 92.3,4.2 90.0,3.9 87.3,4.1 85.4,3.6 83.5,2.8 82.3,1.9 84.3,1.4 86.9,0.5 90.0,-0.4 93.9,-1.2 100.0,-1.7 104.6,-2.1 111.6,-2.7 117.7,-2.4 122.3,-1.8 125.4,-1.1 128.9,-0.8 126.2,0.1 124.3,1.0 123.5,2.3 124.3,3.4 122.7,4.5 123.1,5.4 121.6,6.7 121.2,8.0 121.7,8.9 120.0,9.8 117.7,10.7 114.6,11.1 112.7,12.0 110.8,13.1 108.9,13.3 107.7,14.2 107.0,15.6 105.8,16.9 105.4,17.8 104.7,18.4M88.6,16.4 87.3,14.0 89.6,13.3 90.8,12.4 88.9,11.6 86.9,10.7 85.8,9.4 84.3,8.7 82.7,8.0 81.2,7.4 78.9,6.9 76.9,6.2 73.9,6.2 70.4,6.5 71.6,7.2 72.7,8.5 73.5,9.4 75.8,9.8 77.7,9.5 78.9,10.1 80.4,10.9 82.3,11.3 82.7,12.3 81.9,13.1 80.8,13.8 78.9,14.3 80.0,15.1 81.6,15.4 83.5,15.7 85.4,16.0 87.7,16.5 88.6,16.4M71.9,15.0 73.1,15.6 75.4,14.9 75.8,14.2 74.3,13.6 72.3,13.0 71.2,14.2 71.9,15.0M60.4,10.1 58.1,10.3 55.4,10.4 51.2,10.1 48.1,9.5 47.3,8.5 48.1,7.2 50.8,6.5 53.9,6.9 56.9,6.5 58.1,8.0 59.6,8.9 60.4,10.1M41.9,7.7 43.1,6.3 45.4,5.4 48.1,5.7 49.6,6.3 47.3,7.2 44.6,8.3 41.9,7.7M60.4,7.8 63.5,8.0 64.2,6.9 62.7,6.0 60.4,6.7 60.4,7.8M65.4,7.6 66.9,7.6 68.9,6.3 65.8,5.7 65.0,6.7 65.4,7.6M76.9,5.3 73.9,5.4 69.2,5.3 67.3,5.0 67.7,3.9 70.8,3.7 75.0,3.6 76.9,4.2 76.9,5.3M80.8,3.6 77.3,3.9 74.6,3.4 69.6,3.5 70.0,2.1 72.3,1.0 70.4,0.1 68.5,-0.4 73.1,-1.2 78.5,-2.0 84.6,-2.1 90.8,-1.7 88.9,-1.0 85.4,0.0 83.5,0.7 80.8,1.4 80.4,2.3 78.5,3.2 80.8,3.6M69.2,1.9 66.2,2.0 64.6,1.0 65.4,0.0 68.1,0.1 69.2,1.0 69.2,1.9M57.7,4.2 53.9,4.9 50.4,5.0 48.1,4.2 50.0,3.5 53.9,3.7 56.9,4.1 57.7,4.2M63.9,5.0 61.2,4.8 60.8,3.8 63.1,3.5 64.6,4.4 63.9,5.0M49.6,3.6 46.9,4.2 44.2,3.8 46.2,2.9 48.9,3.0 49.6,3.6M61.6,2.3 58.1,2.7 57.7,1.4 61.2,1.4 61.6,2.3M64.2,10.4 62.7,10.6 61.9,9.7 63.5,9.5 64.2,10.4M92.9,29.2 95.4,29.2 96.2,29.6 97.3,30.0 98.0,29.2 97.3,28.4 97.7,27.7 95.8,27.2 95.4,26.2 95.8,25.6 94.6,26.2 93.9,27.5 92.9,28.4 92.9,29.2M43.6,28.5 42.3,28.1 40.8,27.1 39.7,26.3 40.4,26.3 41.9,26.8 43.1,27.7 43.6,28.5M73.1,51.9 73.9,51.2 75.4,50.7 76.9,50.8 78.9,52.0 80.3,52.6 81.4,53.4 80.3,53.7 78.7,53.7 79.1,53.0 78.1,52.2 76.2,51.8 74.8,51.3 73.9,51.9 73.1,51.9M81.3,55.0 82.5,53.7 84.6,53.7 85.9,54.8 84.6,55.2 83.5,55.7 82.7,55.2 81.3,55.0M78.3,55.0 79.8,55.2 79.4,55.4 78.6,55.4 78.3,55.0M86.8,54.9 88.0,55.0 88.0,55.3 86.8,55.3 86.8,54.9M120.0,13.3 121.6,12.6 124.3,12.8 127.0,12.6 128.1,13.6 127.0,14.4 124.7,15.2 122.3,14.9 121.2,14.7 120.0,13.3M20.4,20.9 21.4,20.3 21.1,20.0 19.9,20.3 20.4,20.9M36.2,24.4 37.3,25.1 36.9,23.5 36.2,23.5 36.2,24.4M134.2,39.4 133.9,39.1 133.6,38.7 133.1,38.4 132.4,38.5 131.7,38.5 131.7,37.3 131.2,37.0 131.6,36.2 131.8,35.4 131.7,34.2 131.3,33.2 132.2,32.7 133.1,32.7 134.7,32.8 135.8,32.9 137.1,32.9 137.5,31.9 137.6,30.6 136.8,29.5 135.8,29.1 135.0,28.9 134.9,28.5 135.8,28.1 137.0,28.3 137.3,28.2 137.0,27.3 137.7,27.6 138.7,27.5 139.6,27.0 139.7,26.3 140.4,26.1 141.3,25.8 141.8,25.3 142.2,24.5 142.8,24.0 143.9,23.9 144.7,23.9 145.2,23.6 145.1,22.6 144.7,22.1 144.8,21.0 145.8,20.8 146.7,20.2 146.5,20.9 146.4,21.4 146.9,21.5 146.2,22.2 146.0,22.7 146.2,23.0 146.9,23.2 147.0,23.5 147.7,23.3 148.5,23.1 149.4,23.6 151.2,23.1 152.6,22.8 152.8,23.2 153.6,23.1 154.8,22.5 154.7,21.7 154.7,21.0 155.1,20.5 155.8,20.2 156.4,20.9 157.0,20.8 157.3,19.7 156.6,19.4 156.6,18.9 157.6,18.7 158.9,18.7 160.0,18.7 161.7,18.3 160.8,18.0 159.3,17.8 157.7,17.9 156.1,18.3 155.4,17.9 155.0,17.3 155.0,16.4 154.7,15.7 155.6,15.1 156.6,14.6 157.4,13.9 158.0,13.5 157.4,13.1 156.6,13.1 155.7,13.1 155.0,13.4 154.9,14.0 154.4,14.7 153.4,15.0 152.7,15.6 152.0,16.1 151.8,16.9 151.7,17.6 152.5,17.9 153.0,18.4 152.7,18.8 151.8,19.4 151.3,20.1 151.1,21.2 150.5,21.7 149.5,22.1 148.5,22.3 148.4,21.8 148.2,21.4 148.0,21.0 147.7,20.3 147.2,19.4 146.7,18.4 146.3,19.0 145.8,19.2 144.8,19.8 143.9,20.0 143.1,19.7 142.8,19.3 142.5,18.7 142.3,17.8 142.3,17.1 142.4,16.4 143.1,16.0 143.9,15.6 145.0,15.1 145.8,14.9 146.6,14.2 147.3,13.8 148.1,12.9 148.9,12.0 149.7,11.3 150.3,10.8 151.2,10.4 152.0,10.0 152.7,9.5 153.9,9.4 155.0,9.1 156.2,8.8 157.4,8.5 158.4,8.4 159.3,8.5 160.4,8.6 161.6,9.0 162.4,9.1 163.9,9.9 165.4,10.1 167.0,10.3 168.1,10.8 169.3,11.3 170.1,11.8 170.0,12.5 168.5,12.8 167.0,12.7 165.4,12.4 164.3,12.3 165.0,13.1 165.3,14.1 166.0,14.5 167.0,14.8 167.6,14.3 168.9,14.1 169.7,14.1 169.3,13.3 170.4,12.8 172.0,12.6 172.4,12.5 172.3,11.0 173.9,10.8 175.0,11.3 176.2,11.2 177.4,10.9 179.3,10.4 180.4,10.9 181.4,10.7 182.7,10.6 183.9,10.3 185.1,9.5 185.8,9.6 187.7,10.1 189.3,10.1 190.1,10.4 191.2,11.0 191.6,10.4 190.8,9.5 189.9,8.9 190.2,8.0 191.2,7.1 192.0,6.6 193.5,6.8 194.5,7.3 194.3,8.2 193.9,8.9 194.4,9.8 195.1,10.7 194.8,12.0 194.3,12.5 195.8,11.6 196.2,10.9 195.8,10.3 195.3,9.4 195.4,8.5 196.6,7.3 197.7,7.2 198.9,7.3 200.4,7.6 200.4,6.3 202.4,6.2 204.3,6.0 205.4,5.8 205.1,5.0 207.0,4.6 209.3,4.2 211.6,4.0 213.9,3.8 215.8,3.6 217.0,3.0 218.8,2.6 220.1,2.8 221.2,3.4 223.1,3.4 224.7,3.7 225.8,4.2 225.8,5.0 223.9,5.8 222.4,6.0 224.3,6.1 225.8,6.3 227.4,6.1 229.7,6.3 231.6,6.8 233.5,6.6 235.4,6.3 236.6,6.4 237.8,7.2 238.1,8.3 239.7,8.7 240.8,8.0 242.4,8.0 243.9,8.1 245.5,8.0 246.1,7.2 247.0,7.0 248.9,7.1 250.8,7.2 252.8,7.4 253.9,8.0 255.5,8.6 257.4,8.6 259.7,8.5 261.2,8.8 262.0,9.5 263.5,9.7 265.5,9.6 267.4,9.5 268.9,10.4 269.7,9.5 271.2,9.5 273.2,9.5 275.5,9.9 277.0,10.3M277.0,13.8 275.8,14.1 275.1,14.4 276.1,15.2 276.5,16.2 274.7,16.0 272.8,16.6 271.6,17.1 270.1,17.8 268.9,17.9 267.0,18.0 265.5,18.3 264.3,18.4 263.8,19.1 263.1,20.0 264.2,21.6 263.1,21.9 262.8,22.8 261.6,23.5 260.5,24.5 259.7,25.5 259.1,26.3 258.7,25.7 258.3,24.0 258.2,22.2 258.8,20.9 259.7,20.2 260.8,19.5 262.0,18.7 262.8,17.9 263.9,16.9 261.6,16.6 259.3,16.8 257.8,18.2 257.0,18.8 255.1,18.9 253.1,18.6 250.8,18.8 248.9,18.8 247.4,19.4 246.6,20.2 245.1,21.3 243.9,22.6 244.3,23.3 245.8,23.3 247.1,24.5 247.1,25.1 246.7,26.2 246.5,27.8 245.8,29.0 244.9,30.1 243.5,31.5 242.5,32.5 240.8,33.4 239.9,33.1 239.1,33.9 238.3,35.2 237.4,35.9 236.7,36.3 237.3,37.1 237.9,38.1 238.1,39.4 238.0,40.0 237.4,40.3 236.6,40.6 235.8,40.8 235.8,40.1 235.9,39.4 235.8,38.5 235.9,37.9 235.1,37.8 234.5,37.2 234.9,36.4 234.2,36.0 232.8,36.3 232.1,36.9 231.8,36.3 232.5,35.4 231.6,35.2 230.8,35.7 230.3,36.4 229.3,36.7 229.0,37.1 229.7,37.9 230.1,38.4 230.8,38.1 231.4,37.8 232.8,38.2 232.0,38.7 231.1,39.3 230.3,40.3 231.1,41.0 231.5,42.4 232.3,43.2 231.8,44.1 232.3,44.7 232.0,45.6 231.4,46.8 230.6,47.8 230.2,48.9 229.3,49.6 228.4,50.6 227.0,51.2 225.9,51.6 224.7,52.1 223.5,52.5 223.3,53.3 222.9,52.7 222.0,52.2 221.1,52.6 220.4,53.3 220.0,54.3 220.5,55.3 221.2,56.6 222.0,57.5 222.5,59.3 222.5,61.0 221.8,61.6 220.7,62.1 219.3,63.6 219.1,62.6 218.9,62.0 218.1,61.9 217.7,61.0 217.2,60.5 216.2,60.0 216.1,59.4 215.5,59.4 215.4,60.5 214.8,62.1 215.4,63.1 215.8,64.6 216.2,65.2 217.1,65.8 217.8,66.6 218.1,67.7 218.1,68.8 218.7,69.9 218.1,70.1 217.4,69.6 216.4,68.7 215.9,67.7 215.7,66.6 215.6,65.5 215.1,65.1 214.2,64.2 214.1,63.1 214.4,62.0 214.3,60.4 213.9,58.4 213.7,56.9 213.1,56.4 212.5,56.4 211.8,57.3 211.1,56.9 211.1,55.7 210.7,54.2 210.0,53.2 209.4,52.2 209.1,51.4 208.2,51.5 207.4,51.9 206.7,52.0 205.7,52.2 205.3,53.1 204.1,54.0 203.3,55.1 201.9,56.2 201.0,57.1 200.2,57.8 200.2,59.2 199.9,60.8 199.9,62.1 199.3,63.0 198.7,63.4 198.1,64.1 197.4,63.4 197.1,62.4 196.7,61.1 196.1,59.8 195.7,58.4 195.1,57.2 194.7,55.8 194.5,54.5 194.4,53.1 194.4,52.2 194.1,51.6 193.9,52.5 193.0,53.0 192.0,52.2 191.6,51.4 191.4,51.4 191.1,50.5 190.4,49.9 189.9,49.2 189.7,48.8 188.1,49.0 186.2,49.1 185.1,48.9 183.7,48.6 182.7,48.4 182.4,47.6 181.8,47.3 180.8,47.6 179.7,47.6 178.9,47.0 178.0,46.3 177.4,45.4 177.0,44.6 176.1,44.4 175.6,44.8 175.7,46.1 176.2,46.9 176.7,47.6 177.0,48.1 177.6,49.3 178.0,48.2 178.2,49.2 178.2,49.9 179.3,49.9 180.4,49.7 181.2,48.8 181.7,48.1 181.9,48.3 181.8,49.2 182.2,49.8 182.9,50.2 183.7,50.5 184.5,51.4 184.1,52.2 183.6,53.1 183.0,53.6 182.9,54.5 182.2,54.8 181.6,55.4 181.0,56.0 180.1,56.3 178.7,57.3 177.4,58.0 176.2,58.4 175.4,58.9 173.9,59.4 173.1,59.8 172.0,60.0 171.8,59.3 171.4,58.0 171.3,56.7 170.7,55.5 169.9,54.0 169.0,52.9 168.6,51.8 168.1,50.5 167.4,49.6 166.6,48.4 165.9,47.2 165.2,46.3 165.4,45.2 165.1,45.8 164.9,46.5 164.4,46.0 163.8,45.1 163.6,44.8 163.7,45.4 164.3,46.9 164.8,48.1 165.4,49.6 165.9,50.5 166.6,51.8 167.1,52.7 167.2,54.0 167.9,55.3 168.5,56.7 169.0,57.6 169.8,58.3 170.6,59.3 171.4,60.1 171.8,60.7 171.7,61.1 172.4,62.0 173.1,62.0 174.3,61.7 175.4,61.3 176.6,61.2 177.9,60.7 177.8,62.0 177.7,62.9 177.4,63.7 176.8,65.1 176.2,66.2 175.3,67.5 174.3,68.7 173.3,69.6 172.4,70.4 171.6,71.2 170.8,72.1 170.0,73.0 169.4,73.7 168.9,75.0 168.6,75.9 168.4,77.0 168.7,78.1 169.0,79.6 169.5,80.5 169.7,82.3 169.7,84.1 169.3,85.6 168.0,86.6 167.0,87.2 166.0,88.3 165.3,89.1 165.7,90.3 165.8,91.1 165.8,92.5 165.2,93.3 164.3,93.7 163.7,94.1 163.8,94.9 163.6,96.3 163.0,97.1 162.2,98.2 161.4,99.1 160.3,100.1 159.3,100.9 158.3,101.3 157.4,101.4 156.2,101.3 155.0,101.7 153.9,102.0 153.1,101.7 152.7,101.5 152.7,100.9 152.4,100.0 152.0,98.5 151.4,97.2 151.1,96.5 150.3,95.3 150.0,93.8 149.7,91.6 149.3,90.5 148.7,89.1 147.9,87.6 147.5,86.5 147.6,85.2 147.9,83.8 148.3,82.7 149.0,81.9 149.0,80.7 148.6,79.5 148.3,78.3 147.9,76.6 147.7,75.7 147.0,74.7 146.2,73.6 145.6,72.3 145.7,71.0 145.9,69.9 146.0,69.0 146.0,68.1 145.4,67.7 145.0,67.2 144.0,67.4 143.1,67.4 142.6,66.7 142.0,65.8 141.2,65.6 140.0,65.7 139.4,65.9 138.5,66.3 137.3,66.8 136.9,67.1 136.0,66.7 135.0,66.7 133.9,67.0 132.7,67.4 132.0,67.1 131.0,66.4 130.2,65.7 129.4,64.8 128.6,64.3 128.3,63.3 127.7,62.5 127.2,61.7 126.6,61.1 125.9,60.3 125.6,59.3 125.3,58.4 125.0,58.2 125.6,57.3 125.9,56.2 126.1,54.9 125.9,53.9 125.4,52.8 125.5,51.8 126.0,50.5 126.6,49.6 127.2,48.4 127.7,47.7 128.6,46.6 129.7,46.3 130.7,45.6 131.0,44.7 131.0,43.8 131.3,42.7 132.0,41.8 133.1,41.1 133.6,40.3 134.0,39.6 134.4,39.5 135.0,40.1 136.2,40.0 137.0,40.2 137.7,39.7 138.5,39.5 139.7,39.0 140.8,38.7 142.3,38.7 143.5,38.5 144.7,38.6 145.8,38.3 146.3,38.4 147.0,38.5 146.6,39.1 146.7,39.7 147.0,40.1 146.6,40.8 146.3,41.3 146.8,41.6 147.3,42.0 148.1,42.3 148.9,42.3 150.2,42.7 150.4,43.4 151.2,43.7 152.4,44.0 153.1,44.5 153.7,44.2 154.0,43.5 153.9,42.8 154.7,42.3 155.8,42.3 156.4,42.7 157.4,43.0 157.9,43.3 158.9,43.4 160.0,43.8 161.0,43.9 162.0,43.4 162.7,43.3 163.4,43.7 164.3,43.8 164.9,43.5 165.2,42.8 165.4,42.1 165.8,41.2 166.1,40.3 166.0,39.6 166.4,38.9 165.9,38.9 165.1,38.7 164.5,39.2 163.5,39.3 162.7,38.8 162.0,39.0 161.2,39.2 160.3,38.8 159.5,38.5 159.4,37.8 158.8,37.4 159.1,37.0 159.0,36.3 158.7,35.9 159.0,35.5 159.7,35.5 160.8,35.5 161.5,35.3 160.9,34.9 162.0,34.8 162.7,34.7 163.9,34.2 165.0,34.1 165.6,34.1 166.2,34.5 167.4,34.9 168.5,35.0 169.7,35.0 170.4,34.6 170.5,33.7 169.3,32.9 168.1,32.0 167.2,31.5 167.4,31.2 168.1,30.1 168.7,29.5 167.7,29.6 166.6,30.1 165.4,30.9 165.7,31.3 166.6,31.1 165.6,31.6 164.7,32.0 164.2,31.8 163.9,31.1 163.5,30.9 164.4,30.6 163.1,30.2 162.4,30.1 162.0,30.4 161.4,31.2 160.7,31.8 160.5,32.8 160.0,33.4 160.0,34.1 160.7,34.7 160.4,35.0 159.7,35.0 158.8,35.4 158.7,35.7 158.5,35.2 157.7,35.1 157.0,35.2 155.9,35.4 155.9,36.3 156.2,36.9 156.9,37.5 156.2,37.8 156.4,38.5 155.9,39.0 155.4,38.6 155.0,38.5 154.7,37.8 155.0,37.4 154.5,37.0 154.0,36.2 153.5,35.4 153.4,34.3 152.7,33.7 151.9,33.1 150.8,32.7 150.2,32.1 149.5,31.3 149.0,30.9 148.6,30.9 148.0,31.2 148.0,31.9 149.0,32.8 149.5,33.8 150.5,34.2 151.0,34.3 152.0,35.2 152.7,35.8 152.2,35.6 151.7,35.4 151.2,36.1 151.7,36.8 151.2,37.3 150.6,37.7 150.7,37.0 150.8,36.3 150.4,35.8 150.0,35.6 149.3,35.1 148.5,34.7 147.7,34.2 147.0,33.6 146.6,33.1 146.3,32.4 145.6,32.1 144.8,32.4 144.3,32.5 143.5,33.1 142.3,32.9 141.6,32.8 141.0,33.2 140.9,33.9 141.0,34.3 140.0,34.8 139.1,35.2 138.3,36.3 138.7,37.0 138.1,37.5 137.9,38.0 137.1,38.5 136.8,38.8 135.8,38.8 135.0,38.9 134.7,39.1 134.2,39.4M0.0,10.3 2.3,11.1 4.2,11.9 6.2,12.1 7.9,12.8 6.9,13.3 5.8,14.2 4.6,14.1 3.5,13.8 1.9,13.4 1.2,13.3 0.0,13.8M174.7,31.9 175.0,30.9 176.2,30.1 177.7,29.7 179.3,29.9 179.4,31.2 178.0,31.5 177.7,32.0 179.0,33.5 179.1,34.6 180.1,34.6 179.5,36.1 179.9,37.7 180.0,38.5 178.5,38.7 177.2,38.3 176.2,38.0 176.1,37.0 176.6,35.7 176.0,34.6 175.1,33.4 174.8,32.5 174.7,31.9M148.0,37.8 148.7,37.5 150.5,37.4 150.1,38.3 150.0,38.8 149.5,38.5 148.3,38.0 148.0,37.8M145.0,36.8 144.8,35.1 145.6,34.8 146.0,35.1 145.9,36.6 145.4,36.8 145.0,36.8M145.1,34.7 145.1,33.8 145.7,33.2 145.8,33.9 145.6,34.7 145.1,34.7M156.6,40.0 157.4,39.9 158.7,40.0 158.4,40.3 157.0,40.3 156.6,40.0M163.4,40.3 163.9,40.0 165.1,39.7 164.7,40.3 163.6,40.6 163.4,40.3M134.1,27.0 135.3,26.7 136.2,26.4 137.3,26.4 138.7,26.3 139.6,26.0 139.3,25.5 139.8,24.8 138.7,24.4 138.6,24.0 138.1,23.2 137.5,22.8 137.3,22.1 136.6,21.7 136.5,21.5 137.1,20.4 136.0,20.2 135.4,20.3 136.1,19.4 134.7,19.4 134.1,20.2 134.2,21.3 133.7,21.5 134.3,22.0 134.8,22.8 135.9,22.7 136.0,23.4 136.3,23.8 136.1,24.1 135.0,24.0 134.9,24.6 135.4,25.0 134.6,25.5 135.4,25.6 136.0,25.8 135.3,26.0 134.3,26.8 134.1,27.0M133.9,25.1 133.6,25.1 132.7,25.3 131.2,25.6 130.8,25.2 131.2,24.4 130.7,24.0 131.0,23.3 132.0,23.2 132.1,22.5 133.1,22.4 134.0,22.8 134.3,23.2 133.8,23.7 133.9,24.5 133.9,25.1M146.8,1.0 147.7,2.0 148.9,2.6 150.4,3.4 151.6,3.5 153.1,2.7 155.4,2.0 159.3,1.6 159.3,0.5 155.4,0.1 152.4,0.4 149.3,0.6 146.8,1.0M174.7,0.4 178.5,0.5 183.1,0.3 187.0,-0.4 183.1,-1.0 178.5,-0.6 174.7,0.4M178.9,8.2 179.3,7.2 180.4,6.3 181.6,5.4 183.1,4.6 185.4,3.9 188.5,3.3 191.2,3.2 190.8,3.7 187.7,4.4 185.4,5.1 183.5,6.2 182.4,7.1 181.2,8.3 182.7,8.8 180.8,8.8 179.3,8.7 178.9,8.2M211.6,1.0 213.9,1.9 217.8,1.4 219.7,1.9 220.8,1.0 218.5,0.1 215.4,-0.4 212.4,-0.2 211.6,1.0M243.9,4.5 246.2,5.6 248.5,6.5 250.8,5.4 253.9,4.8 252.4,4.2 247.8,4.1 244.7,4.1 243.9,4.5M247.8,30.6 248.9,30.2 248.8,27.7 249.7,27.9 248.7,25.7 248.7,24.1 248.2,23.2 247.9,24.0 247.5,25.3 247.8,27.1 247.7,28.4 247.8,30.6M246.2,34.6 247.1,34.3 247.5,33.6 248.7,34.1 249.7,33.3 250.5,33.0 250.3,32.1 249.5,32.3 248.1,31.1 247.5,31.3 247.3,32.8 246.5,33.1 246.1,33.9 246.2,34.6M239.2,41.2 240.5,40.0 242.0,39.8 243.1,39.5 243.8,38.3 244.1,38.7 245.1,38.1 245.9,37.1 246.2,35.9 246.5,34.8 247.3,34.7 247.4,35.9 247.8,36.3 247.0,37.4 246.9,38.5 246.8,39.4 246.2,40.3 245.5,40.6 244.7,40.7 243.8,40.9 243.0,41.6 242.5,40.8 241.2,40.8 240.1,41.3 239.2,41.2M238.4,41.6 239.2,41.3 240.0,41.8 239.6,43.5 239.0,43.8 238.7,43.4 238.4,42.3 238.4,41.6M240.5,42.1 240.8,42.3 242.1,41.4 242.0,41.0 240.8,41.1 240.5,42.1M230.9,50.9 231.5,51.8 232.0,50.9 232.4,49.2 231.6,49.1 230.9,50.9M222.1,54.3 222.8,55.2 223.5,54.9 223.9,53.8 223.1,53.5 222.1,53.7 222.1,54.3M231.3,54.9 232.5,54.9 232.7,56.2 232.1,57.3 232.1,58.7 233.9,59.3 234.0,60.1 233.3,59.8 232.4,59.1 231.3,58.6 230.8,56.8 231.3,54.9M232.4,65.1 233.5,64.4 234.1,64.0 235.1,62.7 235.8,64.2 235.6,65.7 234.9,66.3 233.9,65.6 232.4,65.1M234.1,60.2 235.2,61.3 234.7,62.4 234.1,61.5 234.1,60.2M232.4,60.8 233.1,61.5 233.3,62.9 232.7,62.6 232.4,61.7 232.4,60.8M228.7,63.8 230.4,62.0 230.7,61.3 229.9,62.1 228.7,63.8M222.4,69.9 222.8,69.5 223.9,69.8 225.4,68.5 226.4,67.3 227.4,66.6 228.4,65.1 229.1,65.9 230.2,66.5 229.3,67.4 229.1,68.6 230.0,70.4 229.1,70.8 228.9,72.0 228.1,73.5 227.8,74.6 226.7,74.4 225.4,74.1 224.4,73.9 223.3,73.8 223.1,72.6 222.4,71.2 222.4,69.9M211.8,66.3 213.5,66.7 214.4,68.0 215.8,69.3 216.6,69.7 218.4,71.2 218.9,72.6 220.1,73.9 219.9,76.4 218.9,76.5 217.2,74.8 216.1,73.0 215.4,71.7 214.4,69.7 213.5,68.7 212.4,67.3 211.8,66.3M219.4,77.3 220.4,76.6 221.8,76.8 223.4,77.3 225.1,77.3 226.5,78.1 226.5,78.9 225.1,78.7 223.1,78.4 221.6,78.1 220.4,77.8 219.4,77.3M233.5,80.4 234.7,79.4 236.4,78.7 235.4,79.4 234.2,80.2 233.5,80.4M228.4,79.2 230.1,78.6 233.0,78.5 233.1,78.9 230.4,79.0 228.4,79.2M230.4,76.1 231.1,76.1 231.1,73.7 231.8,73.5 231.8,75.4 233.0,75.7 232.4,74.1 231.9,72.9 233.4,72.0 232.0,72.0 231.2,70.9 231.7,70.4 233.1,70.5 234.3,70.4 234.8,69.8 234.1,70.9 232.8,70.8 231.4,70.8 230.8,71.2 230.5,72.0 229.9,73.6 230.4,74.3 230.4,76.1M236.6,69.9 237.4,69.7 237.0,70.8 237.6,71.7 236.9,71.5 236.6,69.9M239.3,72.4 240.5,71.6 241.7,72.0 242.4,74.2 244.3,72.6 246.2,73.4 248.1,74.1 249.7,74.6 250.7,75.9 252.0,76.6 252.4,78.3 254.1,80.4 252.4,80.3 251.2,78.8 249.3,78.1 248.8,79.2 247.0,79.3 245.8,78.4 244.7,78.7 244.4,77.8 245.2,77.3 243.9,75.7 242.0,74.8 240.7,74.8 240.0,73.7 240.8,73.3 240.1,73.0 239.3,72.4M253.9,76.1 255.1,75.5 255.7,75.0 255.1,76.6 253.9,76.1M225.8,90.7 226.3,90.5 228.1,89.5 229.9,89.2 231.6,88.5 232.6,86.7 232.8,85.8 233.6,85.6 234.3,84.7 235.4,83.8 236.4,83.5 237.0,84.5 238.1,84.4 238.5,82.7 239.3,82.0 240.5,81.9 240.5,81.4 241.6,81.9 243.1,81.9 243.8,82.1 243.1,83.0 242.8,84.2 243.9,85.2 245.5,86.5 246.6,86.7 247.4,85.0 247.5,82.7 248.1,80.7 248.9,82.3 249.0,83.8 250.3,84.5 250.4,85.8 251.1,88.0 252.9,89.3 253.7,91.1 254.5,91.2 254.9,92.3 256.3,94.1 256.7,96.5 256.2,98.7 255.1,100.4 254.5,102.0 253.9,104.4 252.4,104.7 251.1,105.8 249.9,105.1 248.9,105.5 247.4,105.2 246.2,104.6 245.9,103.9 245.1,102.7 244.7,101.7 244.5,100.2 243.1,102.0 242.8,101.7 242.4,100.4 241.6,100.0 240.5,99.5 239.3,99.1 237.8,99.3 236.2,99.8 234.7,100.4 233.5,101.2 231.6,101.1 230.4,101.3 229.3,102.2 227.8,102.2 227.0,101.6 227.4,100.7 227.5,99.5 227.0,97.8 226.9,96.9 226.2,94.7 225.8,93.8 226.1,92.5 225.8,90.7M249.8,107.2 251.2,107.6 252.6,107.4 252.6,108.6 252.0,109.4 250.8,109.8 250.2,108.6 249.8,107.2M271.4,101.7 272.8,102.9 273.5,104.0 273.9,104.5 275.8,104.6 275.4,105.9 274.7,106.0 273.9,107.7 273.3,108.0 272.8,107.7 273.2,106.6 272.4,106.2 272.8,105.5 272.8,104.0 271.6,102.5 271.4,101.7M271.4,107.1 272.5,107.9 272.2,108.8 271.5,109.8 270.2,110.6 269.7,111.8 268.5,112.4 266.6,111.9 266.8,111.2 268.0,110.1 269.7,109.3 270.5,108.2 271.0,107.3 271.4,107.1M176.4,81.9 177.4,85.0 176.8,86.3 176.0,88.9 175.0,92.9 174.7,93.4 173.3,93.8 172.4,93.2 172.0,91.8 171.8,90.5 172.7,88.9 172.4,86.7 172.7,85.6 174.3,85.1 175.3,84.1 176.0,82.7 176.4,81.9M200.0,65.5 199.9,64.2 200.2,62.6 201.0,63.7 201.5,65.1 201.0,65.8 200.2,65.9 200.0,65.5M91.3,116.6 92.7,116.6 94.0,116.9 93.5,117.4 91.9,117.4 91.3,116.6M67.6,30.0 68.9,30.1 70.5,29.3 71.9,30.1 73.4,30.1 73.3,29.3 71.9,28.2 70.4,28.1 69.6,28.8 67.6,30.0M70.9,34.4 71.7,34.3 72.2,33.2 72.0,31.9 72.7,31.0 73.3,30.7 71.9,30.7 71.2,31.2 71.1,31.9 70.9,33.2 70.9,34.4M73.4,30.6 74.3,31.2 75.0,33.2 75.6,33.0 75.6,31.9 76.6,31.7 76.9,30.7 75.8,30.5 73.4,30.6M74.3,34.4 75.8,34.6 77.7,33.6 77.3,33.3 75.8,33.5 74.6,34.0 74.3,34.4M77.1,33.0 78.5,33.0 79.9,32.8 79.7,32.3 78.9,32.4 77.5,32.6 77.1,33.0M63.9,26.6 64.4,26.2 63.5,24.8 62.5,23.7 63.2,23.7 64.0,24.8 63.9,26.6M48.5,17.3 50.4,16.9 52.3,16.4 54.6,15.7 53.1,16.0 50.8,16.0 49.2,16.6 48.5,17.3M42.3,13.8 43.9,12.9 46.2,12.0 47.7,12.5 45.8,13.3 44.6,14.0 42.3,13.8M52.7,19.5 54.6,18.9 56.6,18.8 54.6,19.3 52.7,19.5M59.6,21.3 60.0,20.0 60.4,20.4 59.6,21.3M61.9,25.7 62.7,25.3 61.7,24.2 61.2,24.6 61.9,25.7M72.6,61.4 73.1,60.8 73.3,61.1 72.7,61.6 72.6,61.4M84.8,84.7 85.4,85.2 85.6,85.7 85.3,85.4 84.8,84.7M162.9,71.7 163.5,71.0 164.7,71.2 165.0,71.7 164.3,73.5 163.1,73.5 162.8,72.6 162.9,71.7M161.0,74.2 161.2,76.1 162.0,77.9 162.5,78.9 162.1,78.3 161.3,76.8 160.8,75.2 161.0,74.2M164.7,79.6 165.0,81.0 165.3,82.7 165.7,83.9 165.1,83.2 164.9,81.9 164.7,79.6M218.4,25.6 219.7,25.4 221.2,24.4 222.4,23.1 223.0,21.9 222.2,22.6 220.4,24.2 218.9,25.1 218.4,25.6M195.1,30.1 196.6,30.1 198.1,30.3 199.4,30.1 198.5,29.9 196.6,29.8 195.4,29.8 195.1,30.1M183.4,31.5 183.9,30.6 185.4,30.1 186.1,31.5 184.7,32.5 183.5,32.4 183.4,31.5M161.6,17.9 162.7,18.2 163.7,17.5 163.1,16.7 162.0,17.1 161.6,17.9M165.0,17.3 166.0,17.1 166.4,16.2 165.4,15.7 165.0,16.4 165.0,17.3M148.1,19.3 149.1,19.4 149.3,18.8 148.5,18.9 148.1,19.3M78.6,50.0 78.9,48.7 79.1,49.8 78.6,50.0M78.1,47.7 79.3,47.7 78.6,47.5 78.1,47.7M18.5,54.5 19.2,54.0 18.6,53.4 18.5,54.5M16.8,52.4 17.2,52.2 17.0,52.5 16.8,52.4M68.1,71.5 68.6,71.3 68.9,72.0 68.2,72.1 68.1,71.5M264.7,89.1 265.8,89.8 267.0,91.0 266.2,90.7 264.7,89.1M191.6,114.6 192.7,114.7 192.4,115.2 191.6,114.6M109.3,119.0 110.8,119.2 110.4,119.5 109.3,119.0M274.9,86.7 275.9,86.6 275.8,87.3 274.9,86.7M258.9,77.4 260.8,78.6 262.0,79.6 261.2,79.4 259.3,78.0 258.9,77.4M116.6,37.2 117.7,37.0 117.0,37.3 116.6,37.2M125.8,46.2 126.6,46.5 128.1,45.6 125.8,46.2M181.1,89.8 181.4,90.1 181.1,90.2 181.1,89.8M179.5,60.1 180.4,60.1 180.1,60.4 179.5,60.1M7.7,24.7 9.2,24.1 10.8,23.7 8.8,24.4 7.7,24.7M1.5,25.5 3.8,25.3 6.2,25.0 3.5,25.5 1.5,25.5M271.6,24.6 273.2,24.9 275.1,25.4 276.6,25.8 274.7,25.3 272.4,24.7 271.6,24.6M250.8,32.5 252.4,31.5 253.9,30.6 255.5,29.3 257.0,28.1 258.5,26.9 257.8,27.5 255.8,29.3 253.9,30.8 252.0,31.9 250.8,32.5M275.9,8.3 276.9,8.0 276.9,8.6 275.9,8.3M76.9,15.1 78.5,15.3 79.3,14.9 77.7,14.7 76.9,15.1M75.0,15.8 76.6,16.3 76.9,16.0 75.4,15.6 75.0,15.8M8.8,15.6 7.3,15.3 8.1,15.0 8.8,15.6M5.4,17.8 6.0,17.9 5.8,17.6 5.4,17.8M0.0,140.9 7.7,141.2 13.1,141.4 16.9,140.5 19.2,140.0 23.1,139.6 26.9,138.7 30.8,138.3 34.6,137.8 38.5,137.6 42.3,137.1 46.2,137.4 50.0,137.5 53.9,137.8 57.7,138.1 60.0,138.3 61.6,136.9 65.4,136.5 69.2,136.3 73.1,136.8 76.9,136.7 80.0,136.3 83.1,134.7 84.6,133.4 86.6,132.1 88.5,130.7 90.0,129.4 92.3,128.1 94.6,127.9 93.9,129.0 92.3,130.3 91.2,132.5 90.8,134.3 91.2,136.0 90.8,137.8 91.6,139.1 92.3,140.5 96.2,141.4 100.0,140.9 103.9,140.9 107.7,140.7 111.6,140.5 115.4,139.1 119.3,138.3 123.1,136.9 127.0,136.0 130.8,135.0 134.7,134.7 138.5,134.1 142.3,134.0 146.2,133.8 150.0,133.7 153.9,133.8 157.7,134.0 161.6,133.7 165.4,133.1 169.3,132.5 173.1,131.8 177.0,130.7 180.8,130.5 184.7,131.2 188.5,131.8 192.4,132.5 193.9,133.4 196.2,133.4 198.5,132.5 200.1,131.6 203.9,131.0 207.8,130.7 211.6,130.6 215.4,130.1 219.3,130.3 223.1,130.5 227.0,131.0 230.8,131.0 234.7,130.7 238.5,130.5 242.4,130.5 246.2,130.9 250.1,131.6 253.9,132.5 257.8,133.0 261.6,133.7 263.9,134.5 266.2,135.2 269.5,135.0 269.3,136.0 267.8,137.4 265.5,138.3 263.9,139.6 265.5,140.7 267.8,140.9 270.8,141.0 273.9,141.2 277.0,140.9" fill="none" stroke="#00ffff" stroke-opacity="0.55" stroke-width="1.3" stroke-linejoin="round"/><path d="M13.1,142.0 L0.5,142.0 L0.5,0.5 L276.5,0.5 L276.5,142.0 L262.0,142.0" fill="none" stroke="#8c8c8c" stroke-width="1"/><rect x="13.1" y="141.5" width="248.9" height="1" fill="#9fe3dc"/></svg>
<div class="cb" style="left:288px;top:226px;width:8.5px;height:141.5px"></div>
<div class="cbt" style="left:294.0px;top:296.25px"></div>
<div class="t title" style="font-size:18.05px;left:154.6px;top:218.9px;transform:translate(-50%,-0.8465em)">SSP1-2.6 – Specific Humidity</div>
<div class="t lab" style="left:148.2px;top:398px;transform:translate(-50%,-0.8465em)">(c)</div>
<div class="t tick" style="left:300.0px;top:226px;transform:translateY(-0.45em)">50</div>
<div class="t tick" style="left:300.0px;top:296.75px;transform:translateY(-0.45em)">0</div>
<div class="t tick" style="left:300.0px;top:367.5px;transform:translateY(-0.45em)">-50</div>
<div class="t ylab" style="left:339.7px;top:225.5px;">Percent Change [%]</div>
<svg class="map" style="left:355px;top:224px" width="277" height="141.5" viewBox="0 0 277 141.5"><rect x="0" y="0" width="277" height="141.5" fill="#f57070"/><defs><filter id="bld" x="-5%" y="-5%" width="110%" height="110%"><feGaussianBlur stdDeviation="0.6 2.8"/></filter><linearGradient id="gd0" gradientUnits="userSpaceOnUse" x1="0" y1="0" x2="277.0" y2="0"><stop offset="0.014" stop-color="#ff0808"/><stop offset="0.236" stop-color="#ff0808"/><stop offset="0.264" stop-color="#ff2626"/><stop offset="0.319" stop-color="#ff2626"/><stop offset="0.347" stop-color="#ff0808"/><stop offset="0.486" stop-color="#ff0808"/><stop offset="0.514" stop-color="#ff2626"/><stop offset="0.569" stop-color="#ff2626"/><stop offset="0.597" stop-color="#ff0d0d"/><stop offset="0.986" stop-color="#ff0d0d"/></linearGradient><linearGradient id="gd1" gradientUnits="userSpaceOnUse" x1="0" y1="0" x2="277.0" y2="0"><stop offset="0.014" stop-color="#ff2626"/><stop offset="0.042" stop-color="#ff2626"/><stop offset="0.069" stop-color="#ff1919"/><stop offset="0.125" stop-color="#ff1919"/><stop offset="0.153" stop-color="#ff0808"/><stop offset="0.236" stop-color="#ff0808"/><stop offset="0.264" stop-color="#ff2626"/><stop offset="0.319" stop-color="#ff2626"/><stop offset="0.347" stop-color="#ff6666"/><stop offset="0.375" stop-color="#ff3333"/><stop offset="0.403" stop-color="#ff6161"/><stop offset="0.431" stop-color="#ff6161"/><stop offset="0.458" stop-color="#ff6666"/><stop offset="0.486" stop-color="#ff6666"/><stop offset="0.514" stop-color="#ffa6a6"/><stop offset="0.542" stop-color="#ff5959"/><stop offset="0.569" stop-color="#ff5959"/><stop offset="0.597" stop-color="#ff4040"/><stop offset="0.653" stop-color="#ff4040"/><stop offset="0.681" stop-color="#ff3333"/><stop offset="0.736" stop-color="#ff3333"/><stop offset="0.764" stop-color="#ff2626"/><stop offset="0.819" stop-color="#ff2626"/><stop offset="0.847" stop-color="#ff4040"/><stop offset="0.903" stop-color="#ff4040"/><stop offset="0.931" stop-color="#ff2626"/><stop offset="0.986" stop-color="#ff2626"/></linearGradient><linearGradient id="gd2" gradientUnits="userSpaceOnUse" x1="0" y1="0" x2="277.0" y2="0"><stop offset="0.014" stop-color="#ff4747"/><stop offset="0.097" stop-color="#ff4747"/><stop offset="0.125" stop-color="#ff4d4d"/><stop offset="0.153" stop-color="#ff3333"/><stop offset="0.181" stop-color="#ff0d0d"/><stop offset="0.236" stop-color="#ff0d0d"/><stop offset="0.264" stop-color="#ff1919"/><stop offset="0.292" stop-color="#ff1919"/><stop offset="0.319" stop-color="#ff3333"/><stop offset="0.347" stop-color="#ffa6a6"/><stop offset="0.375" stop-color="#ffeded"/><stop offset="0.431" stop-color="#ffeded"/><stop offset="0.458" stop-color="#ffd9d9"/><stop offset="0.486" stop-color="#ffd9d9"/><stop offset="0.514" stop-color="#ff9999"/><stop offset="0.542" stop-color="#ff6666"/><stop offset="0.569" stop-color="#ff6666"/><stop offset="0.597" stop-color="#ff5959"/><stop offset="0.653" stop-color="#ff5959"/><stop offset="0.681" stop-color="#ff4040"/><stop offset="0.736" stop-color="#ff4040"/><stop offset="0.764" stop-color="#ff2626"/><stop offset="0.792" stop-color="#ff2626"/><stop offset="0.819" stop-color="#ff4040"/><stop offset="0.847" stop-color="#ff4040"/><stop offset="0.875" stop-color="#ff5959"/><stop offset="0.903" stop-color="#ff5959"/><stop offset="0.931" stop-color="#ff7373"/><stop offset="0.958" stop-color="#ff6666"/><stop offset="0.986" stop-color="#ff6666"/></linearGradient><linearGradient id="gd3" gradientUnits="userSpaceOnUse" x1="0" y1="0" x2="277.0" y2="0"><stop offset="0.014" stop-color="#ff7373"/><stop offset="0.125" stop-color="#ff7373"/><stop offset="0.153" stop-color="#ff6666"/><stop offset="0.181" stop-color="#ff4d4d"/><stop offset="0.208" stop-color="#ff2626"/><stop offset="0.292" stop-color="#ff2626"/><stop offset="0.319" stop-color="#ff4d4d"/><stop offset="0.347" stop-color="#ff8c8c"/><stop offset="0.375" stop-color="#ffb2b2"/><stop offset="0.403" stop-color="#fff2f2"/><stop offset="0.431" stop-color="#fff2f2"/><stop offset="0.458" stop-color="#ffe6e6"/><stop offset="0.486" stop-color="#ffb2b2"/><stop offset="0.514" stop-color="#ff8c8c"/><stop offset="0.542" stop-color="#ff8c8c"/><stop offset="0.569" stop-color="#ff9999"/><stop offset="0.597" stop-color="#ff6666"/><stop offset="0.653" stop-color="#ff6666"/><stop offset="0.681" stop-color="#ff4d4d"/><stop offset="0.736" stop-color="#ff4d4d"/><stop offset="0.764" stop-color="#ff2626"/><stop offset="0.792" stop-color="#ff2626"/><stop offset="0.819" stop-color="#ff3333"/><stop offset="0.847" stop-color="#ff3333"/><stop offset="0.875" stop-color="#ff4040"/><stop offset="0.903" stop-color="#ff6666"/><stop offset="0.931" stop-color="#ff7373"/><stop offset="0.986" stop-color="#ff7373"/></linearGradient><linearGradient id="gd4" gradientUnits="userSpaceOnUse" x1="0" y1="0" x2="277.0" y2="0"><stop offset="0.014" stop-color="#ff8585"/><stop offset="0.125" stop-color="#ff8585"/><stop offset="0.153" stop-color="#ff8080"/><stop offset="0.181" stop-color="#ff6666"/><stop offset="0.208" stop-color="#ff6666"/><stop offset="0.236" stop-color="#ff4d4d"/><stop offset="0.264" stop-color="#ff6666"/><stop offset="0.292" stop-color="#ff6666"/><stop offset="0.319" stop-color="#ff8080"/><stop offset="0.347" stop-color="#ff7373"/><stop offset="0.375" stop-color="#ffcccc"/><stop offset="0.403" stop-color="#ffcccc"/><stop offset="0.431" stop-color="#ffd9d9"/><stop offset="0.458" stop-color="#ffd9d9"/><stop offset="0.486" stop-color="#ffa6a6"/><stop offset="0.514" stop-color="#ff8c8c"/><stop offset="0.542" stop-color="#ff8c8c"/><stop offset="0.569" stop-color="#ffa6a6"/><stop offset="0.597" stop-color="#ff7373"/><stop offset="0.625" stop-color="#ff6666"/><stop offset="0.653" stop-color="#ff6666"/><stop offset="0.681" stop-color="#ff3333"/><stop offset="0.736" stop-color="#ff3333"/><stop offset="0.764" stop-color="#ff1919"/><stop offset="0.819" stop-color="#ff1919"/><stop offset="0.847" stop-color="#ff3333"/><stop offset="0.875" stop-color="#ff6666"/><stop offset="0.903" stop-color="#ff5959"/><stop offset="0.931" stop-color="#ff8080"/><stop offset="0.986" stop-color="#ff8080"/></linearGradient><linearGradient id="gd5" gradientUnits="userSpaceOnUse" x1="0" y1="0" x2="277.0" y2="0"><stop offset="0.014" stop-color="#ff9999"/><stop offset="0.125" stop-color="#ff9999"/><stop offset="0.153" stop-color="#ff8c8c"/><stop offset="0.181" stop-color="#ff8080"/><stop offset="0.208" stop-color="#ff7373"/><stop offset="0.292" stop-color="#ff7373"/><stop offset="0.319" stop-color="#ff8c8c"/><stop offset="0.347" stop-color="#ffb2b2"/><stop offset="0.458" stop-color="#ffb2b2"/><stop offset="0.486" stop-color="#ff8c8c"/><stop offset="0.514" stop-color="#ff7373"/><stop offset="0.653" stop-color="#ff7373"/><stop offset="0.681" stop-color="#ff4d4d"/><stop offset="0.708" stop-color="#ff2626"/><stop offset="0.792" stop-color="#ff2626"/><stop offset="0.819" stop-color="#ff4d4d"/><stop offset="0.847" stop-color="#ff7373"/><stop offset="0.903" stop-color="#ff7373"/><stop offset="0.931" stop-color="#ff8585"/><stop offset="0.986" stop-color="#ff8585"/></linearGradient><linearGradient id="gd6" gradientUnits="userSpaceOnUse" x1="0" y1="0" x2="277.0" y2="0"><stop offset="0.014" stop-color="#ff8787"/><stop offset="0.208" stop-color="#ff8787"/><stop offset="0.236" stop-color="#ff6666"/><stop offset="0.264" stop-color="#ff8080"/><stop offset="0.292" stop-color="#ff8c8c"/><stop offset="0.319" stop-color="#ff8c8c"/><stop offset="0.347" stop-color="#ffa3a3"/><stop offset="0.431" stop-color="#ffa3a3"/><stop offset="0.458" stop-color="#ff8080"/><stop offset="0.486" stop-color="#ff3333"/><stop offset="0.514" stop-color="#ff1919"/><stop offset="0.569" stop-color="#ff1919"/><stop offset="0.597" stop-color="#ff6666"/><stop offset="0.625" stop-color="#ff4040"/><stop offset="0.653" stop-color="#ff4040"/><stop offset="0.681" stop-color="#ff8080"/><stop offset="0.708" stop-color="#ff2626"/><stop offset="0.736" stop-color="#ff2626"/><stop offset="0.764" stop-color="#ff3333"/><stop offset="0.792" stop-color="#ff3333"/><stop offset="0.819" stop-color="#ff6666"/><stop offset="0.847" stop-color="#ff8c8c"/><stop offset="0.986" stop-color="#ff8c8c"/></linearGradient><linearGradient id="gd7" gradientUnits="userSpaceOnUse" x1="0" y1="0" x2="277.0" y2="0"><stop offset="0.014" stop-color="#ff8585"/><stop offset="0.236" stop-color="#ff8585"/><stop offset="0.264" stop-color="#ff8080"/><stop offset="0.292" stop-color="#ff8c8c"/><stop offset="0.319" stop-color="#ff8c8c"/><stop offset="0.347" stop-color="#ff9999"/><stop offset="0.458" stop-color="#ff9999"/><stop offset="0.486" stop-color="#ff8080"/><stop offset="0.514" stop-color="#ff6666"/><stop offset="0.569" stop-color="#ff6666"/><stop offset="0.597" stop-color="#ff7373"/><stop offset="0.625" stop-color="#ff8080"/><stop offset="0.653" stop-color="#ff8080"/><stop offset="0.681" stop-color="#ff8585"/><stop offset="0.708" stop-color="#ff7373"/><stop offset="0.736" stop-color="#ff7373"/><stop offset="0.764" stop-color="#ff8080"/><stop offset="0.819" stop-color="#ff8080"/><stop offset="0.847" stop-color="#ff8c8c"/><stop offset="0.986" stop-color="#ff8c8c"/></linearGradient><linearGradient id="gd8" gradientUnits="userSpaceOnUse" x1="0" y1="0" x2="277.0" y2="0"><stop offset="0.014" stop-color="#ff7070"/><stop offset="0.236" stop-color="#ff7070"/><stop offset="0.264" stop-color="#ff7373"/><stop offset="0.292" stop-color="#ff8080"/><stop offset="0.375" stop-color="#ff8080"/><stop offset="0.403" stop-color="#ff8c8c"/><stop offset="0.458" stop-color="#ff8c8c"/><stop offset="0.486" stop-color="#ff8080"/><stop offset="0.542" stop-color="#ff8080"/><stop offset="0.569" stop-color="#ff9999"/><stop offset="0.597" stop-color="#ff8080"/><stop offset="0.625" stop-color="#ff8585"/><stop offset="0.736" stop-color="#ff8585"/><stop offset="0.764" stop-color="#ff8080"/><stop offset="0.875" stop-color="#ff8080"/><stop offset="0.903" stop-color="#ff8c8c"/><stop offset="0.986" stop-color="#ff8c8c"/></linearGradient><linearGradient id="gd9" gradientUnits="userSpaceOnUse" x1="0" y1="0" x2="277.0" y2="0"><stop offset="0.014" stop-color="#ff8080"/><stop offset="0.236" stop-color="#ff8080"/><stop offset="0.264" stop-color="#ff7373"/><stop offset="0.292" stop-color="#ff7373"/><stop offset="0.319" stop-color="#ff8080"/><stop offset="0.347" stop-color="#ff8080"/><stop offset="0.375" stop-color="#ff7373"/><stop offset="0.403" stop-color="#ff8080"/><stop offset="0.431" stop-color="#ff8c8c"/><stop offset="0.486" stop-color="#ff8c8c"/><stop offset="0.514" stop-color="#ff8080"/><stop offset="0.542" stop-color="#ff8080"/><stop offset="0.569" stop-color="#ff8c8c"/><stop offset="0.597" stop-color="#ff8080"/><stop offset="0.625" stop-color="#ff8c8c"/><stop offset="0.819" stop-color="#ff8c8c"/><stop offset="0.847" stop-color="#ff8080"/><stop offset="0.931" stop-color="#ff8080"/><stop offset="0.958" stop-color="#ff8c8c"/><stop offset="0.986" stop-color="#ff8c8c"/></linearGradient><linearGradient id="gd10" gradientUnits="userSpaceOnUse" x1="0" y1="0" x2="277.0" y2="0"><stop offset="0.014" stop-color="#ff9494"/><stop offset="0.236" stop-color="#ff9494"/><stop offset="0.264" stop-color="#ff8080"/><stop offset="0.347" stop-color="#ff8080"/><stop offset="0.375" stop-color="#ff8c8c"/><stop offset="0.403" stop-color="#ff8c8c"/><stop offset="0.431" stop-color="#ff9999"/><stop offset="0.486" stop-color="#ff9999"/><stop offset="0.514" stop-color="#ff8c8c"/><stop offset="0.542" stop-color="#ff7373"/><stop offset="0.569" stop-color="#ff7373"/><stop offset="0.597" stop-color="#ff8080"/><stop offset="0.625" stop-color="#ff8c8c"/><stop offset="0.819" stop-color="#ff8c8c"/><stop offset="0.847" stop-color="#ff5959"/><stop offset="0.903" stop-color="#ff5959"/><stop offset="0.931" stop-color="#ff8c8c"/><stop offset="0.986" stop-color="#ff8c8c"/></linearGradient><linearGradient id="gd11" gradientUnits="userSpaceOnUse" x1="0" y1="0" x2="277.0" y2="0"><stop offset="0.014" stop-color="#ffa1a1"/><stop offset="0.236" stop-color="#ffa1a1"/><stop offset="0.264" stop-color="#ff8c8c"/><stop offset="0.292" stop-color="#ff8c8c"/><stop offset="0.319" stop-color="#ff4040"/><stop offset="0.347" stop-color="#ff8080"/><stop offset="0.375" stop-color="#ff8080"/><stop offset="0.403" stop-color="#ff9999"/><stop offset="0.431" stop-color="#ff9e9e"/><stop offset="0.486" stop-color="#ff9e9e"/><stop offset="0.514" stop-color="#ff8c8c"/><stop offset="0.542" stop-color="#ff6161"/><stop offset="0.569" stop-color="#ff6161"/><stop offset="0.597" stop-color="#ff8080"/><stop offset="0.625" stop-color="#ff9494"/><stop offset="0.792" stop-color="#ff9494"/><stop offset="0.819" stop-color="#ff7373"/><stop offset="0.847" stop-color="#ff1f1f"/><stop offset="0.903" stop-color="#ff1f1f"/><stop offset="0.931" stop-color="#ff8080"/><stop offset="0.958" stop-color="#ff9494"/><stop offset="0.986" stop-color="#ff9494"/></linearGradient><linearGradient id="gd12" gradientUnits="userSpaceOnUse" x1="0" y1="0" x2="277.0" y2="0"><stop offset="0.014" stop-color="#ff9494"/><stop offset="0.236" stop-color="#ff9494"/><stop offset="0.264" stop-color="#ff8c8c"/><stop offset="0.292" stop-color="#ff8080"/><stop offset="0.319" stop-color="#ff8c8c"/><stop offset="0.347" stop-color="#ff8c8c"/><stop offset="0.375" stop-color="#ff9999"/><stop offset="0.486" stop-color="#ff9999"/><stop offset="0.514" stop-color="#ff9494"/><stop offset="0.542" stop-color="#ff6666"/><stop offset="0.569" stop-color="#ff6666"/><stop offset="0.597" stop-color="#ff9494"/><stop offset="0.736" stop-color="#ff9494"/><stop offset="0.764" stop-color="#ff9999"/><stop offset="0.792" stop-color="#ff9999"/><stop offset="0.819" stop-color="#ff6666"/><stop offset="0.903" stop-color="#ff6666"/><stop offset="0.931" stop-color="#ff8c8c"/><stop offset="0.986" stop-color="#ff8c8c"/></linearGradient><linearGradient id="gd13" gradientUnits="userSpaceOnUse" x1="0" y1="0" x2="277.0" y2="0"><stop offset="0.014" stop-color="#ff9e9e"/><stop offset="0.236" stop-color="#ff9e9e"/><stop offset="0.264" stop-color="#ff9494"/><stop offset="0.292" stop-color="#ff9494"/><stop offset="0.319" stop-color="#ff9999"/><stop offset="0.347" stop-color="#ff9999"/><stop offset="0.375" stop-color="#ffabab"/><stop offset="0.486" stop-color="#ffabab"/><stop offset="0.514" stop-color="#ff9999"/><stop offset="0.569" stop-color="#ff9999"/><stop offset="0.597" stop-color="#ff8080"/><stop offset="0.681" stop-color="#ff8080"/><stop offset="0.708" stop-color="#ff9494"/><stop offset="0.986" stop-color="#ff9494"/></linearGradient><linearGradient id="gd14" gradientUnits="userSpaceOnUse" x1="0" y1="0" x2="277.0" y2="0"><stop offset="0.014" stop-color="#ffabab"/><stop offset="0.486" stop-color="#ffabab"/><stop offset="0.514" stop-color="#ff9494"/><stop offset="0.986" stop-color="#ff9494"/></linearGradient><linearGradient id="gd15" gradientUnits="userSpaceOnUse" x1="0" y1="0" x2="277.0" y2="0"><stop offset="0.014" stop-color="#ffc4c4"/><stop offset="0.236" stop-color="#ffc4c4"/><stop offset="0.264" stop-color="#ffb8b8"/><stop offset="0.486" stop-color="#ffb8b8"/><stop offset="0.514" stop-color="#ff9e9e"/><stop offset="0.986" stop-color="#ff9e9e"/></linearGradient><linearGradient id="gd16" gradientUnits="userSpaceOnUse" x1="0" y1="0" x2="277.0" y2="0"><stop offset="0.014" stop-color="#ff6666"/><stop offset="0.486" stop-color="#ff6666"/><stop offset="0.514" stop-color="#ff0d0d"/><stop offset="0.986" stop-color="#ff0d0d"/></linearGradient><linearGradient id="gd17" gradientUnits="userSpaceOnUse" x1="0" y1="0" x2="277.0" y2="0"><stop offset="0.014" stop-color="#ff0000"/><stop offset="0.986" stop-color="#ff0000"/></linearGradient></defs><g filter="url(#bld)"><rect x="-4" y="-7.86" width="285.0" height="8.36" fill="url(#gd0)"/><rect x="-4" y="0.00" width="285.0" height="8.36" fill="url(#gd0)"/><rect x="-4" y="7.86" width="285.0" height="8.36" fill="url(#gd1)"/><rect x="-4" y="15.72" width="285.0" height="8.36" fill="url(#gd2)"/><rect x="-4" y="23.58" width="285.0" height="8.36" fill="url(#gd3)"/><rect x="-4" y="31.44" width="285.0" height="8.36" fill="url(#gd4)"/><rect x="-4" y="39.31" width="285.0" height="8.36" fill="url(#gd5)"/><rect x="-4" y="47.17" width="285.0" height="8.36" fill="url(#gd6)"/><rect x="-4" y="55.03" width="285.0" height="8.36" fill="url(#gd7)"/><rect x="-4" y="62.89" width="285.0" height="8.36" fill="url(#gd8)"/><rect x="-4" y="70.75" width="285.0" height="8.36" fill="url(#gd9)"/><rect x="-4" y="78.61" width="285.0" height="8.36" fill="url(#gd10)"/><rect x="-4" y="86.47" width="285.0" height="8.36" fill="url(#gd11)"/><rect x="-4" y="94.33" width="285.0" height="8.36" fill="url(#gd12)"/><rect x="-4" y="102.19" width="285.0" height="8.36" fill="url(#gd13)"/><rect x="-4" y="110.06" width="285.0" height="8.36" fill="url(#gd14)"/><rect x="-4" y="117.92" width="285.0" height="8.36" fill="url(#gd15)"/><rect x="-4" y="125.78" width="285.0" height="8.36" fill="url(#gd16)"/><rect x="-4" y="133.64" width="285.0" height="8.36" fill="url(#gd17)"/><rect x="-4" y="141.50" width="285.0" height="8.36" fill="url(#gd17)"/></g><filter id="bd1"><feGaussianBlur stdDeviation="0.7"/></filter><filter id="bd2" x="-20%" y="-50%" width="140%" height="200%"><feGaussianBlur stdDeviation="1.0"/></filter><filter id="bd3" x="-20%" y="-50%" width="140%" height="200%"><feGaussianBlur stdDeviation="2.2"/></filter><path d="M-2.0,129.4 91.4,129.0 124.7,127.4 138.5,125.5 207.8,124.8 263.1,125.4 271.5,128.8 279.0,129.5 279.0,143.5 -2.0,143.5Z" fill="#ff0000" filter="url(#bd1)"/><ellipse cx="146.6" cy="53.4" rx="20.4" ry="6.4" fill="#ff1919" filter="url(#bd3)"/><ellipse cx="144.3" cy="60.2" rx="19.6" ry="1.8" fill="#ffd9d9" filter="url(#bd2)"/><path d="M17.9,8.2 19.6,8.5 21.5,8.6 23.9,8.9 26.9,9.2 30.0,9.7 32.3,10.0 33.9,10.3 35.0,9.7 36.2,9.8 37.7,9.5 38.9,9.3 40.4,9.0 41.5,9.7 42.6,9.1 43.9,9.7 45.4,9.7 47.3,10.0 49.2,10.3 50.0,11.2 52.3,11.2 54.6,11.1 55.8,10.9 56.9,10.4 60.0,11.2 62.7,11.2 64.2,10.8 65.0,9.9 65.8,8.9 65.6,7.7 67.3,8.4 68.1,9.3 69.6,10.4 70.8,11.1 71.9,11.7 72.9,10.4 73.1,9.5 74.6,9.7 75.4,11.1 75.9,12.1 73.9,12.6 72.1,12.4 71.2,13.4 69.6,14.6 68.5,15.6 66.9,16.6 65.8,18.1 65.7,19.1 66.9,20.4 68.9,20.7 70.8,21.3 72.7,22.2 75.0,22.4 75.3,23.8 75.9,24.8 76.9,25.7 77.7,25.5 77.9,24.7 77.7,23.2 79.3,21.8 79.6,20.3 78.9,19.1 78.9,17.9 78.6,16.8 79.3,16.0 81.2,16.2 83.1,16.8 84.6,17.2 85.0,18.5 85.8,19.4 86.9,19.5 87.7,19.0 88.5,17.8 89.1,18.5 90.0,20.0 91.2,21.0 92.3,21.9 93.9,23.1 94.6,23.8 95.6,24.7 95.0,25.5 93.5,25.8 91.9,26.7 90.0,26.6 88.1,26.6 86.9,27.3 85.8,27.8 84.8,28.4 83.7,29.7 85.0,28.7 86.6,27.7 88.5,27.6 89.0,27.9 88.6,28.6 88.3,29.1 88.6,29.5 88.9,30.1 90.0,30.5 91.2,30.6 92.3,30.2 92.3,30.7 91.4,31.1 89.6,31.6 87.9,32.6 87.6,31.7 88.9,31.0 88.1,31.1 86.9,31.4 85.8,31.9 84.6,32.4 84.0,33.4 84.6,33.9 84.6,34.1 83.9,34.3 82.7,34.6 81.6,35.1 81.5,35.8 80.9,36.6 80.7,36.9 80.3,37.6 80.0,38.3 80.3,39.0 80.4,39.8 79.6,40.3 78.9,40.6 78.1,41.1 77.5,41.6 76.7,42.3 76.0,43.1 75.9,44.2 76.2,45.0 76.6,45.9 76.9,47.0 76.9,48.0 76.6,48.6 76.0,48.5 75.6,47.8 74.9,46.6 74.8,45.7 74.3,44.8 73.7,44.4 72.9,44.7 71.9,44.1 70.8,43.9 69.8,44.2 69.9,45.0 69.1,45.2 68.1,44.9 66.9,44.7 65.8,44.9 65.0,45.6 64.0,46.2 63.6,47.0 63.6,48.1 63.3,49.7 63.2,51.0 63.6,52.3 64.2,53.6 65.0,54.3 65.8,54.8 66.9,54.6 67.9,54.4 68.7,53.7 68.9,52.5 69.6,52.1 71.2,51.9 71.6,52.3 71.3,53.6 70.9,54.7 70.6,55.4 70.6,56.5 71.2,56.9 72.3,56.8 73.5,56.9 74.4,57.6 74.3,58.9 74.2,60.7 74.6,62.0 75.4,62.8 76.6,62.8 77.3,62.4 78.1,62.6 78.9,63.2 79.4,63.6 79.9,62.6 80.3,61.6 80.9,61.1 81.9,60.8 82.9,60.3 83.6,61.2 84.5,60.6 84.8,60.0 85.3,60.7 86.0,61.4 87.3,61.4 88.5,61.9 89.4,61.4 90.8,61.4 90.9,62.0 91.6,62.8 92.2,63.3 93.1,64.2 93.9,64.8 94.6,65.5 96.2,65.5 97.1,65.7 98.1,66.4 98.9,67.1 99.3,68.1 99.6,69.2 100.0,69.9 99.6,70.8 100.8,70.9 101.2,71.6 102.0,71.4 103.1,71.6 104.3,72.9 105.4,72.9 106.6,73.3 107.7,73.2 108.9,74.0 109.9,75.0 111.0,75.3 111.5,76.5 111.7,77.3 111.5,78.7 111.0,79.4 110.2,80.2 109.5,81.3 108.9,82.2 108.5,83.5 108.5,85.2 108.0,86.6 107.9,88.0 107.3,89.0 107.0,90.1 106.2,90.9 105.0,90.9 104.1,91.3 103.1,91.8 102.0,92.5 101.2,93.5 101.1,94.9 100.8,95.9 99.9,97.3 99.3,98.1 98.3,99.1 97.3,100.4 96.3,101.4 95.4,101.4 94.6,101.0 93.6,100.8 94.3,101.7 94.6,102.6 94.8,103.2 94.2,104.3 93.1,104.7 91.6,105.0 90.6,105.0 90.8,106.3 90.0,106.8 88.9,106.6 88.5,107.6 89.3,108.1 88.5,108.9 88.3,110.3 86.9,111.0 86.6,111.6 87.7,112.4 86.6,113.8 85.8,114.8 85.3,116.0 85.9,116.7 85.7,117.5 86.2,118.2 87.3,118.9 86.6,119.5 85.4,119.5 83.9,118.9 82.7,118.0 81.6,116.8 80.8,115.5 80.4,113.8 80.4,112.4 81.2,111.6 81.6,110.3 81.9,109.2 81.6,108.1 81.9,106.7 81.9,105.4 81.9,103.7 82.5,102.4 83.1,101.0 83.5,99.7 83.5,98.4 83.6,97.1 83.6,95.8 84.0,94.5 84.3,93.1 84.3,91.4 84.6,89.6 84.5,87.9 84.4,86.8 83.6,86.2 82.7,85.5 81.6,84.6 80.4,83.7 79.8,82.6 79.4,81.5 78.9,80.8 78.3,79.5 77.7,78.2 77.1,77.1 76.3,76.2 76.0,75.1 76.2,74.3 76.7,73.7 77.1,72.9 76.3,72.7 76.3,71.6 76.9,70.5 77.1,69.9 77.9,69.3 78.1,68.6 78.9,67.7 79.0,66.8 78.9,65.5 78.6,64.4 78.1,63.5 77.3,62.9 76.6,63.5 76.8,64.3 76.2,64.0 75.6,63.6 74.7,63.6 74.2,63.0 73.5,62.4 72.9,62.1 72.5,61.4 72.6,60.9 71.9,60.3 71.2,59.4 70.4,59.2 69.4,58.9 68.3,58.5 67.5,57.9 66.6,57.0 65.8,56.5 65.0,56.9 64.2,57.0 63.2,56.7 61.9,56.1 60.8,55.6 59.6,54.9 58.5,54.2 57.5,53.4 57.3,52.5 57.5,51.6 57.1,50.8 56.3,49.9 55.4,48.8 54.5,48.1 54.2,47.2 53.4,46.3 52.6,45.6 52.1,44.9 51.6,44.0 50.8,43.3 50.2,42.8 50.3,43.7 51.2,44.9 51.7,45.7 52.3,46.8 52.7,47.7 53.2,49.0 53.7,49.7 54.2,50.4 53.9,50.6 53.5,50.1 52.6,49.2 52.2,48.4 51.6,47.5 50.6,46.9 50.4,46.2 49.6,44.9 48.9,43.5 48.4,42.2 48.2,41.5 47.4,40.9 46.6,40.6 45.7,40.4 45.5,39.6 44.7,38.6 44.2,37.8 43.9,37.2 43.2,36.1 42.9,35.4 43.0,34.3 42.7,33.2 43.0,31.7 43.1,30.2 42.9,29.5 42.6,28.3 43.9,28.5 44.2,29.2 44.0,27.8 43.5,27.2 42.3,26.6 41.2,26.0 40.2,25.3 39.8,24.2 38.7,23.1 38.2,22.6 37.3,22.0 36.5,21.2 35.8,20.3 34.2,19.4 33.2,19.6 32.3,19.0 30.9,18.3 29.6,18.1 28.1,18.1 26.5,17.6 25.0,17.4 24.2,18.1 23.1,18.5 21.7,18.8 21.9,17.6 22.9,17.0 21.2,17.8 20.4,18.7 19.9,19.6 18.5,20.5 17.3,21.2 15.8,21.8 14.6,22.2 13.5,22.6 11.7,23.0 12.7,22.3 14.0,21.7 15.4,21.2 16.5,20.3 17.3,19.6 16.9,19.2 15.8,19.3 14.2,19.3 13.7,18.3 12.5,18.1 11.4,17.6 11.1,16.6 11.5,15.8 12.2,15.3 13.9,15.0 14.6,14.3 13.9,14.0 12.3,14.1 10.6,14.0 10.3,13.5 9.2,13.2 10.4,12.6 11.9,12.3 12.5,11.9 11.2,11.1 10.2,10.8 11.5,10.3 13.1,9.6 15.0,9.0 16.9,8.5 17.9,8.2M104.7,18.3 103.5,17.6 101.6,17.2 100.4,15.9 99.6,14.8 98.9,14.1 98.1,13.3 97.3,12.1 97.7,11.1 99.3,10.4 97.3,9.7 96.9,9.3 98.5,8.9 96.6,8.4 95.8,7.5 95.4,6.2 94.3,5.4 92.3,4.2 90.0,3.9 87.3,4.0 85.4,3.6 83.5,2.8 82.3,1.9 84.3,1.4 86.9,0.5 90.0,-0.4 93.9,-1.2 100.0,-1.7 104.6,-2.1 111.6,-2.6 117.7,-2.4 122.3,-1.8 125.4,-1.1 128.9,-0.8 126.2,0.1 124.3,1.0 123.5,2.3 124.3,3.3 122.7,4.5 123.1,5.4 121.6,6.7 121.2,8.0 121.7,8.9 120.0,9.7 117.7,10.6 114.6,11.1 112.7,11.9 110.8,13.0 108.9,13.3 107.7,14.1 107.0,15.4 105.8,16.8 105.4,17.6 104.7,18.3M88.6,16.3 87.3,13.9 89.6,13.3 90.8,12.3 88.9,11.5 86.9,10.6 85.8,9.3 84.3,8.6 82.7,8.0 81.2,7.4 78.9,6.8 76.9,6.1 73.9,6.1 70.4,6.4 71.6,7.1 72.7,8.4 73.5,9.3 75.8,9.7 77.7,9.4 78.9,10.0 80.4,10.8 82.3,11.2 82.7,12.2 81.9,13.0 80.8,13.7 78.9,14.2 80.0,15.0 81.6,15.3 83.5,15.6 85.4,15.9 87.7,16.4 88.6,16.3M71.9,14.9 73.1,15.4 75.4,14.7 75.8,14.1 74.3,13.5 72.3,12.9 71.2,14.1 71.9,14.9M60.4,10.0 58.1,10.3 55.4,10.4 51.2,10.0 48.1,9.5 47.3,8.4 48.1,7.1 50.8,6.5 53.9,6.8 56.9,6.5 58.1,8.0 59.6,8.9 60.4,10.0M41.9,7.6 43.1,6.2 45.4,5.4 48.1,5.6 49.6,6.2 47.3,7.1 44.6,8.3 41.9,7.6M60.4,7.7 63.5,8.0 64.2,6.8 62.7,6.0 60.4,6.7 60.4,7.7M65.4,7.5 66.9,7.5 68.9,6.2 65.8,5.7 65.0,6.7 65.4,7.5M76.9,5.3 73.9,5.4 69.2,5.3 67.3,4.9 67.7,3.9 70.8,3.7 75.0,3.6 76.9,4.2 76.9,5.3M80.8,3.6 77.3,3.9 74.6,3.3 69.6,3.5 70.0,2.1 72.3,1.0 70.4,0.1 68.5,-0.4 73.1,-1.2 78.5,-2.0 84.6,-2.1 90.8,-1.7 88.9,-1.0 85.4,0.0 83.5,0.7 80.8,1.4 80.4,2.3 78.5,3.2 80.8,3.6M69.2,1.8 66.2,2.0 64.6,1.0 65.4,0.0 68.1,0.1 69.2,1.0 69.2,1.8M57.7,4.2 53.9,4.8 50.4,4.9 48.1,4.2 50.0,3.5 53.9,3.7 56.9,4.0 57.7,4.2M63.9,4.9 61.2,4.7 60.8,3.8 63.1,3.5 64.6,4.4 63.9,4.9M49.6,3.6 46.9,4.2 44.2,3.8 46.2,2.9 48.9,3.0 49.6,3.6M61.6,2.3 58.1,2.6 57.7,1.4 61.2,1.4 61.6,2.3M64.2,10.4 62.7,10.5 61.9,9.7 63.5,9.4 64.2,10.4M92.9,29.0 95.4,29.0 96.2,29.4 97.3,29.8 98.0,29.0 97.3,28.2 97.7,27.5 95.8,27.0 95.4,26.0 95.8,25.5 94.6,26.0 93.9,27.3 92.9,28.2 92.9,29.0M43.6,28.3 42.3,27.9 40.8,26.9 39.7,26.2 40.4,26.1 41.9,26.6 43.1,27.5 43.6,28.3M73.1,51.5 73.9,50.8 75.4,50.4 76.9,50.5 78.9,51.6 80.3,52.2 81.4,53.0 80.3,53.3 78.7,53.3 79.1,52.6 78.1,51.8 76.2,51.4 74.8,50.9 73.9,51.5 73.1,51.5M81.3,54.6 82.5,53.3 84.6,53.4 85.9,54.4 84.6,54.8 83.5,55.3 82.7,54.8 81.3,54.6M78.3,54.6 79.8,54.8 79.4,55.0 78.6,55.0 78.3,54.6M86.8,54.5 88.0,54.6 88.0,54.9 86.8,54.9 86.8,54.5M120.0,13.3 121.6,12.5 124.3,12.7 127.0,12.6 128.1,13.5 127.0,14.3 124.7,15.1 122.3,14.7 121.2,14.6 120.0,13.3M20.4,20.7 21.4,20.2 21.1,19.8 19.9,20.2 20.4,20.7M36.2,24.2 37.3,24.9 36.9,23.3 36.2,23.3 36.2,24.2M134.2,39.1 133.9,38.8 133.6,38.4 133.1,38.1 132.4,38.3 131.7,38.3 131.7,37.0 131.2,36.8 131.6,36.0 131.8,35.1 131.7,34.0 131.3,33.0 132.2,32.5 133.1,32.5 134.7,32.6 135.8,32.7 137.1,32.7 137.5,31.7 137.6,30.4 136.8,29.3 135.8,28.9 135.0,28.7 134.9,28.3 135.8,27.9 137.0,28.1 137.3,28.0 137.0,27.1 137.7,27.4 138.7,27.3 139.6,26.8 139.7,26.1 140.4,25.9 141.3,25.6 141.8,25.1 142.2,24.3 142.8,23.9 143.9,23.7 144.7,23.7 145.2,23.4 145.1,22.5 144.7,21.9 144.8,20.9 145.8,20.6 146.7,20.1 146.5,20.7 146.4,21.2 146.9,21.3 146.2,22.0 146.0,22.6 146.2,22.8 146.9,23.0 147.0,23.3 147.7,23.2 148.5,22.9 149.4,23.4 151.2,22.9 152.6,22.6 152.8,23.0 153.6,22.9 154.8,22.3 154.7,21.6 154.7,20.9 155.1,20.4 155.8,20.1 156.4,20.7 157.0,20.6 157.3,19.6 156.6,19.3 156.6,18.8 157.6,18.5 158.9,18.5 160.0,18.5 161.7,18.2 160.8,17.9 159.3,17.6 157.7,17.8 156.1,18.2 155.4,17.7 155.0,17.2 155.0,16.3 154.7,15.6 155.6,15.0 156.6,14.5 157.4,13.8 158.0,13.4 157.4,13.0 156.6,13.0 155.7,13.0 155.0,13.3 154.9,13.9 154.4,14.6 153.4,14.9 152.7,15.5 152.0,16.0 151.8,16.8 151.7,17.5 152.5,17.8 153.0,18.3 152.7,18.7 151.8,19.2 151.3,19.9 151.1,21.1 150.5,21.5 149.5,21.9 148.5,22.1 148.4,21.7 148.2,21.2 148.0,20.8 147.7,20.2 147.2,19.3 146.7,18.3 146.3,18.9 145.8,19.0 144.8,19.7 143.9,19.8 143.1,19.6 142.8,19.1 142.5,18.5 142.3,17.6 142.3,17.0 142.4,16.3 143.1,15.9 143.9,15.4 145.0,15.0 145.8,14.7 146.6,14.1 147.3,13.7 148.1,12.8 148.9,11.9 149.7,11.2 150.3,10.7 151.2,10.4 152.0,9.9 152.7,9.5 153.9,9.3 155.0,9.0 156.2,8.8 157.4,8.4 158.4,8.3 159.3,8.4 160.4,8.5 161.6,9.0 162.4,9.0 163.9,9.8 165.4,10.0 167.0,10.3 168.1,10.7 169.3,11.2 170.1,11.8 170.0,12.4 168.5,12.7 167.0,12.6 165.4,12.3 164.3,12.2 165.0,13.0 165.3,14.0 166.0,14.4 167.0,14.7 167.6,14.2 168.9,14.0 169.7,14.0 169.3,13.3 170.4,12.7 172.0,12.5 172.4,12.4 172.3,10.9 173.9,10.7 175.0,11.2 176.2,11.1 177.4,10.8 179.3,10.4 180.4,10.8 181.4,10.6 182.7,10.5 183.9,10.2 185.1,9.5 185.8,9.6 187.7,10.0 189.3,10.0 190.1,10.4 191.2,10.9 191.6,10.4 190.8,9.5 189.9,8.9 190.2,8.0 191.2,7.0 192.0,6.6 193.5,6.8 194.5,7.3 194.3,8.2 193.9,8.9 194.4,9.7 195.1,10.6 194.8,11.9 194.3,12.4 195.8,11.5 196.2,10.8 195.8,10.2 195.3,9.3 195.4,8.4 196.6,7.3 197.7,7.1 198.9,7.3 200.4,7.5 200.4,6.2 202.4,6.1 204.3,6.0 205.4,5.8 205.1,4.9 207.0,4.6 209.3,4.2 211.6,4.0 213.9,3.8 215.8,3.6 217.0,3.0 218.8,2.5 220.1,2.8 221.2,3.3 223.1,3.4 224.7,3.7 225.8,4.1 225.8,4.9 223.9,5.8 222.4,6.0 224.3,6.1 225.8,6.2 227.4,6.1 229.7,6.2 231.6,6.8 233.5,6.6 235.4,6.2 236.6,6.3 237.8,7.1 238.1,8.3 239.7,8.6 240.8,8.0 242.4,7.9 243.9,8.1 245.5,8.0 246.1,7.1 247.0,6.9 248.9,7.0 250.8,7.2 252.8,7.4 253.9,7.9 255.5,8.5 257.4,8.5 259.7,8.4 261.2,8.7 262.0,9.5 263.5,9.7 265.5,9.6 267.4,9.5 268.9,10.4 269.7,9.5 271.2,9.4 273.2,9.5 275.5,9.8 277.0,10.3M277.0,13.7 275.8,14.0 275.1,14.3 276.1,15.1 276.5,16.1 274.7,15.9 272.8,16.5 271.6,16.9 270.1,17.6 268.9,17.7 267.0,17.9 265.5,18.2 264.3,18.3 263.8,19.0 263.1,19.8 264.2,21.4 263.1,21.8 262.8,22.6 261.6,23.3 260.5,24.3 259.7,25.3 259.1,26.1 258.7,25.5 258.3,23.8 258.2,22.0 258.8,20.7 259.7,20.0 260.8,19.4 262.0,18.5 262.8,17.7 263.9,16.8 261.6,16.5 259.3,16.7 257.8,18.1 257.0,18.7 255.1,18.8 253.1,18.4 250.8,18.7 248.9,18.7 247.4,19.3 246.6,20.0 245.1,21.2 243.9,22.5 244.3,23.2 245.8,23.2 247.1,24.3 247.1,24.9 246.7,26.0 246.5,27.6 245.8,28.8 244.9,29.9 243.5,31.2 242.5,32.3 240.8,33.2 239.9,32.9 239.1,33.6 238.3,34.9 237.4,35.6 236.7,36.1 237.3,36.9 237.9,37.8 238.1,39.1 238.0,39.8 237.4,40.0 236.6,40.3 235.8,40.6 235.8,39.9 235.9,39.1 235.8,38.3 235.9,37.7 235.1,37.6 234.5,37.0 234.9,36.2 234.2,35.7 232.8,36.1 232.1,36.6 231.8,36.1 232.5,35.2 231.6,34.9 230.8,35.5 230.3,36.2 229.3,36.4 229.0,36.9 229.7,37.7 230.1,38.1 230.8,37.8 231.4,37.6 232.8,37.9 232.0,38.4 231.1,39.1 230.3,40.0 231.1,40.7 231.5,42.1 232.3,42.9 231.8,43.8 232.3,44.4 232.0,45.3 231.4,46.4 230.6,47.5 230.2,48.5 229.3,49.2 228.4,50.2 227.0,50.8 225.9,51.3 224.7,51.7 223.5,52.1 223.3,52.9 222.9,52.3 222.0,51.8 221.1,52.2 220.4,52.9 220.0,53.9 220.5,54.9 221.2,56.2 222.0,57.1 222.5,58.9 222.5,60.6 221.8,61.2 220.7,61.7 219.3,63.1 219.1,62.1 218.9,61.5 218.1,61.4 217.7,60.6 217.2,60.0 216.2,59.6 216.1,59.0 215.5,59.0 215.4,60.0 214.8,61.7 215.4,62.7 215.8,64.2 216.2,64.7 217.1,65.3 217.8,66.1 218.1,67.2 218.1,68.3 218.7,69.4 218.1,69.6 217.4,69.1 216.4,68.2 215.9,67.2 215.7,66.1 215.6,65.0 215.1,64.6 214.2,63.7 214.1,62.7 214.4,61.5 214.3,60.0 213.9,58.0 213.7,56.5 213.1,56.0 212.5,56.0 211.8,56.9 211.1,56.5 211.1,55.3 210.7,53.8 210.0,52.8 209.4,51.9 209.1,51.0 208.2,51.2 207.4,51.5 206.7,51.6 205.7,51.9 205.3,52.8 204.1,53.6 203.3,54.7 201.9,55.8 201.0,56.7 200.2,57.4 200.2,58.8 199.9,60.4 199.9,61.7 199.3,62.6 198.7,62.9 198.1,63.6 197.4,62.9 197.1,62.0 196.7,60.7 196.1,59.4 195.7,58.0 195.1,56.8 194.7,55.4 194.5,54.1 194.4,52.8 194.4,51.9 194.1,51.3 193.9,52.1 193.0,52.6 192.0,51.9 191.6,51.1 191.4,51.0 191.1,50.1 190.4,49.5 189.9,48.9 189.7,48.5 188.1,48.6 186.2,48.7 185.1,48.5 183.7,48.3 182.7,48.1 182.4,47.2 181.8,47.0 180.8,47.3 179.7,47.2 178.9,46.7 178.0,46.0 177.4,45.1 177.0,44.3 176.1,44.1 175.6,44.5 175.7,45.7 176.2,46.6 176.7,47.2 177.0,47.8 177.6,49.0 178.0,47.8 178.2,48.8 178.2,49.5 179.3,49.6 180.4,49.3 181.2,48.5 181.7,47.8 181.9,47.9 181.8,48.9 182.2,49.4 182.9,49.9 183.7,50.1 184.5,51.0 184.1,51.9 183.6,52.8 183.0,53.2 182.9,54.1 182.2,54.4 181.6,55.0 181.0,55.6 180.1,55.9 178.7,56.9 177.4,57.6 176.2,58.0 175.4,58.5 173.9,59.0 173.1,59.4 172.0,59.6 171.8,58.9 171.4,57.6 171.3,56.3 170.7,55.1 169.9,53.6 169.0,52.5 168.6,51.4 168.1,50.1 167.4,49.2 166.6,48.1 165.9,46.9 165.2,46.0 165.4,44.9 165.1,45.5 164.9,46.2 164.4,45.6 163.8,44.8 163.6,44.5 163.7,45.1 164.3,46.6 164.8,47.8 165.4,49.2 165.9,50.1 166.6,51.4 167.1,52.3 167.2,53.6 167.9,54.9 168.5,56.3 169.0,57.2 169.8,57.9 170.6,58.9 171.4,59.7 171.8,60.3 171.7,60.7 172.4,61.5 173.1,61.5 174.3,61.3 175.4,60.9 176.6,60.7 177.9,60.3 177.8,61.5 177.7,62.4 177.4,63.3 176.8,64.6 176.2,65.7 175.3,67.1 174.3,68.2 173.3,69.1 172.4,69.9 171.6,70.8 170.8,71.6 170.0,72.5 169.4,73.2 168.9,74.4 168.6,75.4 168.4,76.5 168.7,77.6 169.0,79.1 169.5,80.0 169.7,81.7 169.7,83.5 169.3,85.0 168.0,86.0 167.0,86.6 166.0,87.7 165.3,88.5 165.7,89.6 165.8,90.5 165.8,91.8 165.2,92.6 164.3,93.0 163.7,93.5 163.8,94.3 163.6,95.6 163.0,96.4 162.2,97.5 161.4,98.4 160.3,99.4 159.3,100.2 158.3,100.6 157.4,100.7 156.2,100.6 155.0,100.9 153.9,101.3 153.1,101.0 152.7,100.8 152.7,100.2 152.4,99.3 152.0,97.8 151.4,96.5 151.1,95.9 150.3,94.6 150.0,93.1 149.7,90.9 149.3,89.9 148.7,88.5 147.9,87.0 147.5,85.8 147.6,84.6 147.9,83.2 148.3,82.2 149.0,81.3 149.0,80.1 148.6,78.9 148.3,77.8 147.9,76.1 147.7,75.1 147.0,74.2 146.2,73.1 145.6,71.8 145.7,70.5 145.9,69.4 146.0,68.6 146.0,67.6 145.4,67.2 145.0,66.7 144.0,66.9 143.1,67.0 142.6,66.2 142.0,65.3 141.2,65.1 140.0,65.2 139.4,65.4 138.5,65.8 137.3,66.4 136.9,66.6 136.0,66.3 135.0,66.2 133.9,66.5 132.7,66.9 132.0,66.6 131.0,65.9 130.2,65.2 129.4,64.3 128.6,63.8 128.3,62.8 127.7,62.1 127.2,61.3 126.6,60.7 125.9,59.9 125.6,58.9 125.3,58.0 125.0,57.8 125.6,56.9 125.9,55.8 126.1,54.5 125.9,53.5 125.4,52.4 125.5,51.4 126.0,50.1 126.6,49.2 127.2,48.1 127.7,47.4 128.6,46.3 129.7,46.0 130.7,45.3 131.0,44.4 131.0,43.5 131.3,42.4 132.0,41.5 133.1,40.8 133.6,40.0 134.0,39.3 134.4,39.2 135.0,39.9 136.2,39.8 137.0,39.9 137.7,39.4 138.5,39.2 139.7,38.7 140.8,38.4 142.3,38.4 143.5,38.3 144.7,38.4 145.8,38.0 146.3,38.1 147.0,38.3 146.6,38.8 146.7,39.4 147.0,39.9 146.6,40.5 146.3,41.0 146.8,41.3 147.3,41.7 148.1,42.0 148.9,42.0 150.2,42.4 150.4,43.1 151.2,43.4 152.4,43.7 153.1,44.2 153.7,43.9 154.0,43.2 153.9,42.5 154.7,42.0 155.8,42.0 156.4,42.4 157.4,42.7 157.9,43.0 158.9,43.1 160.0,43.5 161.0,43.6 162.0,43.1 162.7,43.0 163.4,43.4 164.3,43.5 164.9,43.2 165.2,42.5 165.4,41.8 165.8,40.9 166.1,40.0 166.0,39.3 166.4,38.6 165.9,38.6 165.1,38.4 164.5,39.0 163.5,39.1 162.7,38.5 162.0,38.7 161.2,39.0 160.3,38.5 159.5,38.3 159.4,37.6 158.8,37.1 159.1,36.7 159.0,36.1 158.7,35.6 159.0,35.3 159.7,35.3 160.8,35.3 161.5,35.0 160.9,34.7 162.0,34.6 162.7,34.5 163.9,34.0 165.0,33.9 165.6,33.9 166.2,34.2 167.4,34.7 168.5,34.8 169.7,34.8 170.4,34.3 170.5,33.4 169.3,32.7 168.1,31.8 167.2,31.2 167.4,31.0 168.1,29.9 168.7,29.3 167.7,29.4 166.6,29.8 165.4,30.6 165.7,31.1 166.6,30.9 165.6,31.4 164.7,31.8 164.2,31.6 163.9,30.9 163.5,30.7 164.4,30.4 163.1,30.0 162.4,29.8 162.0,30.2 161.4,31.0 160.7,31.6 160.5,32.6 160.0,33.2 160.0,33.9 160.7,34.5 160.4,34.8 159.7,34.8 158.8,35.1 158.7,35.5 158.5,34.9 157.7,34.8 157.0,34.9 155.9,35.2 155.9,36.1 156.2,36.6 156.9,37.2 156.2,37.6 156.4,38.3 155.9,38.7 155.4,38.4 155.0,38.3 154.7,37.6 155.0,37.1 154.5,36.7 154.0,36.0 153.5,35.2 153.4,34.1 152.7,33.4 151.9,32.8 150.8,32.5 150.2,31.9 149.5,31.1 149.0,30.7 148.6,30.6 148.0,31.0 148.0,31.7 149.0,32.6 149.5,33.5 150.5,34.0 151.0,34.1 152.0,34.9 152.7,35.6 152.2,35.4 151.7,35.2 151.2,35.8 151.7,36.5 151.2,37.0 150.6,37.5 150.7,36.8 150.8,36.1 150.4,35.6 150.0,35.4 149.3,34.8 148.5,34.5 147.7,34.0 147.0,33.4 146.6,32.8 146.3,32.2 145.6,31.9 144.8,32.2 144.3,32.3 143.5,32.9 142.3,32.7 141.6,32.6 141.0,33.0 140.9,33.7 141.0,34.1 140.0,34.6 139.1,34.9 138.3,36.1 138.7,36.7 138.1,37.2 137.9,37.7 137.1,38.3 136.8,38.5 135.8,38.5 135.0,38.6 134.7,38.8 134.2,39.1M0.0,10.3 2.3,11.1 4.2,11.9 6.2,12.0 7.9,12.7 6.9,13.3 5.8,14.1 4.6,14.0 3.5,13.7 1.9,13.3 1.2,13.2 0.0,13.7M174.7,31.7 175.0,30.7 176.2,29.9 177.7,29.5 179.3,29.7 179.4,31.0 178.0,31.2 177.7,31.8 179.0,33.3 179.1,34.3 180.1,34.3 179.5,35.8 179.9,37.4 180.0,38.3 178.5,38.4 177.2,38.0 176.2,37.7 176.1,36.7 176.6,35.5 176.0,34.3 175.1,33.2 174.8,32.3 174.7,31.7M148.0,37.6 148.7,37.2 150.5,37.1 150.1,38.0 150.0,38.5 149.5,38.3 148.3,37.7 148.0,37.6M145.0,36.5 144.8,34.8 145.6,34.6 146.0,34.8 145.9,36.3 145.4,36.5 145.0,36.5M145.1,34.4 145.1,33.5 145.7,33.0 145.8,33.6 145.6,34.4 145.1,34.4M156.6,39.8 157.4,39.6 158.7,39.8 158.4,40.0 157.0,40.0 156.6,39.8M163.4,40.0 163.9,39.7 165.1,39.4 164.7,40.0 163.6,40.3 163.4,40.0M134.1,26.8 135.3,26.5 136.2,26.2 137.3,26.2 138.7,26.2 139.6,25.8 139.3,25.3 139.8,24.6 138.7,24.2 138.6,23.8 138.1,23.0 137.5,22.6 137.3,21.9 136.6,21.6 136.5,21.3 137.1,20.3 136.0,20.1 135.4,20.2 136.1,19.3 134.7,19.3 134.1,20.0 134.2,21.2 133.7,21.3 134.3,21.9 134.8,22.6 135.9,22.6 136.0,23.3 136.3,23.6 136.1,24.0 135.0,23.9 134.9,24.4 135.4,24.8 134.6,25.3 135.4,25.5 136.0,25.6 135.3,25.8 134.3,26.6 134.1,26.8M133.9,24.9 133.6,24.9 132.7,25.1 131.2,25.5 130.8,25.0 131.2,24.2 130.7,23.8 131.0,23.2 132.0,23.1 132.1,22.3 133.1,22.2 134.0,22.6 134.3,23.0 133.8,23.5 133.9,24.3 133.9,24.9M146.8,1.0 147.7,2.0 148.9,2.5 150.4,3.3 151.6,3.5 153.1,2.7 155.4,2.0 159.3,1.6 159.3,0.5 155.4,0.1 152.4,0.4 149.3,0.6 146.8,1.0M174.7,0.4 178.5,0.5 183.1,0.3 187.0,-0.4 183.1,-1.0 178.5,-0.6 174.7,0.4M178.9,8.2 179.3,7.1 180.4,6.2 181.6,5.4 183.1,4.6 185.4,3.9 188.5,3.2 191.2,3.2 190.8,3.7 187.7,4.4 185.4,5.1 183.5,6.1 182.4,7.0 181.2,8.3 182.7,8.8 180.8,8.8 179.3,8.6 178.9,8.2M211.6,1.0 213.9,1.8 217.8,1.4 219.7,1.8 220.8,1.0 218.5,0.1 215.4,-0.4 212.4,-0.2 211.6,1.0M243.9,4.5 246.2,5.5 248.5,6.4 250.8,5.4 253.9,4.7 252.4,4.2 247.8,4.0 244.7,4.0 243.9,4.5M247.8,30.4 248.9,30.0 248.8,27.5 249.7,27.7 248.7,25.5 248.7,24.0 248.2,23.1 247.9,23.8 247.5,25.1 247.8,26.9 247.7,28.2 247.8,30.4M246.2,34.3 247.1,34.1 247.5,33.4 248.7,33.9 249.7,33.1 250.5,32.7 250.3,31.9 249.5,32.0 248.1,30.9 247.5,31.1 247.3,32.6 246.5,32.8 246.1,33.6 246.2,34.3M239.2,40.9 240.5,39.7 242.0,39.5 243.1,39.2 243.8,38.0 244.1,38.4 245.1,37.8 245.9,36.9 246.2,35.6 246.5,34.6 247.3,34.4 247.4,35.6 247.8,36.1 247.0,37.1 246.9,38.3 246.8,39.1 246.2,40.0 245.5,40.3 244.7,40.4 243.8,40.6 243.0,41.3 242.5,40.6 241.2,40.6 240.1,41.0 239.2,40.9M238.4,41.3 239.2,41.0 240.0,41.5 239.6,43.2 239.0,43.5 238.7,43.1 238.4,42.0 238.4,41.3M240.5,41.8 240.8,42.0 242.1,41.1 242.0,40.7 240.8,40.8 240.5,41.8M230.9,50.6 231.5,51.4 232.0,50.6 232.4,48.8 231.6,48.7 230.9,50.6M222.1,53.9 222.8,54.8 223.5,54.5 223.9,53.5 223.1,53.1 222.1,53.4 222.1,53.9M231.3,54.5 232.5,54.5 232.7,55.8 232.1,56.9 232.1,58.3 233.9,58.9 234.0,59.7 233.3,59.3 232.4,58.6 231.3,58.2 230.8,56.4 231.3,54.5M232.4,64.6 233.5,63.9 234.1,63.6 235.1,62.2 235.8,63.7 235.6,65.2 234.9,65.8 233.9,65.1 232.4,64.6M234.1,59.8 235.2,60.9 234.7,62.0 234.1,61.1 234.1,59.8M232.4,60.4 233.1,61.1 233.3,62.4 232.7,62.1 232.4,61.3 232.4,60.4M228.7,63.4 230.4,61.5 230.7,60.8 229.9,61.7 228.7,63.4M222.4,69.4 222.8,69.0 223.9,69.3 225.4,68.0 226.4,66.8 227.4,66.1 228.4,64.6 229.1,65.5 230.2,66.0 229.3,66.9 229.1,68.1 230.0,69.9 229.1,70.3 228.9,71.5 228.1,72.9 227.8,74.1 226.7,73.9 225.4,73.6 224.4,73.4 223.3,73.3 223.1,72.1 222.4,70.8 222.4,69.4M211.8,65.8 213.5,66.2 214.4,67.5 215.8,68.8 216.6,69.3 218.4,70.8 218.9,72.1 220.1,73.4 219.9,75.8 218.9,75.9 217.2,74.3 216.1,72.5 215.4,71.2 214.4,69.3 213.5,68.2 212.4,66.8 211.8,65.8M219.4,76.7 220.4,76.0 221.8,76.3 223.4,76.8 225.1,76.8 226.5,77.6 226.5,78.4 225.1,78.1 223.1,77.9 221.6,77.6 220.4,77.2 219.4,76.7M233.5,79.8 234.7,78.8 236.4,78.1 235.4,78.8 234.2,79.6 233.5,79.8M228.4,78.7 230.1,78.0 233.0,77.9 233.1,78.4 230.4,78.5 228.4,78.7M230.4,75.6 231.1,75.6 231.1,73.2 231.8,73.0 231.8,74.9 233.0,75.1 232.4,73.6 231.9,72.4 233.4,71.5 232.0,71.5 231.2,70.4 231.7,69.9 233.1,70.0 234.3,69.9 234.8,69.3 234.1,70.4 232.8,70.3 231.4,70.3 230.8,70.8 230.5,71.5 229.9,73.1 230.4,73.8 230.4,75.6M236.6,69.4 237.4,69.2 237.0,70.3 237.6,71.2 236.9,71.0 236.6,69.4M239.3,71.9 240.5,71.1 241.7,71.5 242.4,73.6 244.3,72.1 246.2,72.9 248.1,73.6 249.7,74.1 250.7,75.4 252.0,76.1 252.4,77.8 254.1,79.8 252.4,79.7 251.2,78.2 249.3,77.5 248.8,78.7 247.0,78.7 245.8,77.9 244.7,78.1 244.4,77.2 245.2,76.7 243.9,75.1 242.0,74.3 240.7,74.3 240.0,73.2 240.8,72.8 240.1,72.5 239.3,71.9M253.9,75.6 255.1,75.0 255.7,74.4 255.1,76.0 253.9,75.6M225.8,90.1 226.3,89.9 228.1,88.9 229.9,88.6 231.6,87.9 232.6,86.1 232.8,85.2 233.6,85.0 234.3,84.1 235.4,83.2 236.4,83.0 237.0,83.9 238.1,83.8 238.5,82.2 239.3,81.5 240.5,81.3 240.5,80.8 241.6,81.3 243.1,81.3 243.8,81.5 243.1,82.4 242.8,83.7 243.9,84.6 245.5,85.8 246.6,86.1 247.4,84.4 247.5,82.2 248.1,80.1 248.9,81.7 249.0,83.2 250.3,83.9 250.4,85.2 251.1,87.3 252.9,88.7 253.7,90.4 254.5,90.6 254.9,91.6 256.3,93.4 256.7,95.9 256.2,98.0 255.1,99.7 254.5,101.3 253.9,103.7 252.4,103.9 251.1,105.1 249.9,104.4 248.9,104.8 247.4,104.5 246.2,103.8 245.9,103.1 245.1,102.0 244.7,101.0 244.5,99.5 243.1,101.3 242.8,101.0 242.4,99.7 241.6,99.3 240.5,98.8 239.3,98.4 237.8,98.6 236.2,99.1 234.7,99.7 233.5,100.5 231.6,100.4 230.4,100.6 229.3,101.5 227.8,101.5 227.0,100.9 227.4,100.0 227.5,98.8 227.0,97.1 226.9,96.2 226.2,94.0 225.8,93.1 226.1,91.8 225.8,90.1M249.8,106.5 251.2,106.8 252.6,106.7 252.6,107.8 252.0,108.7 250.8,109.0 250.2,107.8 249.8,106.5M271.4,100.9 272.8,102.2 273.5,103.2 273.9,103.8 275.8,103.8 275.4,105.2 274.7,105.2 273.9,106.9 273.3,107.3 272.8,106.9 273.2,105.9 272.4,105.4 272.8,104.8 272.8,103.2 271.6,101.7 271.4,100.9M271.4,106.3 272.5,107.2 272.2,108.1 271.5,109.0 270.2,109.8 269.7,111.0 268.5,111.7 266.6,111.1 266.8,110.4 268.0,109.4 269.7,108.5 270.5,107.4 271.0,106.6 271.4,106.3M176.4,81.3 177.4,84.4 176.8,85.7 176.0,88.3 175.0,92.3 174.7,92.8 173.3,93.1 172.4,92.5 172.0,91.2 171.8,89.9 172.7,88.3 172.4,86.1 172.7,85.0 174.3,84.5 175.3,83.5 176.0,82.2 176.4,81.3M200.0,65.0 199.9,63.7 200.2,62.1 201.0,63.3 201.5,64.6 201.0,65.3 200.2,65.5 200.0,65.0M91.3,115.8 92.7,115.8 94.0,116.0 93.5,116.6 91.9,116.6 91.3,115.8M67.6,29.8 68.9,29.8 70.5,29.1 71.9,29.9 73.4,29.9 73.3,29.1 71.9,28.0 70.4,27.9 69.6,28.6 67.6,29.8M70.9,34.1 71.7,34.1 72.2,33.0 72.0,31.7 72.7,30.8 73.3,30.5 71.9,30.5 71.2,31.0 71.1,31.7 70.9,33.0 70.9,34.1M73.4,30.4 74.3,31.0 75.0,33.0 75.6,32.7 75.6,31.7 76.6,31.5 76.9,30.5 75.8,30.3 73.4,30.4M74.3,34.1 75.8,34.3 77.7,33.4 77.3,33.1 75.8,33.3 74.6,33.8 74.3,34.1M77.1,32.7 78.5,32.7 79.9,32.6 79.7,32.0 78.9,32.1 77.5,32.4 77.1,32.7M63.9,26.4 64.4,26.0 63.5,24.7 62.5,23.5 63.2,23.5 64.0,24.7 63.9,26.4M48.5,17.2 50.4,16.8 52.3,16.3 54.6,15.6 53.1,15.9 50.8,15.9 49.2,16.5 48.5,17.2M42.3,13.7 43.9,12.8 46.2,11.9 47.7,12.4 45.8,13.3 44.6,13.9 42.3,13.7M52.7,19.4 54.6,18.8 56.6,18.7 54.6,19.1 52.7,19.4M59.6,21.2 60.0,19.8 60.4,20.3 59.6,21.2M61.9,25.5 62.7,25.1 61.7,24.1 61.2,24.4 61.9,25.5M72.6,61.0 73.1,60.4 73.3,60.7 72.7,61.2 72.6,61.0M84.8,84.1 85.4,84.6 85.6,85.1 85.3,84.8 84.8,84.1M162.9,71.2 163.5,70.5 164.7,70.7 165.0,71.2 164.3,72.9 163.1,73.0 162.8,72.1 162.9,71.2M161.0,73.6 161.2,75.6 162.0,77.3 162.5,78.4 162.1,77.8 161.3,76.3 160.8,74.7 161.0,73.6M164.7,79.1 165.0,80.4 165.3,82.2 165.7,83.3 165.1,82.6 164.9,81.3 164.7,79.1M218.4,25.5 219.7,25.2 221.2,24.2 222.4,22.9 223.0,21.8 222.2,22.5 220.4,24.1 218.9,24.9 218.4,25.5M195.1,29.9 196.6,29.8 198.1,30.1 199.4,29.8 198.5,29.7 196.6,29.6 195.4,29.6 195.1,29.9M183.4,31.2 183.9,30.4 185.4,29.9 186.1,31.2 184.7,32.3 183.5,32.1 183.4,31.2M161.6,17.8 162.7,18.1 163.7,17.4 163.1,16.6 162.0,16.9 161.6,17.8M165.0,17.2 166.0,16.9 166.4,16.1 165.4,15.6 165.0,16.3 165.0,17.2M148.1,19.1 149.1,19.3 149.3,18.7 148.5,18.8 148.1,19.1M78.6,49.7 78.9,48.4 79.1,49.4 78.6,49.7M78.1,47.4 79.3,47.4 78.6,47.1 78.1,47.4M18.5,54.1 19.2,53.6 18.6,53.0 18.5,54.1M16.8,52.1 17.2,51.8 17.0,52.1 16.8,52.1M68.1,71.0 68.6,70.8 68.9,71.5 68.2,71.6 68.1,71.0M264.7,88.5 265.8,89.2 267.0,90.3 266.2,90.1 264.7,88.5M191.6,113.8 192.7,113.9 192.4,114.4 191.6,113.8M109.3,118.2 110.8,118.3 110.4,118.7 109.3,118.2M274.9,86.1 275.9,86.0 275.8,86.7 274.9,86.1M258.9,76.9 260.8,78.0 262.0,79.1 261.2,78.8 259.3,77.4 258.9,76.9M116.6,37.0 117.7,36.8 117.0,37.0 116.6,37.0M125.8,45.9 126.6,46.2 128.1,45.3 125.8,45.9M181.1,89.2 181.4,89.4 181.1,89.5 181.1,89.2M179.5,59.7 180.4,59.7 180.1,60.0 179.5,59.7M7.7,24.5 9.2,24.0 10.8,23.5 8.8,24.2 7.7,24.5M1.5,25.4 3.8,25.1 6.2,24.8 3.5,25.3 1.5,25.4M271.6,24.4 273.2,24.8 275.1,25.2 276.6,25.6 274.7,25.1 272.4,24.5 271.6,24.4M250.8,32.3 252.4,31.2 253.9,30.4 255.5,29.1 257.0,27.9 258.5,26.7 257.8,27.3 255.8,29.1 253.9,30.5 252.0,31.7 250.8,32.3M275.9,8.3 276.9,7.9 276.9,8.5 275.9,8.3M76.9,15.0 78.5,15.2 79.3,14.7 77.7,14.6 76.9,15.0M75.0,15.7 76.6,16.2 76.9,15.9 75.4,15.4 75.0,15.7M8.8,15.4 7.3,15.2 8.1,14.9 8.8,15.4M5.4,17.6 6.0,17.8 5.8,17.5 5.4,17.6M0.0,139.9 7.7,140.2 13.1,140.4 16.9,139.5 19.2,139.0 23.1,138.6 26.9,137.7 30.8,137.3 34.6,136.8 38.5,136.7 42.3,136.1 46.2,136.4 50.0,136.6 53.9,136.8 57.7,137.1 60.0,137.3 61.6,136.0 65.4,135.5 69.2,135.4 73.1,135.8 76.9,135.7 80.0,135.4 83.1,133.8 84.6,132.5 86.6,131.1 88.5,129.8 90.0,128.5 92.3,127.2 94.6,127.0 93.9,128.1 92.3,129.4 91.2,131.6 90.8,133.3 91.2,135.1 90.8,136.8 91.6,138.2 92.3,139.5 96.2,140.4 100.0,139.9 103.9,139.9 107.7,139.7 111.6,139.5 115.4,138.2 119.3,137.3 123.1,136.0 127.0,135.1 130.8,134.0 134.7,133.8 138.5,133.2 142.3,133.1 146.2,132.9 150.0,132.7 153.9,132.9 157.7,133.1 161.6,132.7 165.4,132.2 169.3,131.6 173.1,130.9 177.0,129.8 180.8,129.6 184.7,130.3 188.5,130.9 192.4,131.6 193.9,132.5 196.2,132.5 198.5,131.6 200.1,130.7 203.9,130.1 207.8,129.8 211.6,129.6 215.4,129.2 219.3,129.4 223.1,129.6 227.0,130.1 230.8,130.1 234.7,129.8 238.5,129.6 242.4,129.6 246.2,130.0 250.1,130.7 253.9,131.6 257.8,132.0 261.6,132.7 263.9,133.6 266.2,134.2 269.5,134.0 269.3,135.1 267.8,136.4 265.5,137.3 263.9,138.6 265.5,139.7 267.8,139.9 270.8,140.0 273.9,140.2 277.0,139.9" fill="none" stroke="#00ffff" stroke-opacity="0.55" stroke-width="1.3" stroke-linejoin="round"/><path d="M13.1,141.0 L0.5,141.0 L0.5,0.5 L276.5,0.5 L276.5,141.0 L262.0,141.0" fill="none" stroke="#8c8c8c" stroke-width="1"/><rect x="13.1" y="140.5" width="248.9" height="1" fill="#9fe3dc"/></svg>
<div class="cb" style="left:637px;top:224px;width:8px;height:142px"></div>
<div class="cbt" style="left:642.5px;top:294.5px"></div>
<div class="t title" style="font-size:18.1px;left:502.5px;top:218.5px;transform:translate(-50%,-0.8465em)">SSP5-8.5 – Specific Humidity</div>
<div class="t lab" style="left:491.4px;top:396px;transform:translate(-50%,-0.8465em)">(d)</div>
<div class="t tick" style="left:648.5px;top:224px;transform:translateY(-0.45em)">50</div>
<div class="t tick" style="left:648.5px;top:295.0px;transform:translateY(-0.45em)">0</div>
<div class="t tick" style="left:648.5px;top:366px;transform:translateY(-0.45em)">-50</div>
<div class="t ylab" style="left:685.3000000000001px;top:225.2px;">Percent Change [%]</div>
</body></html>
